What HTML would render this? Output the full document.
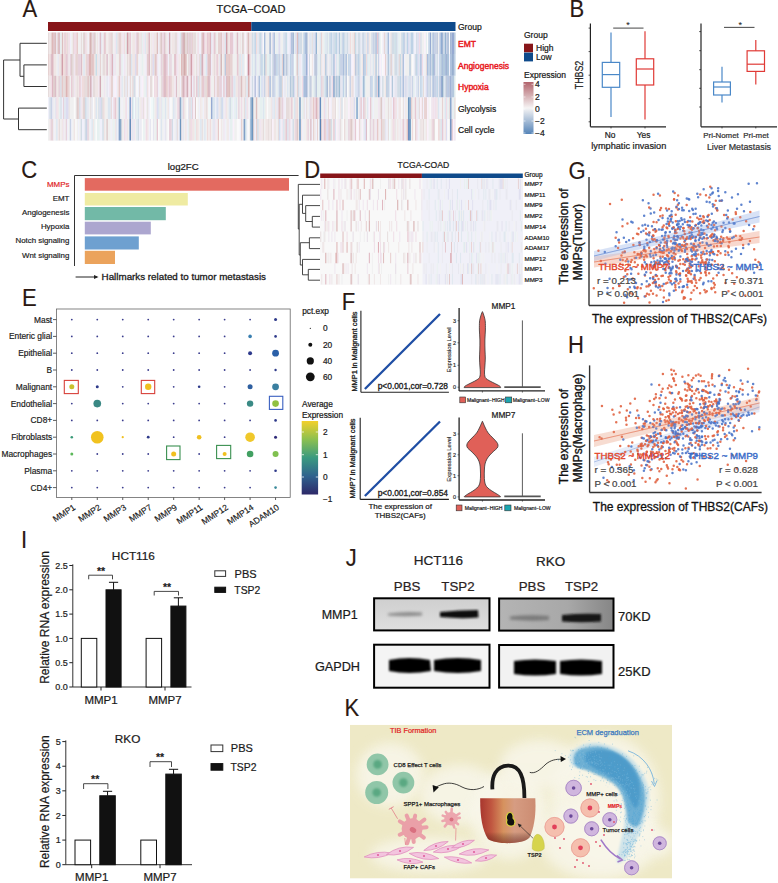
<!DOCTYPE html><html><head><meta charset="utf-8"><style>html,body{margin:0;padding:0;background:#fff;width:778px;height:883px;overflow:hidden}svg{display:block;font-family:"Liberation Sans",sans-serif}</style></head><body><svg width="778" height="883" viewBox="0 0 778 883" font-family='"Liberation Sans", sans-serif'><rect width="778" height="883" fill="#fff"/><text transform="translate(22.6 17.4) scale(0.93 1)" font-size="23.7" fill="#2a1812" stroke="#2a1812" stroke-width="0.15">A</text><text x="251" y="12.96" font-size="11" text-anchor="middle" fill="#1a1a1a" stroke="#1a1a1a" stroke-width="0.22">TCGA−COAD</text><rect x="48" y="22" width="203.3" height="9" fill="#871519"/><rect x="251.3" y="22" width="204.2" height="9" fill="#0e4a8b"/><rect x="48" y="32.5" width="407.5" height="108" fill="#f6f6f8"/><path d="M48 32.5h1.41v21.6h-1.41zM48 75.7h1.41v21.6h-1.41zM57.51 75.7h1.41v21.6h-1.41zM58.87 118.9h1.41v21.6h-1.41zM60.23 54.1h1.41v21.6h-1.41zM62.94 75.7h1.41v21.6h-1.41zM64.3 75.7h1.41v21.6h-1.41zM67.02 32.5h1.41v21.6h-1.41zM68.38 97.3h1.41v21.6h-1.41zM72.45 54.1h1.41v21.6h-1.41zM72.45 75.7h1.41v21.6h-1.41zM76.53 75.7h1.41v21.6h-1.41zM80.6 32.5h1.41v21.6h-1.41zM84.68 75.7h1.41v21.6h-1.41zM86.03 75.7h1.41v21.6h-1.41zM88.75 75.7h1.41v21.6h-1.41zM90.11 97.3h1.41v21.6h-1.41zM91.47 32.5h1.41v21.6h-1.41zM92.83 75.7h1.41v21.6h-1.41zM94.18 75.7h1.41v21.6h-1.41zM102.33 54.1h1.41v21.6h-1.41zM103.69 54.1h1.41v21.6h-1.41zM109.12 32.5h1.41v21.6h-1.41zM111.84 32.5h1.41v21.6h-1.41zM117.28 32.5h1.41v21.6h-1.41zM124.07 75.7h1.41v21.6h-1.41zM126.78 54.1h1.41v21.6h-1.41zM126.78 75.7h1.41v21.6h-1.41zM139.01 75.7h1.41v21.6h-1.41zM140.37 32.5h1.41v21.6h-1.41zM143.08 97.3h1.41v21.6h-1.41zM147.16 32.5h1.41v21.6h-1.41zM147.16 97.3h1.41v21.6h-1.41zM149.88 75.7h1.41v21.6h-1.41zM151.23 75.7h1.41v21.6h-1.41zM153.95 54.1h1.41v21.6h-1.41zM160.74 75.7h1.41v21.6h-1.41zM162.1 54.1h1.41v21.6h-1.41zM164.82 32.5h1.41v21.6h-1.41zM168.89 54.1h1.41v21.6h-1.41zM174.32 32.5h1.41v21.6h-1.41zM175.68 32.5h1.41v21.6h-1.41zM177.04 118.9h1.41v21.6h-1.41zM185.19 32.5h1.41v21.6h-1.41zM187.91 54.1h1.41v21.6h-1.41zM193.34 32.5h1.41v21.6h-1.41zM194.7 32.5h1.41v21.6h-1.41zM196.06 54.1h1.41v21.6h-1.41zM198.78 54.1h1.41v21.6h-1.41zM198.78 75.7h1.41v21.6h-1.41zM201.49 118.9h1.41v21.6h-1.41zM204.21 75.7h1.41v21.6h-1.41zM205.57 75.7h1.41v21.6h-1.41zM205.57 97.3h1.41v21.6h-1.41zM213.72 54.1h1.41v21.6h-1.41zM215.08 32.5h1.41v21.6h-1.41zM227.3 32.5h1.41v21.6h-1.41zM230.02 75.7h1.41v21.6h-1.41zM238.17 54.1h1.41v21.6h-1.41zM239.53 75.7h1.41v21.6h-1.41zM243.6 97.3h1.41v21.6h-1.41zM244.96 75.7h1.41v21.6h-1.41zM246.32 32.5h1.41v21.6h-1.41zM253.11 97.3h1.41v21.6h-1.41zM262.62 118.9h1.41v21.6h-1.41zM268.05 118.9h1.41v21.6h-1.41zM270.77 118.9h1.41v21.6h-1.41zM277.56 118.9h1.41v21.6h-1.41zM280.27 97.3h1.41v21.6h-1.41zM281.63 75.7h1.41v21.6h-1.41zM284.35 118.9h1.41v21.6h-1.41zM285.71 97.3h1.41v21.6h-1.41zM287.07 97.3h1.41v21.6h-1.41zM288.43 97.3h1.41v21.6h-1.41zM295.22 97.3h1.41v21.6h-1.41zM303.37 97.3h1.41v21.6h-1.41zM306.08 97.3h1.41v21.6h-1.41zM311.52 32.5h1.41v21.6h-1.41zM322.38 75.7h1.41v21.6h-1.41zM327.82 97.3h1.41v21.6h-1.41zM334.61 97.3h1.41v21.6h-1.41zM340.04 118.9h1.41v21.6h-1.41zM364.49 97.3h1.41v21.6h-1.41zM379.43 97.3h1.41v21.6h-1.41zM382.15 118.9h1.41v21.6h-1.41zM383.51 118.9h1.41v21.6h-1.41zM387.58 97.3h1.41v21.6h-1.41zM387.58 118.9h1.41v21.6h-1.41zM390.3 32.5h1.41v21.6h-1.41zM394.38 118.9h1.41v21.6h-1.41zM402.53 97.3h1.41v21.6h-1.41zM418.82 97.3h1.41v21.6h-1.41zM420.18 118.9h1.41v21.6h-1.41zM422.9 75.7h1.41v21.6h-1.41zM422.9 118.9h1.41v21.6h-1.41zM425.62 54.1h1.41v21.6h-1.41zM433.77 118.9h1.41v21.6h-1.41zM439.2 118.9h1.41v21.6h-1.41zM448.71 97.3h1.41v21.6h-1.41zM454.14 97.3h1.41v21.6h-1.41z" fill="#e6dcdc"/><path d="M48 54.1h1.41v21.6h-1.41zM50.72 32.5h1.41v21.6h-1.41zM52.08 118.9h1.41v21.6h-1.41zM64.3 54.1h1.41v21.6h-1.41zM68.38 75.7h1.41v21.6h-1.41zM72.45 32.5h1.41v21.6h-1.41zM75.17 54.1h1.41v21.6h-1.41zM76.53 54.1h1.41v21.6h-1.41zM77.88 97.3h1.41v21.6h-1.41zM83.32 75.7h1.41v21.6h-1.41zM86.03 54.1h1.41v21.6h-1.41zM88.75 32.5h1.41v21.6h-1.41zM99.62 54.1h1.41v21.6h-1.41zM102.33 97.3h1.41v21.6h-1.41zM105.05 32.5h1.41v21.6h-1.41zM110.48 32.5h1.41v21.6h-1.41zM110.48 75.7h1.41v21.6h-1.41zM110.48 97.3h1.41v21.6h-1.41zM111.84 75.7h1.41v21.6h-1.41zM118.63 32.5h1.41v21.6h-1.41zM118.63 54.1h1.41v21.6h-1.41zM119.99 32.5h1.41v21.6h-1.41zM128.14 32.5h1.41v21.6h-1.41zM129.5 75.7h1.41v21.6h-1.41zM132.22 75.7h1.41v21.6h-1.41zM137.65 32.5h1.41v21.6h-1.41zM151.23 54.1h1.41v21.6h-1.41zM159.38 32.5h1.41v21.6h-1.41zM181.12 75.7h1.41v21.6h-1.41zM189.27 97.3h1.41v21.6h-1.41zM189.27 118.9h1.41v21.6h-1.41zM191.98 32.5h1.41v21.6h-1.41zM213.72 75.7h1.41v21.6h-1.41zM216.43 75.7h1.41v21.6h-1.41zM217.79 32.5h1.41v21.6h-1.41zM217.79 75.7h1.41v21.6h-1.41zM219.15 32.5h1.41v21.6h-1.41zM230.02 54.1h1.41v21.6h-1.41zM231.38 54.1h1.41v21.6h-1.41zM240.88 118.9h1.41v21.6h-1.41zM249.03 75.7h1.41v21.6h-1.41zM253.11 118.9h1.41v21.6h-1.41zM255.83 118.9h1.41v21.6h-1.41zM265.33 54.1h1.41v21.6h-1.41zM268.05 75.7h1.41v21.6h-1.41zM281.63 54.1h1.41v21.6h-1.41zM296.58 75.7h1.41v21.6h-1.41zM312.88 118.9h1.41v21.6h-1.41zM316.95 97.3h1.41v21.6h-1.41zM316.95 118.9h1.41v21.6h-1.41zM321.03 32.5h1.41v21.6h-1.41zM321.03 118.9h1.41v21.6h-1.41zM325.1 118.9h1.41v21.6h-1.41zM344.12 118.9h1.41v21.6h-1.41zM349.55 118.9h1.41v21.6h-1.41zM352.27 75.7h1.41v21.6h-1.41zM353.62 32.5h1.41v21.6h-1.41zM359.06 118.9h1.41v21.6h-1.41zM383.51 32.5h1.41v21.6h-1.41zM384.87 54.1h1.41v21.6h-1.41zM398.45 54.1h1.41v21.6h-1.41zM410.68 97.3h1.41v21.6h-1.41zM414.75 118.9h1.41v21.6h-1.41zM421.54 97.3h1.41v21.6h-1.41zM425.62 97.3h1.41v21.6h-1.41zM441.92 97.3h1.41v21.6h-1.41z" fill="#e6d2d2"/><path d="M48 97.3h1.41v21.6h-1.41zM53.43 118.9h1.41v21.6h-1.41zM56.15 32.5h1.41v21.6h-1.41zM61.58 97.3h1.41v21.6h-1.41zM67.02 118.9h1.41v21.6h-1.41zM69.73 32.5h1.41v21.6h-1.41zM71.09 118.9h1.41v21.6h-1.41zM77.88 118.9h1.41v21.6h-1.41zM81.96 118.9h1.41v21.6h-1.41zM83.32 118.9h1.41v21.6h-1.41zM87.39 32.5h1.41v21.6h-1.41zM90.11 118.9h1.41v21.6h-1.41zM98.26 32.5h1.41v21.6h-1.41zM99.62 118.9h1.41v21.6h-1.41zM100.97 118.9h1.41v21.6h-1.41zM107.77 75.7h1.41v21.6h-1.41zM110.48 118.9h1.41v21.6h-1.41zM111.84 97.3h1.41v21.6h-1.41zM113.2 75.7h1.41v21.6h-1.41zM115.92 75.7h1.41v21.6h-1.41zM117.28 118.9h1.41v21.6h-1.41zM121.35 97.3h1.41v21.6h-1.41zM122.71 54.1h1.41v21.6h-1.41zM126.78 97.3h1.41v21.6h-1.41zM128.14 75.7h1.41v21.6h-1.41zM137.65 75.7h1.41v21.6h-1.41zM139.01 54.1h1.41v21.6h-1.41zM139.01 118.9h1.41v21.6h-1.41zM140.37 75.7h1.41v21.6h-1.41zM144.44 54.1h1.41v21.6h-1.41zM148.52 97.3h1.41v21.6h-1.41zM148.52 118.9h1.41v21.6h-1.41zM158.03 32.5h1.41v21.6h-1.41zM158.03 54.1h1.41v21.6h-1.41zM158.03 75.7h1.41v21.6h-1.41zM163.46 118.9h1.41v21.6h-1.41zM167.53 32.5h1.41v21.6h-1.41zM167.53 54.1h1.41v21.6h-1.41zM168.89 97.3h1.41v21.6h-1.41zM172.97 118.9h1.41v21.6h-1.41zM178.4 32.5h1.41v21.6h-1.41zM178.4 118.9h1.41v21.6h-1.41zM179.76 75.7h1.41v21.6h-1.41zM186.55 118.9h1.41v21.6h-1.41zM191.98 75.7h1.41v21.6h-1.41zM198.78 32.5h1.41v21.6h-1.41zM198.78 97.3h1.41v21.6h-1.41zM200.13 32.5h1.41v21.6h-1.41zM202.85 97.3h1.41v21.6h-1.41zM211 54.1h1.41v21.6h-1.41zM215.08 97.3h1.41v21.6h-1.41zM221.87 75.7h1.41v21.6h-1.41zM224.58 118.9h1.41v21.6h-1.41zM228.66 118.9h1.41v21.6h-1.41zM232.73 97.3h1.41v21.6h-1.41zM239.53 118.9h1.41v21.6h-1.41zM246.32 54.1h1.41v21.6h-1.41zM246.32 118.9h1.41v21.6h-1.41zM249.03 97.3h1.41v21.6h-1.41zM250.39 75.7h1.41v21.6h-1.41zM253.11 75.7h1.41v21.6h-1.41zM254.47 118.9h1.41v21.6h-1.41zM255.83 75.7h1.41v21.6h-1.41zM270.77 54.1h1.41v21.6h-1.41zM280.27 118.9h1.41v21.6h-1.41zM282.99 75.7h1.41v21.6h-1.41zM284.35 97.3h1.41v21.6h-1.41zM287.07 32.5h1.41v21.6h-1.41zM288.43 32.5h1.41v21.6h-1.41zM288.43 54.1h1.41v21.6h-1.41zM291.14 118.9h1.41v21.6h-1.41zM300.65 54.1h1.41v21.6h-1.41zM302.01 118.9h1.41v21.6h-1.41zM304.73 97.3h1.41v21.6h-1.41zM307.44 75.7h1.41v21.6h-1.41zM311.52 118.9h1.41v21.6h-1.41zM312.88 54.1h1.41v21.6h-1.41zM315.59 118.9h1.41v21.6h-1.41zM322.38 54.1h1.41v21.6h-1.41zM330.53 97.3h1.41v21.6h-1.41zM337.32 32.5h1.41v21.6h-1.41zM338.68 97.3h1.41v21.6h-1.41zM350.91 54.1h1.41v21.6h-1.41zM353.62 75.7h1.41v21.6h-1.41zM356.34 32.5h1.41v21.6h-1.41zM360.42 32.5h1.41v21.6h-1.41zM361.78 97.3h1.41v21.6h-1.41zM372.64 97.3h1.41v21.6h-1.41zM379.43 118.9h1.41v21.6h-1.41zM380.79 54.1h1.41v21.6h-1.41zM380.79 75.7h1.41v21.6h-1.41zM382.15 32.5h1.41v21.6h-1.41zM382.15 97.3h1.41v21.6h-1.41zM386.23 118.9h1.41v21.6h-1.41zM388.94 32.5h1.41v21.6h-1.41zM391.66 97.3h1.41v21.6h-1.41zM393.02 75.7h1.41v21.6h-1.41zM397.09 97.3h1.41v21.6h-1.41zM403.88 54.1h1.41v21.6h-1.41zM403.88 97.3h1.41v21.6h-1.41zM413.39 32.5h1.41v21.6h-1.41zM413.39 54.1h1.41v21.6h-1.41zM414.75 32.5h1.41v21.6h-1.41zM414.75 75.7h1.41v21.6h-1.41zM417.47 118.9h1.41v21.6h-1.41zM422.9 54.1h1.41v21.6h-1.41zM422.9 97.3h1.41v21.6h-1.41zM424.26 75.7h1.41v21.6h-1.41zM437.84 54.1h1.41v21.6h-1.41zM439.2 97.3h1.41v21.6h-1.41zM443.28 118.9h1.41v21.6h-1.41zM448.71 54.1h1.41v21.6h-1.41z" fill="#f0f0fa"/><path d="M48 118.9h1.41v21.6h-1.41zM53.43 97.3h1.41v21.6h-1.41zM54.79 118.9h1.41v21.6h-1.41zM56.15 54.1h1.41v21.6h-1.41zM60.23 118.9h1.41v21.6h-1.41zM64.3 118.9h1.41v21.6h-1.41zM68.38 54.1h1.41v21.6h-1.41zM68.38 118.9h1.41v21.6h-1.41zM69.73 75.7h1.41v21.6h-1.41zM69.73 97.3h1.41v21.6h-1.41zM71.09 32.5h1.41v21.6h-1.41zM71.09 97.3h1.41v21.6h-1.41zM72.45 97.3h1.41v21.6h-1.41zM72.45 118.9h1.41v21.6h-1.41zM75.17 97.3h1.41v21.6h-1.41zM76.53 118.9h1.41v21.6h-1.41zM77.88 32.5h1.41v21.6h-1.41zM79.24 32.5h1.41v21.6h-1.41zM79.24 118.9h1.41v21.6h-1.41zM81.96 32.5h1.41v21.6h-1.41zM88.75 97.3h1.41v21.6h-1.41zM88.75 118.9h1.41v21.6h-1.41zM95.54 32.5h1.41v21.6h-1.41zM96.9 97.3h1.41v21.6h-1.41zM100.97 54.1h1.41v21.6h-1.41zM100.97 75.7h1.41v21.6h-1.41zM102.33 32.5h1.41v21.6h-1.41zM102.33 75.7h1.41v21.6h-1.41zM105.05 75.7h1.41v21.6h-1.41zM105.05 97.3h1.41v21.6h-1.41zM105.05 118.9h1.41v21.6h-1.41zM106.41 32.5h1.41v21.6h-1.41zM106.41 97.3h1.41v21.6h-1.41zM107.77 54.1h1.41v21.6h-1.41zM107.77 118.9h1.41v21.6h-1.41zM109.12 118.9h1.41v21.6h-1.41zM111.84 118.9h1.41v21.6h-1.41zM113.2 32.5h1.41v21.6h-1.41zM115.92 54.1h1.41v21.6h-1.41zM117.28 54.1h1.41v21.6h-1.41zM119.99 97.3h1.41v21.6h-1.41zM122.71 75.7h1.41v21.6h-1.41zM122.71 97.3h1.41v21.6h-1.41zM122.71 118.9h1.41v21.6h-1.41zM124.07 97.3h1.41v21.6h-1.41zM125.42 54.1h1.41v21.6h-1.41zM128.14 97.3h1.41v21.6h-1.41zM128.14 118.9h1.41v21.6h-1.41zM130.86 32.5h1.41v21.6h-1.41zM130.86 75.7h1.41v21.6h-1.41zM134.93 118.9h1.41v21.6h-1.41zM137.65 54.1h1.41v21.6h-1.41zM139.01 97.3h1.41v21.6h-1.41zM140.37 54.1h1.41v21.6h-1.41zM143.08 54.1h1.41v21.6h-1.41zM143.08 75.7h1.41v21.6h-1.41zM144.44 118.9h1.41v21.6h-1.41zM145.8 97.3h1.41v21.6h-1.41zM149.88 32.5h1.41v21.6h-1.41zM149.88 54.1h1.41v21.6h-1.41zM153.95 97.3h1.41v21.6h-1.41zM153.95 118.9h1.41v21.6h-1.41zM159.38 54.1h1.41v21.6h-1.41zM159.38 75.7h1.41v21.6h-1.41zM159.38 118.9h1.41v21.6h-1.41zM162.1 118.9h1.41v21.6h-1.41zM163.46 97.3h1.41v21.6h-1.41zM166.18 97.3h1.41v21.6h-1.41zM166.18 118.9h1.41v21.6h-1.41zM170.25 32.5h1.41v21.6h-1.41zM171.61 54.1h1.41v21.6h-1.41zM171.61 97.3h1.41v21.6h-1.41zM172.97 54.1h1.41v21.6h-1.41zM174.32 118.9h1.41v21.6h-1.41zM175.68 97.3h1.41v21.6h-1.41zM177.04 75.7h1.41v21.6h-1.41zM179.76 54.1h1.41v21.6h-1.41zM183.83 118.9h1.41v21.6h-1.41zM185.19 97.3h1.41v21.6h-1.41zM186.55 54.1h1.41v21.6h-1.41zM189.27 75.7h1.41v21.6h-1.41zM194.7 54.1h1.41v21.6h-1.41zM194.7 75.7h1.41v21.6h-1.41zM196.06 32.5h1.41v21.6h-1.41zM197.42 97.3h1.41v21.6h-1.41zM198.78 118.9h1.41v21.6h-1.41zM201.49 97.3h1.41v21.6h-1.41zM202.85 118.9h1.41v21.6h-1.41zM204.21 54.1h1.41v21.6h-1.41zM205.57 118.9h1.41v21.6h-1.41zM208.28 118.9h1.41v21.6h-1.41zM209.64 97.3h1.41v21.6h-1.41zM211 75.7h1.41v21.6h-1.41zM211 118.9h1.41v21.6h-1.41zM212.36 75.7h1.41v21.6h-1.41zM216.43 32.5h1.41v21.6h-1.41zM216.43 118.9h1.41v21.6h-1.41zM221.87 54.1h1.41v21.6h-1.41zM221.87 118.9h1.41v21.6h-1.41zM223.22 97.3h1.41v21.6h-1.41zM225.94 118.9h1.41v21.6h-1.41zM227.3 97.3h1.41v21.6h-1.41zM232.73 54.1h1.41v21.6h-1.41zM234.09 32.5h1.41v21.6h-1.41zM234.09 54.1h1.41v21.6h-1.41zM234.09 118.9h1.41v21.6h-1.41zM235.45 54.1h1.41v21.6h-1.41zM235.45 118.9h1.41v21.6h-1.41zM236.81 97.3h1.41v21.6h-1.41zM238.17 32.5h1.41v21.6h-1.41zM239.53 97.3h1.41v21.6h-1.41zM240.88 32.5h1.41v21.6h-1.41zM242.24 97.3h1.41v21.6h-1.41zM243.6 32.5h1.41v21.6h-1.41zM243.6 54.1h1.41v21.6h-1.41zM247.68 97.3h1.41v21.6h-1.41zM249.03 118.9h1.41v21.6h-1.41zM250.39 54.1h1.41v21.6h-1.41zM254.47 97.3h1.41v21.6h-1.41zM257.18 97.3h1.41v21.6h-1.41zM258.54 97.3h1.41v21.6h-1.41zM263.98 118.9h1.41v21.6h-1.41zM265.33 32.5h1.41v21.6h-1.41zM266.69 32.5h1.41v21.6h-1.41zM268.05 32.5h1.41v21.6h-1.41zM268.05 97.3h1.41v21.6h-1.41zM269.41 97.3h1.41v21.6h-1.41zM270.77 32.5h1.41v21.6h-1.41zM270.77 75.7h1.41v21.6h-1.41zM274.84 32.5h1.41v21.6h-1.41zM276.2 75.7h1.41v21.6h-1.41zM276.2 118.9h1.41v21.6h-1.41zM280.27 32.5h1.41v21.6h-1.41zM281.63 32.5h1.41v21.6h-1.41zM285.71 75.7h1.41v21.6h-1.41zM288.43 75.7h1.41v21.6h-1.41zM292.5 97.3h1.41v21.6h-1.41zM295.22 54.1h1.41v21.6h-1.41zM295.22 75.7h1.41v21.6h-1.41zM297.93 97.3h1.41v21.6h-1.41zM300.65 75.7h1.41v21.6h-1.41zM300.65 97.3h1.41v21.6h-1.41zM302.01 32.5h1.41v21.6h-1.41zM303.37 118.9h1.41v21.6h-1.41zM304.73 118.9h1.41v21.6h-1.41zM307.44 32.5h1.41v21.6h-1.41zM307.44 97.3h1.41v21.6h-1.41zM308.8 118.9h1.41v21.6h-1.41zM311.52 75.7h1.41v21.6h-1.41zM316.95 32.5h1.41v21.6h-1.41zM318.31 32.5h1.41v21.6h-1.41zM321.03 97.3h1.41v21.6h-1.41zM322.38 32.5h1.41v21.6h-1.41zM322.38 97.3h1.41v21.6h-1.41zM326.46 97.3h1.41v21.6h-1.41zM327.82 54.1h1.41v21.6h-1.41zM327.82 75.7h1.41v21.6h-1.41zM331.89 118.9h1.41v21.6h-1.41zM337.32 54.1h1.41v21.6h-1.41zM337.32 97.3h1.41v21.6h-1.41zM337.32 118.9h1.41v21.6h-1.41zM341.4 118.9h1.41v21.6h-1.41zM345.48 97.3h1.41v21.6h-1.41zM345.48 118.9h1.41v21.6h-1.41zM346.83 54.1h1.41v21.6h-1.41zM346.83 97.3h1.41v21.6h-1.41zM346.83 118.9h1.41v21.6h-1.41zM348.19 75.7h1.41v21.6h-1.41zM350.91 32.5h1.41v21.6h-1.41zM354.98 97.3h1.41v21.6h-1.41zM357.7 97.3h1.41v21.6h-1.41zM360.42 54.1h1.41v21.6h-1.41zM360.42 118.9h1.41v21.6h-1.41zM365.85 75.7h1.41v21.6h-1.41zM365.85 97.3h1.41v21.6h-1.41zM367.21 75.7h1.41v21.6h-1.41zM368.57 75.7h1.41v21.6h-1.41zM368.57 118.9h1.41v21.6h-1.41zM369.93 32.5h1.41v21.6h-1.41zM371.28 54.1h1.41v21.6h-1.41zM371.28 118.9h1.41v21.6h-1.41zM372.64 75.7h1.41v21.6h-1.41zM374 97.3h1.41v21.6h-1.41zM375.36 97.3h1.41v21.6h-1.41zM376.72 54.1h1.41v21.6h-1.41zM376.72 97.3h1.41v21.6h-1.41zM383.51 75.7h1.41v21.6h-1.41zM384.87 97.3h1.41v21.6h-1.41zM386.23 97.3h1.41v21.6h-1.41zM388.94 97.3h1.41v21.6h-1.41zM390.3 118.9h1.41v21.6h-1.41zM393.02 54.1h1.41v21.6h-1.41zM395.73 118.9h1.41v21.6h-1.41zM398.45 118.9h1.41v21.6h-1.41zM399.81 32.5h1.41v21.6h-1.41zM401.17 118.9h1.41v21.6h-1.41zM405.24 32.5h1.41v21.6h-1.41zM405.24 54.1h1.41v21.6h-1.41zM406.6 54.1h1.41v21.6h-1.41zM406.6 97.3h1.41v21.6h-1.41zM407.96 54.1h1.41v21.6h-1.41zM410.68 54.1h1.41v21.6h-1.41zM410.68 118.9h1.41v21.6h-1.41zM413.39 97.3h1.41v21.6h-1.41zM416.11 97.3h1.41v21.6h-1.41zM418.82 75.7h1.41v21.6h-1.41zM418.82 118.9h1.41v21.6h-1.41zM421.54 32.5h1.41v21.6h-1.41zM422.9 32.5h1.41v21.6h-1.41zM424.26 54.1h1.41v21.6h-1.41zM424.26 118.9h1.41v21.6h-1.41zM428.33 97.3h1.41v21.6h-1.41zM428.33 118.9h1.41v21.6h-1.41zM429.69 118.9h1.41v21.6h-1.41zM431.05 75.7h1.41v21.6h-1.41zM437.84 32.5h1.41v21.6h-1.41zM440.56 97.3h1.41v21.6h-1.41zM443.28 97.3h1.41v21.6h-1.41zM448.71 118.9h1.41v21.6h-1.41z" fill="#f0f0f0"/><path d="M49.36 32.5h1.41v21.6h-1.41zM49.36 75.7h1.41v21.6h-1.41zM49.36 118.9h1.41v21.6h-1.41zM53.43 54.1h1.41v21.6h-1.41zM54.79 54.1h1.41v21.6h-1.41zM56.15 75.7h1.41v21.6h-1.41zM57.51 97.3h1.41v21.6h-1.41zM57.51 118.9h1.41v21.6h-1.41zM58.87 54.1h1.41v21.6h-1.41zM61.58 118.9h1.41v21.6h-1.41zM62.94 32.5h1.41v21.6h-1.41zM73.81 118.9h1.41v21.6h-1.41zM75.17 75.7h1.41v21.6h-1.41zM77.88 75.7h1.41v21.6h-1.41zM81.96 54.1h1.41v21.6h-1.41zM81.96 97.3h1.41v21.6h-1.41zM84.68 54.1h1.41v21.6h-1.41zM86.03 32.5h1.41v21.6h-1.41zM92.83 118.9h1.41v21.6h-1.41zM94.18 54.1h1.41v21.6h-1.41zM94.18 97.3h1.41v21.6h-1.41zM95.54 75.7h1.41v21.6h-1.41zM96.9 32.5h1.41v21.6h-1.41zM96.9 54.1h1.41v21.6h-1.41zM96.9 75.7h1.41v21.6h-1.41zM103.69 97.3h1.41v21.6h-1.41zM103.69 118.9h1.41v21.6h-1.41zM105.05 54.1h1.41v21.6h-1.41zM107.77 32.5h1.41v21.6h-1.41zM109.12 54.1h1.41v21.6h-1.41zM114.56 118.9h1.41v21.6h-1.41zM115.92 97.3h1.41v21.6h-1.41zM117.28 75.7h1.41v21.6h-1.41zM121.35 32.5h1.41v21.6h-1.41zM121.35 118.9h1.41v21.6h-1.41zM126.78 118.9h1.41v21.6h-1.41zM128.14 54.1h1.41v21.6h-1.41zM132.22 32.5h1.41v21.6h-1.41zM132.22 54.1h1.41v21.6h-1.41zM133.57 32.5h1.41v21.6h-1.41zM133.57 54.1h1.41v21.6h-1.41zM139.01 32.5h1.41v21.6h-1.41zM140.37 97.3h1.41v21.6h-1.41zM145.8 32.5h1.41v21.6h-1.41zM147.16 118.9h1.41v21.6h-1.41zM151.23 32.5h1.41v21.6h-1.41zM153.95 32.5h1.41v21.6h-1.41zM155.31 32.5h1.41v21.6h-1.41zM155.31 97.3h1.41v21.6h-1.41zM159.38 97.3h1.41v21.6h-1.41zM166.18 32.5h1.41v21.6h-1.41zM167.53 97.3h1.41v21.6h-1.41zM171.61 32.5h1.41v21.6h-1.41zM171.61 75.7h1.41v21.6h-1.41zM172.97 32.5h1.41v21.6h-1.41zM172.97 75.7h1.41v21.6h-1.41zM178.4 54.1h1.41v21.6h-1.41zM178.4 75.7h1.41v21.6h-1.41zM181.12 118.9h1.41v21.6h-1.41zM183.83 97.3h1.41v21.6h-1.41zM185.19 118.9h1.41v21.6h-1.41zM191.98 118.9h1.41v21.6h-1.41zM193.34 54.1h1.41v21.6h-1.41zM193.34 118.9h1.41v21.6h-1.41zM197.42 118.9h1.41v21.6h-1.41zM200.13 97.3h1.41v21.6h-1.41zM204.21 97.3h1.41v21.6h-1.41zM205.57 32.5h1.41v21.6h-1.41zM206.93 97.3h1.41v21.6h-1.41zM212.36 54.1h1.41v21.6h-1.41zM215.08 54.1h1.41v21.6h-1.41zM217.79 54.1h1.41v21.6h-1.41zM219.15 97.3h1.41v21.6h-1.41zM220.51 118.9h1.41v21.6h-1.41zM223.22 54.1h1.41v21.6h-1.41zM225.94 97.3h1.41v21.6h-1.41zM227.3 118.9h1.41v21.6h-1.41zM228.66 32.5h1.41v21.6h-1.41zM235.45 32.5h1.41v21.6h-1.41zM235.45 75.7h1.41v21.6h-1.41zM236.81 75.7h1.41v21.6h-1.41zM239.53 32.5h1.41v21.6h-1.41zM240.88 54.1h1.41v21.6h-1.41zM242.24 75.7h1.41v21.6h-1.41zM242.24 118.9h1.41v21.6h-1.41zM243.6 75.7h1.41v21.6h-1.41zM249.03 32.5h1.41v21.6h-1.41zM250.39 32.5h1.41v21.6h-1.41zM258.54 118.9h1.41v21.6h-1.41zM261.26 118.9h1.41v21.6h-1.41zM265.33 75.7h1.41v21.6h-1.41zM265.33 97.3h1.41v21.6h-1.41zM265.33 118.9h1.41v21.6h-1.41zM266.69 75.7h1.41v21.6h-1.41zM266.69 118.9h1.41v21.6h-1.41zM269.41 118.9h1.41v21.6h-1.41zM270.77 97.3h1.41v21.6h-1.41zM273.48 118.9h1.41v21.6h-1.41zM274.84 97.3h1.41v21.6h-1.41zM274.84 118.9h1.41v21.6h-1.41zM289.78 97.3h1.41v21.6h-1.41zM293.86 118.9h1.41v21.6h-1.41zM297.93 118.9h1.41v21.6h-1.41zM300.65 118.9h1.41v21.6h-1.41zM306.08 118.9h1.41v21.6h-1.41zM311.52 54.1h1.41v21.6h-1.41zM311.52 97.3h1.41v21.6h-1.41zM314.23 118.9h1.41v21.6h-1.41zM321.03 54.1h1.41v21.6h-1.41zM323.74 54.1h1.41v21.6h-1.41zM331.89 97.3h1.41v21.6h-1.41zM333.25 97.3h1.41v21.6h-1.41zM340.04 97.3h1.41v21.6h-1.41zM344.12 97.3h1.41v21.6h-1.41zM349.55 97.3h1.41v21.6h-1.41zM350.91 75.7h1.41v21.6h-1.41zM352.27 32.5h1.41v21.6h-1.41zM352.27 97.3h1.41v21.6h-1.41zM352.27 118.9h1.41v21.6h-1.41zM353.62 54.1h1.41v21.6h-1.41zM361.78 54.1h1.41v21.6h-1.41zM365.85 32.5h1.41v21.6h-1.41zM368.57 32.5h1.41v21.6h-1.41zM374 54.1h1.41v21.6h-1.41zM374 118.9h1.41v21.6h-1.41zM378.07 118.9h1.41v21.6h-1.41zM384.87 75.7h1.41v21.6h-1.41zM390.3 97.3h1.41v21.6h-1.41zM391.66 118.9h1.41v21.6h-1.41zM395.73 97.3h1.41v21.6h-1.41zM397.09 118.9h1.41v21.6h-1.41zM398.45 97.3h1.41v21.6h-1.41zM399.81 97.3h1.41v21.6h-1.41zM401.17 54.1h1.41v21.6h-1.41zM405.24 97.3h1.41v21.6h-1.41zM405.24 118.9h1.41v21.6h-1.41zM412.03 97.3h1.41v21.6h-1.41zM421.54 118.9h1.41v21.6h-1.41zM425.62 118.9h1.41v21.6h-1.41zM431.05 118.9h1.41v21.6h-1.41zM436.48 97.3h1.41v21.6h-1.41zM444.63 118.9h1.41v21.6h-1.41z" fill="#f0e6e6"/><path d="M49.36 54.1h1.41v21.6h-1.41zM62.94 54.1h1.41v21.6h-1.41zM65.66 32.5h1.41v21.6h-1.41zM81.96 75.7h1.41v21.6h-1.41zM124.07 32.5h1.41v21.6h-1.41zM147.16 75.7h1.41v21.6h-1.41zM155.31 75.7h1.41v21.6h-1.41zM196.06 118.9h1.41v21.6h-1.41zM206.93 118.9h1.41v21.6h-1.41zM209.64 118.9h1.41v21.6h-1.41zM223.22 32.5h1.41v21.6h-1.41zM255.83 32.5h1.41v21.6h-1.41zM296.58 97.3h1.41v21.6h-1.41zM349.55 32.5h1.41v21.6h-1.41zM365.85 54.1h1.41v21.6h-1.41zM412.03 118.9h1.41v21.6h-1.41zM437.84 118.9h1.41v21.6h-1.41z" fill="#f0dcdc"/><path d="M49.36 97.3h1.41v21.6h-1.41zM60.23 75.7h1.41v21.6h-1.41zM60.23 97.3h1.41v21.6h-1.41zM79.24 97.3h1.41v21.6h-1.41zM80.6 118.9h1.41v21.6h-1.41zM84.68 97.3h1.41v21.6h-1.41zM84.68 118.9h1.41v21.6h-1.41zM98.26 97.3h1.41v21.6h-1.41zM100.97 97.3h1.41v21.6h-1.41zM102.33 118.9h1.41v21.6h-1.41zM133.57 75.7h1.41v21.6h-1.41zM137.65 118.9h1.41v21.6h-1.41zM171.61 118.9h1.41v21.6h-1.41zM197.42 75.7h1.41v21.6h-1.41zM200.13 54.1h1.41v21.6h-1.41zM220.51 97.3h1.41v21.6h-1.41zM230.02 97.3h1.41v21.6h-1.41zM251.75 32.5h1.41v21.6h-1.41zM251.75 75.7h1.41v21.6h-1.41zM257.18 118.9h1.41v21.6h-1.41zM258.54 32.5h1.41v21.6h-1.41zM259.9 54.1h1.41v21.6h-1.41zM272.12 54.1h1.41v21.6h-1.41zM277.56 54.1h1.41v21.6h-1.41zM287.07 54.1h1.41v21.6h-1.41zM291.14 75.7h1.41v21.6h-1.41zM292.5 118.9h1.41v21.6h-1.41zM297.93 75.7h1.41v21.6h-1.41zM299.29 32.5h1.41v21.6h-1.41zM300.65 32.5h1.41v21.6h-1.41zM308.8 54.1h1.41v21.6h-1.41zM308.8 75.7h1.41v21.6h-1.41zM314.23 75.7h1.41v21.6h-1.41zM319.67 54.1h1.41v21.6h-1.41zM326.46 32.5h1.41v21.6h-1.41zM330.53 54.1h1.41v21.6h-1.41zM330.53 118.9h1.41v21.6h-1.41zM334.61 75.7h1.41v21.6h-1.41zM341.4 97.3h1.41v21.6h-1.41zM344.12 32.5h1.41v21.6h-1.41zM344.12 54.1h1.41v21.6h-1.41zM346.83 32.5h1.41v21.6h-1.41zM356.34 54.1h1.41v21.6h-1.41zM357.7 32.5h1.41v21.6h-1.41zM359.06 32.5h1.41v21.6h-1.41zM359.06 54.1h1.41v21.6h-1.41zM359.06 75.7h1.41v21.6h-1.41zM361.78 32.5h1.41v21.6h-1.41zM371.28 32.5h1.41v21.6h-1.41zM374 32.5h1.41v21.6h-1.41zM382.15 75.7h1.41v21.6h-1.41zM391.66 32.5h1.41v21.6h-1.41zM393.02 32.5h1.41v21.6h-1.41zM394.38 54.1h1.41v21.6h-1.41zM395.73 32.5h1.41v21.6h-1.41zM395.73 54.1h1.41v21.6h-1.41zM397.09 75.7h1.41v21.6h-1.41zM398.45 75.7h1.41v21.6h-1.41zM401.17 32.5h1.41v21.6h-1.41zM414.75 54.1h1.41v21.6h-1.41zM416.11 32.5h1.41v21.6h-1.41zM420.18 32.5h1.41v21.6h-1.41zM428.33 75.7h1.41v21.6h-1.41zM431.05 54.1h1.41v21.6h-1.41zM436.48 54.1h1.41v21.6h-1.41zM444.63 75.7h1.41v21.6h-1.41z" fill="#d2dce6"/><path d="M50.72 54.1h1.41v21.6h-1.41zM53.43 32.5h1.41v21.6h-1.41zM54.79 75.7h1.41v21.6h-1.41zM58.87 32.5h1.41v21.6h-1.41zM80.6 54.1h1.41v21.6h-1.41zM99.62 32.5h1.41v21.6h-1.41zM106.41 54.1h1.41v21.6h-1.41zM136.29 32.5h1.41v21.6h-1.41zM163.46 32.5h1.41v21.6h-1.41zM164.82 54.1h1.41v21.6h-1.41zM164.82 75.7h1.41v21.6h-1.41zM175.68 75.7h1.41v21.6h-1.41zM178.4 97.3h1.41v21.6h-1.41zM209.64 54.1h1.41v21.6h-1.41zM225.94 75.7h1.41v21.6h-1.41zM236.81 32.5h1.41v21.6h-1.41zM310.16 118.9h1.41v21.6h-1.41zM365.85 118.9h1.41v21.6h-1.41zM451.43 118.9h1.41v21.6h-1.41z" fill="#dcbec8"/><path d="M50.72 75.7h1.41v21.6h-1.41zM56.15 97.3h1.41v21.6h-1.41zM68.38 32.5h1.41v21.6h-1.41zM73.81 32.5h1.41v21.6h-1.41zM75.17 32.5h1.41v21.6h-1.41zM84.68 32.5h1.41v21.6h-1.41zM113.2 97.3h1.41v21.6h-1.41zM124.07 118.9h1.41v21.6h-1.41zM125.42 97.3h1.41v21.6h-1.41zM145.8 118.9h1.41v21.6h-1.41zM153.95 75.7h1.41v21.6h-1.41zM162.1 32.5h1.41v21.6h-1.41zM167.53 75.7h1.41v21.6h-1.41zM175.68 54.1h1.41v21.6h-1.41zM177.04 97.3h1.41v21.6h-1.41zM185.19 75.7h1.41v21.6h-1.41zM187.91 75.7h1.41v21.6h-1.41zM190.62 118.9h1.41v21.6h-1.41zM191.98 54.1h1.41v21.6h-1.41zM197.42 32.5h1.41v21.6h-1.41zM202.85 54.1h1.41v21.6h-1.41zM204.21 32.5h1.41v21.6h-1.41zM209.64 75.7h1.41v21.6h-1.41zM240.88 97.3h1.41v21.6h-1.41zM246.32 97.3h1.41v21.6h-1.41zM302.01 75.7h1.41v21.6h-1.41zM314.23 97.3h1.41v21.6h-1.41zM318.31 97.3h1.41v21.6h-1.41zM323.74 97.3h1.41v21.6h-1.41zM331.89 75.7h1.41v21.6h-1.41zM393.02 118.9h1.41v21.6h-1.41zM394.38 97.3h1.41v21.6h-1.41zM416.11 118.9h1.41v21.6h-1.41zM418.82 32.5h1.41v21.6h-1.41zM421.54 54.1h1.41v21.6h-1.41zM432.41 97.3h1.41v21.6h-1.41zM435.12 97.3h1.41v21.6h-1.41zM445.99 97.3h1.41v21.6h-1.41z" fill="#f0dce6"/><path d="M50.72 97.3h1.41v21.6h-1.41zM69.73 118.9h1.41v21.6h-1.41zM86.03 118.9h1.41v21.6h-1.41zM254.47 54.1h1.41v21.6h-1.41zM263.98 75.7h1.41v21.6h-1.41zM272.12 75.7h1.41v21.6h-1.41zM273.48 75.7h1.41v21.6h-1.41zM278.92 54.1h1.41v21.6h-1.41zM278.92 75.7h1.41v21.6h-1.41zM284.35 32.5h1.41v21.6h-1.41zM291.14 54.1h1.41v21.6h-1.41zM292.5 54.1h1.41v21.6h-1.41zM297.93 32.5h1.41v21.6h-1.41zM304.73 54.1h1.41v21.6h-1.41zM329.18 32.5h1.41v21.6h-1.41zM333.25 32.5h1.41v21.6h-1.41zM337.32 75.7h1.41v21.6h-1.41zM340.04 54.1h1.41v21.6h-1.41zM341.4 32.5h1.41v21.6h-1.41zM341.4 54.1h1.41v21.6h-1.41zM349.55 54.1h1.41v21.6h-1.41zM349.55 75.7h1.41v21.6h-1.41zM357.7 75.7h1.41v21.6h-1.41zM363.13 32.5h1.41v21.6h-1.41zM367.21 32.5h1.41v21.6h-1.41zM369.93 75.7h1.41v21.6h-1.41zM372.64 32.5h1.41v21.6h-1.41zM378.07 32.5h1.41v21.6h-1.41zM378.07 54.1h1.41v21.6h-1.41zM387.58 75.7h1.41v21.6h-1.41zM403.88 32.5h1.41v21.6h-1.41zM405.24 75.7h1.41v21.6h-1.41zM409.32 75.7h1.41v21.6h-1.41zM412.03 75.7h1.41v21.6h-1.41zM417.47 75.7h1.41v21.6h-1.41zM426.98 75.7h1.41v21.6h-1.41zM429.69 75.7h1.41v21.6h-1.41zM433.77 32.5h1.41v21.6h-1.41zM433.77 75.7h1.41v21.6h-1.41zM435.12 32.5h1.41v21.6h-1.41zM435.12 75.7h1.41v21.6h-1.41zM439.2 32.5h1.41v21.6h-1.41zM445.99 32.5h1.41v21.6h-1.41z" fill="#c8d2e6"/><path d="M50.72 118.9h1.41v21.6h-1.41zM58.87 75.7h1.41v21.6h-1.41zM62.94 97.3h1.41v21.6h-1.41zM65.66 118.9h1.41v21.6h-1.41zM67.02 54.1h1.41v21.6h-1.41zM69.73 54.1h1.41v21.6h-1.41zM77.88 54.1h1.41v21.6h-1.41zM79.24 54.1h1.41v21.6h-1.41zM87.39 118.9h1.41v21.6h-1.41zM92.83 32.5h1.41v21.6h-1.41zM110.48 54.1h1.41v21.6h-1.41zM119.99 54.1h1.41v21.6h-1.41zM156.67 75.7h1.41v21.6h-1.41zM160.74 54.1h1.41v21.6h-1.41zM162.1 75.7h1.41v21.6h-1.41zM168.89 118.9h1.41v21.6h-1.41zM170.25 54.1h1.41v21.6h-1.41zM170.25 118.9h1.41v21.6h-1.41zM182.47 97.3h1.41v21.6h-1.41zM187.91 32.5h1.41v21.6h-1.41zM189.27 54.1h1.41v21.6h-1.41zM190.62 32.5h1.41v21.6h-1.41zM191.98 97.3h1.41v21.6h-1.41zM193.34 75.7h1.41v21.6h-1.41zM206.93 54.1h1.41v21.6h-1.41zM219.15 75.7h1.41v21.6h-1.41zM220.51 75.7h1.41v21.6h-1.41zM238.17 75.7h1.41v21.6h-1.41zM238.17 97.3h1.41v21.6h-1.41zM277.56 97.3h1.41v21.6h-1.41zM281.63 97.3h1.41v21.6h-1.41zM288.43 118.9h1.41v21.6h-1.41zM295.22 118.9h1.41v21.6h-1.41zM307.44 118.9h1.41v21.6h-1.41zM310.16 97.3h1.41v21.6h-1.41zM321.03 75.7h1.41v21.6h-1.41zM327.82 118.9h1.41v21.6h-1.41zM348.19 118.9h1.41v21.6h-1.41zM369.93 118.9h1.41v21.6h-1.41zM372.64 118.9h1.41v21.6h-1.41zM376.72 75.7h1.41v21.6h-1.41z" fill="#e6d2dc"/><path d="M52.08 32.5h1.41v21.6h-1.41zM65.66 75.7h1.41v21.6h-1.41zM88.75 54.1h1.41v21.6h-1.41zM90.11 54.1h1.41v21.6h-1.41zM155.31 54.1h1.41v21.6h-1.41zM181.12 54.1h1.41v21.6h-1.41zM185.19 54.1h1.41v21.6h-1.41zM208.28 54.1h1.41v21.6h-1.41zM227.3 75.7h1.41v21.6h-1.41zM247.68 75.7h1.41v21.6h-1.41z" fill="#dcb4b4"/><path d="M52.08 54.1h1.41v21.6h-1.41zM52.08 75.7h1.41v21.6h-1.41zM111.84 54.1h1.41v21.6h-1.41zM148.52 32.5h1.41v21.6h-1.41zM148.52 54.1h1.41v21.6h-1.41zM163.46 54.1h1.41v21.6h-1.41zM163.46 75.7h1.41v21.6h-1.41zM174.32 54.1h1.41v21.6h-1.41zM190.62 75.7h1.41v21.6h-1.41zM202.85 32.5h1.41v21.6h-1.41zM209.64 32.5h1.41v21.6h-1.41zM231.38 32.5h1.41v21.6h-1.41zM315.59 97.3h1.41v21.6h-1.41z" fill="#dcb4be"/><path d="M52.08 97.3h1.41v21.6h-1.41zM54.79 97.3h1.41v21.6h-1.41zM57.51 54.1h1.41v21.6h-1.41zM87.39 97.3h1.41v21.6h-1.41zM91.47 97.3h1.41v21.6h-1.41zM98.26 54.1h1.41v21.6h-1.41zM100.97 32.5h1.41v21.6h-1.41zM106.41 75.7h1.41v21.6h-1.41zM113.2 54.1h1.41v21.6h-1.41zM115.92 118.9h1.41v21.6h-1.41zM117.28 97.3h1.41v21.6h-1.41zM125.42 75.7h1.41v21.6h-1.41zM134.93 75.7h1.41v21.6h-1.41zM134.93 97.3h1.41v21.6h-1.41zM140.37 118.9h1.41v21.6h-1.41zM145.8 75.7h1.41v21.6h-1.41zM149.88 118.9h1.41v21.6h-1.41zM152.59 118.9h1.41v21.6h-1.41zM160.74 97.3h1.41v21.6h-1.41zM164.82 118.9h1.41v21.6h-1.41zM174.32 97.3h1.41v21.6h-1.41zM175.68 118.9h1.41v21.6h-1.41zM182.47 118.9h1.41v21.6h-1.41zM187.91 97.3h1.41v21.6h-1.41zM200.13 75.7h1.41v21.6h-1.41zM211 32.5h1.41v21.6h-1.41zM212.36 118.9h1.41v21.6h-1.41zM213.72 118.9h1.41v21.6h-1.41zM217.79 97.3h1.41v21.6h-1.41zM219.15 54.1h1.41v21.6h-1.41zM224.58 75.7h1.41v21.6h-1.41zM232.73 75.7h1.41v21.6h-1.41zM255.83 54.1h1.41v21.6h-1.41zM257.18 32.5h1.41v21.6h-1.41zM257.18 75.7h1.41v21.6h-1.41zM258.54 54.1h1.41v21.6h-1.41zM262.62 75.7h1.41v21.6h-1.41zM272.12 97.3h1.41v21.6h-1.41zM276.2 97.3h1.41v21.6h-1.41zM277.56 32.5h1.41v21.6h-1.41zM284.35 75.7h1.41v21.6h-1.41zM299.29 75.7h1.41v21.6h-1.41zM308.8 32.5h1.41v21.6h-1.41zM308.8 97.3h1.41v21.6h-1.41zM325.1 97.3h1.41v21.6h-1.41zM326.46 54.1h1.41v21.6h-1.41zM329.18 54.1h1.41v21.6h-1.41zM330.53 75.7h1.41v21.6h-1.41zM340.04 75.7h1.41v21.6h-1.41zM341.4 75.7h1.41v21.6h-1.41zM348.19 32.5h1.41v21.6h-1.41zM359.06 97.3h1.41v21.6h-1.41zM369.93 54.1h1.41v21.6h-1.41zM379.43 75.7h1.41v21.6h-1.41zM384.87 32.5h1.41v21.6h-1.41zM384.87 118.9h1.41v21.6h-1.41zM386.23 54.1h1.41v21.6h-1.41zM391.66 54.1h1.41v21.6h-1.41zM394.38 75.7h1.41v21.6h-1.41zM395.73 75.7h1.41v21.6h-1.41zM401.17 75.7h1.41v21.6h-1.41zM403.88 75.7h1.41v21.6h-1.41zM406.6 75.7h1.41v21.6h-1.41zM410.68 75.7h1.41v21.6h-1.41zM417.47 97.3h1.41v21.6h-1.41zM437.84 75.7h1.41v21.6h-1.41zM451.43 97.3h1.41v21.6h-1.41z" fill="#e6e6f0"/><path d="M53.43 75.7h1.41v21.6h-1.41zM71.09 54.1h1.41v21.6h-1.41zM76.53 97.3h1.41v21.6h-1.41zM83.32 32.5h1.41v21.6h-1.41zM83.32 97.3h1.41v21.6h-1.41zM94.18 32.5h1.41v21.6h-1.41zM106.41 118.9h1.41v21.6h-1.41zM129.5 54.1h1.41v21.6h-1.41zM160.74 32.5h1.41v21.6h-1.41zM181.12 32.5h1.41v21.6h-1.41zM186.55 32.5h1.41v21.6h-1.41zM189.27 32.5h1.41v21.6h-1.41zM194.7 97.3h1.41v21.6h-1.41zM242.24 32.5h1.41v21.6h-1.41zM296.58 54.1h1.41v21.6h-1.41zM296.58 118.9h1.41v21.6h-1.41zM329.18 118.9h1.41v21.6h-1.41zM350.91 118.9h1.41v21.6h-1.41zM380.79 97.3h1.41v21.6h-1.41zM390.3 54.1h1.41v21.6h-1.41z" fill="#dcc8c8"/><path d="M54.79 32.5h1.41v21.6h-1.41zM57.51 32.5h1.41v21.6h-1.41zM61.58 32.5h1.41v21.6h-1.41zM87.39 75.7h1.41v21.6h-1.41zM91.47 54.1h1.41v21.6h-1.41zM147.16 54.1h1.41v21.6h-1.41zM156.67 32.5h1.41v21.6h-1.41zM182.47 54.1h1.41v21.6h-1.41zM201.49 32.5h1.41v21.6h-1.41zM220.51 32.5h1.41v21.6h-1.41zM227.3 54.1h1.41v21.6h-1.41zM228.66 75.7h1.41v21.6h-1.41zM240.88 75.7h1.41v21.6h-1.41zM247.68 32.5h1.41v21.6h-1.41zM255.83 97.3h1.41v21.6h-1.41zM278.92 97.3h1.41v21.6h-1.41zM296.58 32.5h1.41v21.6h-1.41z" fill="#dcbebe"/><path d="M56.15 118.9h1.41v21.6h-1.41zM64.3 97.3h1.41v21.6h-1.41zM83.32 54.1h1.41v21.6h-1.41zM86.03 97.3h1.41v21.6h-1.41zM91.47 118.9h1.41v21.6h-1.41zM95.54 97.3h1.41v21.6h-1.41zM107.77 97.3h1.41v21.6h-1.41zM109.12 97.3h1.41v21.6h-1.41zM115.92 32.5h1.41v21.6h-1.41zM121.35 75.7h1.41v21.6h-1.41zM130.86 54.1h1.41v21.6h-1.41zM132.22 118.9h1.41v21.6h-1.41zM136.29 118.9h1.41v21.6h-1.41zM137.65 97.3h1.41v21.6h-1.41zM144.44 32.5h1.41v21.6h-1.41zM158.03 97.3h1.41v21.6h-1.41zM160.74 118.9h1.41v21.6h-1.41zM164.82 97.3h1.41v21.6h-1.41zM172.97 97.3h1.41v21.6h-1.41zM179.76 32.5h1.41v21.6h-1.41zM181.12 97.3h1.41v21.6h-1.41zM190.62 97.3h1.41v21.6h-1.41zM200.13 118.9h1.41v21.6h-1.41zM204.21 118.9h1.41v21.6h-1.41zM205.57 54.1h1.41v21.6h-1.41zM212.36 97.3h1.41v21.6h-1.41zM213.72 97.3h1.41v21.6h-1.41zM224.58 32.5h1.41v21.6h-1.41zM228.66 97.3h1.41v21.6h-1.41zM234.09 75.7h1.41v21.6h-1.41zM235.45 97.3h1.41v21.6h-1.41zM239.53 54.1h1.41v21.6h-1.41zM242.24 54.1h1.41v21.6h-1.41zM244.96 97.3h1.41v21.6h-1.41zM246.32 75.7h1.41v21.6h-1.41zM251.75 54.1h1.41v21.6h-1.41zM253.11 32.5h1.41v21.6h-1.41zM262.62 97.3h1.41v21.6h-1.41zM273.48 97.3h1.41v21.6h-1.41zM274.84 75.7h1.41v21.6h-1.41zM277.56 75.7h1.41v21.6h-1.41zM280.27 54.1h1.41v21.6h-1.41zM282.99 32.5h1.41v21.6h-1.41zM282.99 118.9h1.41v21.6h-1.41zM284.35 54.1h1.41v21.6h-1.41zM287.07 75.7h1.41v21.6h-1.41zM287.07 118.9h1.41v21.6h-1.41zM293.86 97.3h1.41v21.6h-1.41zM297.93 54.1h1.41v21.6h-1.41zM302.01 54.1h1.41v21.6h-1.41zM310.16 32.5h1.41v21.6h-1.41zM312.88 32.5h1.41v21.6h-1.41zM316.95 54.1h1.41v21.6h-1.41zM319.67 32.5h1.41v21.6h-1.41zM319.67 75.7h1.41v21.6h-1.41zM323.74 75.7h1.41v21.6h-1.41zM325.1 32.5h1.41v21.6h-1.41zM331.89 32.5h1.41v21.6h-1.41zM331.89 54.1h1.41v21.6h-1.41zM334.61 118.9h1.41v21.6h-1.41zM335.97 54.1h1.41v21.6h-1.41zM345.48 32.5h1.41v21.6h-1.41zM354.98 75.7h1.41v21.6h-1.41zM361.78 75.7h1.41v21.6h-1.41zM364.49 32.5h1.41v21.6h-1.41zM367.21 54.1h1.41v21.6h-1.41zM367.21 97.3h1.41v21.6h-1.41zM372.64 54.1h1.41v21.6h-1.41zM374 75.7h1.41v21.6h-1.41zM386.23 32.5h1.41v21.6h-1.41zM388.94 54.1h1.41v21.6h-1.41zM388.94 75.7h1.41v21.6h-1.41zM397.09 32.5h1.41v21.6h-1.41zM397.09 54.1h1.41v21.6h-1.41zM407.96 75.7h1.41v21.6h-1.41zM409.32 32.5h1.41v21.6h-1.41zM416.11 75.7h1.41v21.6h-1.41zM418.82 54.1h1.41v21.6h-1.41zM421.54 75.7h1.41v21.6h-1.41zM435.12 54.1h1.41v21.6h-1.41zM437.84 97.3h1.41v21.6h-1.41zM440.56 118.9h1.41v21.6h-1.41zM443.28 32.5h1.41v21.6h-1.41zM443.28 75.7h1.41v21.6h-1.41zM444.63 97.3h1.41v21.6h-1.41z" fill="#dce6f0"/><path d="M58.87 97.3h1.41v21.6h-1.41zM60.23 32.5h1.41v21.6h-1.41zM94.18 118.9h1.41v21.6h-1.41zM96.9 118.9h1.41v21.6h-1.41zM98.26 118.9h1.41v21.6h-1.41zM113.2 118.9h1.41v21.6h-1.41zM121.35 54.1h1.41v21.6h-1.41zM125.42 32.5h1.41v21.6h-1.41zM136.29 97.3h1.41v21.6h-1.41zM141.73 32.5h1.41v21.6h-1.41zM141.73 54.1h1.41v21.6h-1.41zM143.08 118.9h1.41v21.6h-1.41zM144.44 75.7h1.41v21.6h-1.41zM152.59 97.3h1.41v21.6h-1.41zM155.31 118.9h1.41v21.6h-1.41zM162.1 97.3h1.41v21.6h-1.41zM187.91 118.9h1.41v21.6h-1.41zM194.7 118.9h1.41v21.6h-1.41zM230.02 118.9h1.41v21.6h-1.41zM231.38 97.3h1.41v21.6h-1.41zM231.38 118.9h1.41v21.6h-1.41zM234.09 97.3h1.41v21.6h-1.41zM253.11 54.1h1.41v21.6h-1.41zM257.18 54.1h1.41v21.6h-1.41zM259.9 75.7h1.41v21.6h-1.41zM259.9 97.3h1.41v21.6h-1.41zM261.26 97.3h1.41v21.6h-1.41zM262.62 54.1h1.41v21.6h-1.41zM263.98 97.3h1.41v21.6h-1.41zM266.69 54.1h1.41v21.6h-1.41zM268.05 54.1h1.41v21.6h-1.41zM276.2 32.5h1.41v21.6h-1.41zM293.86 32.5h1.41v21.6h-1.41zM302.01 97.3h1.41v21.6h-1.41zM312.88 75.7h1.41v21.6h-1.41zM316.95 75.7h1.41v21.6h-1.41zM318.31 54.1h1.41v21.6h-1.41zM318.31 75.7h1.41v21.6h-1.41zM323.74 32.5h1.41v21.6h-1.41zM327.82 32.5h1.41v21.6h-1.41zM340.04 32.5h1.41v21.6h-1.41zM344.12 75.7h1.41v21.6h-1.41zM363.13 118.9h1.41v21.6h-1.41zM364.49 75.7h1.41v21.6h-1.41zM368.57 54.1h1.41v21.6h-1.41zM371.28 97.3h1.41v21.6h-1.41zM379.43 32.5h1.41v21.6h-1.41zM398.45 32.5h1.41v21.6h-1.41zM413.39 75.7h1.41v21.6h-1.41zM425.62 32.5h1.41v21.6h-1.41zM431.05 32.5h1.41v21.6h-1.41zM447.35 97.3h1.41v21.6h-1.41zM452.78 97.3h1.41v21.6h-1.41zM454.14 75.7h1.41v21.6h-1.41z" fill="#e6f0f0"/><path d="M61.58 54.1h1.41v21.6h-1.41zM126.78 32.5h1.41v21.6h-1.41zM190.62 54.1h1.41v21.6h-1.41zM225.94 32.5h1.41v21.6h-1.41z" fill="#d2a0aa"/><path d="M61.58 75.7h1.41v21.6h-1.41zM67.02 75.7h1.41v21.6h-1.41zM76.53 32.5h1.41v21.6h-1.41zM92.83 54.1h1.41v21.6h-1.41zM118.63 75.7h1.41v21.6h-1.41zM136.29 54.1h1.41v21.6h-1.41zM166.18 75.7h1.41v21.6h-1.41zM170.25 75.7h1.41v21.6h-1.41zM201.49 75.7h1.41v21.6h-1.41zM206.93 75.7h1.41v21.6h-1.41zM208.28 32.5h1.41v21.6h-1.41zM217.79 118.9h1.41v21.6h-1.41zM225.94 54.1h1.41v21.6h-1.41zM228.66 54.1h1.41v21.6h-1.41zM312.88 97.3h1.41v21.6h-1.41zM376.72 118.9h1.41v21.6h-1.41zM380.79 118.9h1.41v21.6h-1.41zM406.6 118.9h1.41v21.6h-1.41zM424.26 97.3h1.41v21.6h-1.41z" fill="#e6c8c8"/><path d="M62.94 118.9h1.41v21.6h-1.41zM73.81 54.1h1.41v21.6h-1.41zM73.81 75.7h1.41v21.6h-1.41zM80.6 75.7h1.41v21.6h-1.41zM80.6 97.3h1.41v21.6h-1.41zM91.47 75.7h1.41v21.6h-1.41zM98.26 75.7h1.41v21.6h-1.41zM103.69 75.7h1.41v21.6h-1.41zM109.12 75.7h1.41v21.6h-1.41zM114.56 32.5h1.41v21.6h-1.41zM114.56 54.1h1.41v21.6h-1.41zM119.99 75.7h1.41v21.6h-1.41zM122.71 32.5h1.41v21.6h-1.41zM124.07 54.1h1.41v21.6h-1.41zM125.42 118.9h1.41v21.6h-1.41zM130.86 97.3h1.41v21.6h-1.41zM130.86 118.9h1.41v21.6h-1.41zM133.57 118.9h1.41v21.6h-1.41zM134.93 32.5h1.41v21.6h-1.41zM141.73 97.3h1.41v21.6h-1.41zM143.08 32.5h1.41v21.6h-1.41zM145.8 54.1h1.41v21.6h-1.41zM152.59 32.5h1.41v21.6h-1.41zM156.67 54.1h1.41v21.6h-1.41zM174.32 75.7h1.41v21.6h-1.41zM177.04 32.5h1.41v21.6h-1.41zM177.04 54.1h1.41v21.6h-1.41zM197.42 54.1h1.41v21.6h-1.41zM212.36 32.5h1.41v21.6h-1.41zM215.08 75.7h1.41v21.6h-1.41zM215.08 118.9h1.41v21.6h-1.41zM221.87 32.5h1.41v21.6h-1.41zM223.22 118.9h1.41v21.6h-1.41zM224.58 97.3h1.41v21.6h-1.41zM232.73 32.5h1.41v21.6h-1.41zM259.9 118.9h1.41v21.6h-1.41zM281.63 118.9h1.41v21.6h-1.41zM282.99 97.3h1.41v21.6h-1.41zM289.78 118.9h1.41v21.6h-1.41zM299.29 54.1h1.41v21.6h-1.41zM322.38 118.9h1.41v21.6h-1.41zM334.61 54.1h1.41v21.6h-1.41zM338.68 118.9h1.41v21.6h-1.41zM350.91 97.3h1.41v21.6h-1.41zM353.62 118.9h1.41v21.6h-1.41zM360.42 75.7h1.41v21.6h-1.41zM375.36 118.9h1.41v21.6h-1.41zM378.07 97.3h1.41v21.6h-1.41zM383.51 97.3h1.41v21.6h-1.41zM399.81 118.9h1.41v21.6h-1.41zM403.88 118.9h1.41v21.6h-1.41zM431.05 97.3h1.41v21.6h-1.41zM433.77 97.3h1.41v21.6h-1.41zM454.14 118.9h1.41v21.6h-1.41z" fill="#f0e6f0"/><path d="M64.3 32.5h1.41v21.6h-1.41zM65.66 54.1h1.41v21.6h-1.41zM71.09 75.7h1.41v21.6h-1.41zM79.24 75.7h1.41v21.6h-1.41zM87.39 54.1h1.41v21.6h-1.41zM103.69 32.5h1.41v21.6h-1.41zM114.56 97.3h1.41v21.6h-1.41zM129.5 32.5h1.41v21.6h-1.41zM156.67 118.9h1.41v21.6h-1.41zM166.18 54.1h1.41v21.6h-1.41zM168.89 75.7h1.41v21.6h-1.41zM183.83 75.7h1.41v21.6h-1.41zM196.06 75.7h1.41v21.6h-1.41zM202.85 75.7h1.41v21.6h-1.41zM206.93 32.5h1.41v21.6h-1.41zM213.72 32.5h1.41v21.6h-1.41zM216.43 54.1h1.41v21.6h-1.41zM223.22 75.7h1.41v21.6h-1.41zM230.02 32.5h1.41v21.6h-1.41zM231.38 75.7h1.41v21.6h-1.41zM236.81 54.1h1.41v21.6h-1.41zM249.03 54.1h1.41v21.6h-1.41zM285.71 118.9h1.41v21.6h-1.41zM291.14 97.3h1.41v21.6h-1.41zM323.74 118.9h1.41v21.6h-1.41zM333.25 118.9h1.41v21.6h-1.41zM354.98 118.9h1.41v21.6h-1.41zM360.42 97.3h1.41v21.6h-1.41zM363.13 97.3h1.41v21.6h-1.41zM369.93 97.3h1.41v21.6h-1.41zM376.72 32.5h1.41v21.6h-1.41zM393.02 97.3h1.41v21.6h-1.41zM402.53 118.9h1.41v21.6h-1.41zM414.75 97.3h1.41v21.6h-1.41zM432.41 118.9h1.41v21.6h-1.41zM441.92 118.9h1.41v21.6h-1.41z" fill="#e6c8d2"/><path d="M65.66 97.3h1.41v21.6h-1.41zM67.02 97.3h1.41v21.6h-1.41zM99.62 97.3h1.41v21.6h-1.41zM134.93 54.1h1.41v21.6h-1.41zM152.59 54.1h1.41v21.6h-1.41zM156.67 97.3h1.41v21.6h-1.41zM261.26 32.5h1.41v21.6h-1.41zM272.12 32.5h1.41v21.6h-1.41zM278.92 32.5h1.41v21.6h-1.41zM289.78 32.5h1.41v21.6h-1.41zM293.86 75.7h1.41v21.6h-1.41zM295.22 32.5h1.41v21.6h-1.41zM314.23 32.5h1.41v21.6h-1.41zM326.46 118.9h1.41v21.6h-1.41zM353.62 97.3h1.41v21.6h-1.41zM364.49 118.9h1.41v21.6h-1.41zM407.96 32.5h1.41v21.6h-1.41zM417.47 32.5h1.41v21.6h-1.41zM417.47 54.1h1.41v21.6h-1.41zM425.62 75.7h1.41v21.6h-1.41zM445.99 118.9h1.41v21.6h-1.41z" fill="#dcdcf0"/><path d="M73.81 97.3h1.41v21.6h-1.41zM75.17 118.9h1.41v21.6h-1.41zM92.83 97.3h1.41v21.6h-1.41zM95.54 118.9h1.41v21.6h-1.41zM136.29 75.7h1.41v21.6h-1.41zM141.73 118.9h1.41v21.6h-1.41zM149.88 97.3h1.41v21.6h-1.41zM151.23 118.9h1.41v21.6h-1.41zM152.59 75.7h1.41v21.6h-1.41zM158.03 118.9h1.41v21.6h-1.41zM167.53 118.9h1.41v21.6h-1.41zM170.25 97.3h1.41v21.6h-1.41zM186.55 97.3h1.41v21.6h-1.41zM196.06 97.3h1.41v21.6h-1.41zM219.15 118.9h1.41v21.6h-1.41zM236.81 118.9h1.41v21.6h-1.41zM238.17 118.9h1.41v21.6h-1.41zM244.96 54.1h1.41v21.6h-1.41zM247.68 118.9h1.41v21.6h-1.41zM262.62 32.5h1.41v21.6h-1.41zM266.69 97.3h1.41v21.6h-1.41zM310.16 54.1h1.41v21.6h-1.41zM318.31 118.9h1.41v21.6h-1.41zM335.97 97.3h1.41v21.6h-1.41zM342.76 97.3h1.41v21.6h-1.41zM342.76 118.9h1.41v21.6h-1.41zM346.83 75.7h1.41v21.6h-1.41zM356.34 118.9h1.41v21.6h-1.41zM367.21 118.9h1.41v21.6h-1.41zM380.79 32.5h1.41v21.6h-1.41zM382.15 54.1h1.41v21.6h-1.41zM401.17 97.3h1.41v21.6h-1.41zM412.03 54.1h1.41v21.6h-1.41zM413.39 118.9h1.41v21.6h-1.41zM426.98 32.5h1.41v21.6h-1.41zM429.69 97.3h1.41v21.6h-1.41zM435.12 118.9h1.41v21.6h-1.41zM436.48 118.9h1.41v21.6h-1.41zM447.35 118.9h1.41v21.6h-1.41zM448.71 32.5h1.41v21.6h-1.41z" fill="#fafafa"/><path d="M90.11 32.5h1.41v21.6h-1.41zM183.83 54.1h1.41v21.6h-1.41z" fill="#d2aaaa"/><path d="M90.11 75.7h1.41v21.6h-1.41zM99.62 75.7h1.41v21.6h-1.41zM168.89 32.5h1.41v21.6h-1.41zM182.47 32.5h1.41v21.6h-1.41zM182.47 75.7h1.41v21.6h-1.41zM186.55 75.7h1.41v21.6h-1.41zM201.49 54.1h1.41v21.6h-1.41zM208.28 75.7h1.41v21.6h-1.41z" fill="#d2aab4"/><path d="M95.54 54.1h1.41v21.6h-1.41zM132.22 97.3h1.41v21.6h-1.41zM244.96 118.9h1.41v21.6h-1.41zM259.9 32.5h1.41v21.6h-1.41zM269.41 54.1h1.41v21.6h-1.41zM285.71 32.5h1.41v21.6h-1.41zM325.1 75.7h1.41v21.6h-1.41zM334.61 32.5h1.41v21.6h-1.41zM338.68 54.1h1.41v21.6h-1.41zM354.98 32.5h1.41v21.6h-1.41zM394.38 32.5h1.41v21.6h-1.41zM399.81 54.1h1.41v21.6h-1.41z" fill="#c8dce6"/><path d="M114.56 75.7h1.41v21.6h-1.41zM141.73 75.7h1.41v21.6h-1.41zM144.44 97.3h1.41v21.6h-1.41zM148.52 75.7h1.41v21.6h-1.41zM193.34 97.3h1.41v21.6h-1.41zM232.73 118.9h1.41v21.6h-1.41zM244.96 32.5h1.41v21.6h-1.41zM272.12 118.9h1.41v21.6h-1.41zM307.44 54.1h1.41v21.6h-1.41zM329.18 97.3h1.41v21.6h-1.41zM335.97 118.9h1.41v21.6h-1.41zM348.19 97.3h1.41v21.6h-1.41zM352.27 54.1h1.41v21.6h-1.41zM357.7 118.9h1.41v21.6h-1.41zM361.78 118.9h1.41v21.6h-1.41zM368.57 97.3h1.41v21.6h-1.41zM379.43 54.1h1.41v21.6h-1.41zM383.51 54.1h1.41v21.6h-1.41zM390.3 75.7h1.41v21.6h-1.41zM420.18 97.3h1.41v21.6h-1.41zM424.26 32.5h1.41v21.6h-1.41zM426.98 97.3h1.41v21.6h-1.41zM426.98 118.9h1.41v21.6h-1.41zM452.78 118.9h1.41v21.6h-1.41z" fill="#faf0fa"/><path d="M118.63 97.3h1.41v21.6h-1.41zM338.68 75.7h1.41v21.6h-1.41zM443.28 54.1h1.41v21.6h-1.41z" fill="#a0bed2"/><path d="M118.63 118.9h1.41v21.6h-1.41zM243.6 118.9h1.41v21.6h-1.41zM333.25 75.7h1.41v21.6h-1.41zM450.07 97.3h1.41v21.6h-1.41zM451.43 54.1h1.41v21.6h-1.41z" fill="#82a0c8"/><path d="M119.99 118.9h1.41v21.6h-1.41zM179.76 97.3h1.41v21.6h-1.41zM250.39 97.3h1.41v21.6h-1.41zM441.92 75.7h1.41v21.6h-1.41z" fill="#8caac8"/><path d="M129.5 97.3h1.41v21.6h-1.41z" fill="#7896c8"/><path d="M129.5 118.9h1.41v21.6h-1.41zM319.67 118.9h1.41v21.6h-1.41z" fill="#5a82b4"/><path d="M133.57 97.3h1.41v21.6h-1.41zM151.23 97.3h1.41v21.6h-1.41zM208.28 97.3h1.41v21.6h-1.41zM293.86 54.1h1.41v21.6h-1.41zM388.94 118.9h1.41v21.6h-1.41z" fill="#f0fafa"/><path d="M179.76 118.9h1.41v21.6h-1.41zM251.75 97.3h1.41v21.6h-1.41zM251.75 118.9h1.41v21.6h-1.41zM299.29 97.3h1.41v21.6h-1.41zM407.96 97.3h1.41v21.6h-1.41z" fill="#6e96be"/><path d="M183.83 32.5h1.41v21.6h-1.41zM220.51 54.1h1.41v21.6h-1.41z" fill="#d2b4b4"/><path d="M211 97.3h1.41v21.6h-1.41zM306.08 54.1h1.41v21.6h-1.41zM429.69 32.5h1.41v21.6h-1.41zM440.56 75.7h1.41v21.6h-1.41zM450.07 75.7h1.41v21.6h-1.41zM451.43 32.5h1.41v21.6h-1.41zM452.78 32.5h1.41v21.6h-1.41z" fill="#96aad2"/><path d="M216.43 97.3h1.41v21.6h-1.41zM221.87 97.3h1.41v21.6h-1.41zM261.26 75.7h1.41v21.6h-1.41zM278.92 118.9h1.41v21.6h-1.41zM356.34 75.7h1.41v21.6h-1.41z" fill="#d2dcf0"/><path d="M224.58 54.1h1.41v21.6h-1.41zM274.84 54.1h1.41v21.6h-1.41zM285.71 54.1h1.41v21.6h-1.41zM310.16 75.7h1.41v21.6h-1.41zM314.23 54.1h1.41v21.6h-1.41zM315.59 54.1h1.41v21.6h-1.41zM315.59 75.7h1.41v21.6h-1.41zM329.18 75.7h1.41v21.6h-1.41zM345.48 75.7h1.41v21.6h-1.41zM354.98 54.1h1.41v21.6h-1.41zM436.48 32.5h1.41v21.6h-1.41zM445.99 75.7h1.41v21.6h-1.41zM448.71 75.7h1.41v21.6h-1.41z" fill="#bec8dc"/><path d="M247.68 54.1h1.41v21.6h-1.41z" fill="#c88c96"/><path d="M250.39 118.9h1.41v21.6h-1.41zM356.34 97.3h1.41v21.6h-1.41zM378.07 75.7h1.41v21.6h-1.41zM409.32 97.3h1.41v21.6h-1.41z" fill="#78a0c8"/><path d="M254.47 32.5h1.41v21.6h-1.41zM261.26 54.1h1.41v21.6h-1.41zM276.2 54.1h1.41v21.6h-1.41zM289.78 54.1h1.41v21.6h-1.41zM303.37 32.5h1.41v21.6h-1.41zM303.37 54.1h1.41v21.6h-1.41zM330.53 32.5h1.41v21.6h-1.41zM335.97 32.5h1.41v21.6h-1.41zM342.76 32.5h1.41v21.6h-1.41zM342.76 75.7h1.41v21.6h-1.41zM348.19 54.1h1.41v21.6h-1.41zM357.7 54.1h1.41v21.6h-1.41zM364.49 54.1h1.41v21.6h-1.41zM371.28 75.7h1.41v21.6h-1.41zM399.81 75.7h1.41v21.6h-1.41zM402.53 32.5h1.41v21.6h-1.41zM406.6 32.5h1.41v21.6h-1.41zM410.68 32.5h1.41v21.6h-1.41zM412.03 32.5h1.41v21.6h-1.41zM416.11 54.1h1.41v21.6h-1.41zM420.18 75.7h1.41v21.6h-1.41zM428.33 32.5h1.41v21.6h-1.41zM428.33 54.1h1.41v21.6h-1.41zM436.48 75.7h1.41v21.6h-1.41zM439.2 54.1h1.41v21.6h-1.41zM454.14 54.1h1.41v21.6h-1.41z" fill="#bed2e6"/><path d="M254.47 75.7h1.41v21.6h-1.41zM273.48 54.1h1.41v21.6h-1.41zM433.77 54.1h1.41v21.6h-1.41z" fill="#b4bedc"/><path d="M258.54 75.7h1.41v21.6h-1.41zM263.98 32.5h1.41v21.6h-1.41zM269.41 75.7h1.41v21.6h-1.41zM273.48 32.5h1.41v21.6h-1.41zM291.14 32.5h1.41v21.6h-1.41zM303.37 75.7h1.41v21.6h-1.41zM304.73 32.5h1.41v21.6h-1.41zM304.73 75.7h1.41v21.6h-1.41zM333.25 54.1h1.41v21.6h-1.41zM342.76 54.1h1.41v21.6h-1.41zM345.48 54.1h1.41v21.6h-1.41zM363.13 54.1h1.41v21.6h-1.41zM375.36 32.5h1.41v21.6h-1.41zM387.58 32.5h1.41v21.6h-1.41zM402.53 54.1h1.41v21.6h-1.41zM402.53 75.7h1.41v21.6h-1.41zM420.18 54.1h1.41v21.6h-1.41zM426.98 54.1h1.41v21.6h-1.41zM429.69 54.1h1.41v21.6h-1.41zM432.41 32.5h1.41v21.6h-1.41zM432.41 75.7h1.41v21.6h-1.41zM441.92 54.1h1.41v21.6h-1.41zM444.63 54.1h1.41v21.6h-1.41zM447.35 75.7h1.41v21.6h-1.41zM450.07 54.1h1.41v21.6h-1.41zM451.43 75.7h1.41v21.6h-1.41z" fill="#aabedc"/><path d="M263.98 54.1h1.41v21.6h-1.41zM280.27 75.7h1.41v21.6h-1.41zM289.78 75.7h1.41v21.6h-1.41zM292.5 75.7h1.41v21.6h-1.41zM325.1 54.1h1.41v21.6h-1.41zM335.97 75.7h1.41v21.6h-1.41zM338.68 32.5h1.41v21.6h-1.41zM375.36 54.1h1.41v21.6h-1.41zM375.36 75.7h1.41v21.6h-1.41zM386.23 75.7h1.41v21.6h-1.41zM387.58 54.1h1.41v21.6h-1.41zM391.66 75.7h1.41v21.6h-1.41zM409.32 54.1h1.41v21.6h-1.41zM439.2 75.7h1.41v21.6h-1.41zM440.56 54.1h1.41v21.6h-1.41zM452.78 75.7h1.41v21.6h-1.41zM454.14 32.5h1.41v21.6h-1.41z" fill="#b4c8dc"/><path d="M269.41 32.5h1.41v21.6h-1.41zM282.99 54.1h1.41v21.6h-1.41zM292.5 32.5h1.41v21.6h-1.41zM306.08 32.5h1.41v21.6h-1.41zM306.08 75.7h1.41v21.6h-1.41zM326.46 75.7h1.41v21.6h-1.41zM441.92 32.5h1.41v21.6h-1.41zM445.99 54.1h1.41v21.6h-1.41zM447.35 32.5h1.41v21.6h-1.41zM450.07 32.5h1.41v21.6h-1.41zM452.78 54.1h1.41v21.6h-1.41z" fill="#a0b4d2"/><path d="M299.29 118.9h1.41v21.6h-1.41z" fill="#5a8cbe"/><path d="M315.59 32.5h1.41v21.6h-1.41zM363.13 75.7h1.41v21.6h-1.41zM432.41 54.1h1.41v21.6h-1.41zM444.63 32.5h1.41v21.6h-1.41zM447.35 54.1h1.41v21.6h-1.41z" fill="#96b4d2"/><path d="M319.67 97.3h1.41v21.6h-1.41z" fill="#648cbe"/><path d="M407.96 118.9h1.41v21.6h-1.41zM450.07 118.9h1.41v21.6h-1.41z" fill="#6e8cbe"/><path d="M409.32 118.9h1.41v21.6h-1.41z" fill="#5082b4"/><path d="M440.56 32.5h1.41v21.6h-1.41z" fill="#8caad2"/><line x1="20" y1="43.3" x2="46.8" y2="43.3" stroke="#333" stroke-width="1"/><line x1="20" y1="43.3" x2="20" y2="76.3" stroke="#333" stroke-width="1"/><line x1="20" y1="76.3" x2="23.9" y2="76.3" stroke="#333" stroke-width="1"/><line x1="23.9" y1="64.9" x2="23.9" y2="86.5" stroke="#333" stroke-width="1"/><line x1="23.9" y1="64.9" x2="46.8" y2="64.9" stroke="#333" stroke-width="1"/><line x1="23.9" y1="86.5" x2="46.8" y2="86.5" stroke="#333" stroke-width="1"/><line x1="3.6" y1="60" x2="3.6" y2="119" stroke="#333" stroke-width="1"/><line x1="3.6" y1="60" x2="20" y2="60" stroke="#333" stroke-width="1"/><line x1="18.5" y1="108.1" x2="18.5" y2="129.7" stroke="#333" stroke-width="1"/><line x1="18.5" y1="108.1" x2="46.8" y2="108.1" stroke="#333" stroke-width="1"/><line x1="18.5" y1="129.7" x2="46.8" y2="129.7" stroke="#333" stroke-width="1"/><line x1="3.6" y1="119" x2="18.5" y2="119" stroke="#333" stroke-width="1"/><text x="458" y="29.56" font-size="8.5" text-anchor="start" fill="#1a1a1a" stroke="#1a1a1a" stroke-width="0.22">Group</text><text x="458" y="47.26" font-size="8.5" text-anchor="start" fill="#e8181c" stroke="#e8181c" stroke-width="0.42">EMT</text><text x="458" y="68.86" font-size="8.5" text-anchor="start" fill="#e8181c" stroke="#e8181c" stroke-width="0.42">Angiogenesis</text><text x="458" y="90.46" font-size="8.5" text-anchor="start" fill="#e8181c" stroke="#e8181c" stroke-width="0.42">Hypoxia</text><text x="458" y="111.56" font-size="8.5" text-anchor="start" fill="#1a1a1a" stroke="#1a1a1a" stroke-width="0.22">Glycolysis</text><text x="458" y="132.86" font-size="8.5" text-anchor="start" fill="#1a1a1a" stroke="#1a1a1a" stroke-width="0.22">Cell cycle</text><text x="524" y="37.76" font-size="8.5" text-anchor="start" fill="#1a1a1a" stroke="#1a1a1a" stroke-width="0.22">Group</text><rect x="524" y="43.7" width="9" height="8.6" fill="#871519"/><rect x="524" y="52.6" width="9" height="8.8" fill="#0e4a8b"/><text x="536" y="50.96" font-size="8.5" text-anchor="start" fill="#1a1a1a" stroke="#1a1a1a" stroke-width="0.22">High</text><text x="536" y="60.26" font-size="8.5" text-anchor="start" fill="#1a1a1a" stroke="#1a1a1a" stroke-width="0.22">Low</text><text x="524" y="78.06" font-size="8.5" text-anchor="start" fill="#1a1a1a" stroke="#1a1a1a" stroke-width="0.22">Expression</text><defs><linearGradient id="gA" x1="0" y1="0" x2="0" y2="1"><stop offset="0" stop-color="#b2646c"/><stop offset="0.5" stop-color="#f6f4f4"/><stop offset="1" stop-color="#5584b8"/></linearGradient><linearGradient id="gE" x1="0" y1="0" x2="0" y2="1"><stop offset="0" stop-color="#f3d02b"/><stop offset="0.25" stop-color="#8cc050"/><stop offset="0.5" stop-color="#3a9a80"/><stop offset="0.75" stop-color="#2f628e"/><stop offset="1" stop-color="#2d2868"/></linearGradient></defs><rect x="523.5" y="82" width="10" height="52" fill="url(#gA)"/><text x="535" y="87.36" font-size="8.5" text-anchor="start" fill="#1a1a1a" stroke="#1a1a1a" stroke-width="0.22">4</text><line x1="523.5" y1="84.3" x2="525.5" y2="84.3" stroke="#fff" stroke-width="0.6"/><line x1="531.5" y1="84.3" x2="533.5" y2="84.3" stroke="#fff" stroke-width="0.6"/><text x="535" y="100.06" font-size="8.5" text-anchor="start" fill="#1a1a1a" stroke="#1a1a1a" stroke-width="0.22">2</text><line x1="523.5" y1="97" x2="525.5" y2="97" stroke="#fff" stroke-width="0.6"/><line x1="531.5" y1="97" x2="533.5" y2="97" stroke="#fff" stroke-width="0.6"/><text x="535" y="112.06" font-size="8.5" text-anchor="start" fill="#1a1a1a" stroke="#1a1a1a" stroke-width="0.22">0</text><line x1="523.5" y1="109" x2="525.5" y2="109" stroke="#fff" stroke-width="0.6"/><line x1="531.5" y1="109" x2="533.5" y2="109" stroke="#fff" stroke-width="0.6"/><text x="535" y="124.06" font-size="8.5" text-anchor="start" fill="#1a1a1a" stroke="#1a1a1a" stroke-width="0.22">−2</text><line x1="523.5" y1="121" x2="525.5" y2="121" stroke="#fff" stroke-width="0.6"/><line x1="531.5" y1="121" x2="533.5" y2="121" stroke="#fff" stroke-width="0.6"/><text x="535" y="136.06" font-size="8.5" text-anchor="start" fill="#1a1a1a" stroke="#1a1a1a" stroke-width="0.22">−4</text><line x1="523.5" y1="133" x2="525.5" y2="133" stroke="#fff" stroke-width="0.6"/><line x1="531.5" y1="133" x2="533.5" y2="133" stroke="#fff" stroke-width="0.6"/><text transform="translate(569.5 17) scale(0.93 1)" font-size="23.7" fill="#2a1812" stroke="#2a1812" stroke-width="0.15">B</text><line x1="590.4" y1="23.5" x2="590.4" y2="126.8" stroke="#222" stroke-width="1.2"/><line x1="590.4" y1="126.8" x2="666" y2="126.8" stroke="#222" stroke-width="1.2"/><line x1="588.6" y1="28.1" x2="590.4" y2="28.1" stroke="#222" stroke-width="0.8"/><line x1="588.6" y1="51.6" x2="590.4" y2="51.6" stroke="#222" stroke-width="0.8"/><line x1="588.6" y1="75.2" x2="590.4" y2="75.2" stroke="#222" stroke-width="0.8"/><line x1="588.6" y1="98.7" x2="590.4" y2="98.7" stroke="#222" stroke-width="0.8"/><line x1="588.6" y1="121.8" x2="590.4" y2="121.8" stroke="#222" stroke-width="0.8"/><line x1="611" y1="32.5" x2="611" y2="62.4" stroke="#4a88c8" stroke-width="1.2"/><line x1="611" y1="87.3" x2="611" y2="117" stroke="#4a88c8" stroke-width="1.2"/><rect x="602.3" y="62.4" width="17.4" height="24.9" fill="none" stroke="#4a88c8" stroke-width="1.2"/><line x1="602.3" y1="74.6" x2="619.7" y2="74.6" stroke="#4a88c8" stroke-width="1.2"/><line x1="645" y1="31.3" x2="645" y2="58.8" stroke="#e03a36" stroke-width="1.2"/><line x1="645" y1="85" x2="645" y2="119.5" stroke="#e03a36" stroke-width="1.2"/><rect x="636.3" y="58.8" width="17.4" height="26.2" fill="none" stroke="#e03a36" stroke-width="1.2"/><line x1="636.3" y1="69" x2="653.7" y2="69" stroke="#e03a36" stroke-width="1.2"/><line x1="613.2" y1="28.1" x2="643.5" y2="28.1" stroke="#555" stroke-width="1.1"/><text x="628" y="28.24" font-size="9" text-anchor="middle" fill="#1a1a1a" stroke="#1a1a1a" stroke-width="0.05">*</text><line x1="611" y1="126.8" x2="611" y2="128.4" stroke="#222" stroke-width="0.8"/><line x1="645" y1="126.8" x2="645" y2="128.4" stroke="#222" stroke-width="0.8"/><text x="610" y="138.02" font-size="8.4" text-anchor="middle" fill="#222" stroke="#222" stroke-width="0.22">No</text><text x="643.5" y="138.02" font-size="8.4" text-anchor="middle" fill="#222" stroke="#222" stroke-width="0.22">Yes</text><text x="628.8" y="148.81" font-size="9.2" text-anchor="middle" fill="#222" stroke="#222" stroke-width="0.22">lymphatic invasion</text><text x="579" y="78.6" font-size="10" text-anchor="middle" fill="#222" transform="rotate(-90 579 75)" stroke="#222" stroke-width="0.22" textLength="28.5" lengthAdjust="spacingAndGlyphs">THBS2</text><line x1="701" y1="23.5" x2="701" y2="126.8" stroke="#222" stroke-width="1.2"/><line x1="701" y1="126.8" x2="777" y2="126.8" stroke="#222" stroke-width="1.2"/><line x1="699.2" y1="31.6" x2="701" y2="31.6" stroke="#222" stroke-width="0.8"/><line x1="699.2" y1="50.7" x2="701" y2="50.7" stroke="#222" stroke-width="0.8"/><line x1="699.2" y1="69.7" x2="701" y2="69.7" stroke="#222" stroke-width="0.8"/><line x1="699.2" y1="88.3" x2="701" y2="88.3" stroke="#222" stroke-width="0.8"/><line x1="699.2" y1="107" x2="701" y2="107" stroke="#222" stroke-width="0.8"/><line x1="722" y1="66.8" x2="722" y2="82" stroke="#4a88c8" stroke-width="1.2"/><line x1="722" y1="95" x2="722" y2="102.4" stroke="#4a88c8" stroke-width="1.2"/><rect x="713.6" y="82" width="16.8" height="13" fill="none" stroke="#4a88c8" stroke-width="1.2"/><line x1="713.6" y1="87" x2="730.4" y2="87" stroke="#4a88c8" stroke-width="1.2"/><line x1="755.8" y1="40.1" x2="755.8" y2="50.8" stroke="#e03a36" stroke-width="1.2"/><line x1="755.8" y1="71.4" x2="755.8" y2="84.5" stroke="#e03a36" stroke-width="1.2"/><rect x="747.1" y="50.8" width="17.4" height="20.6" fill="none" stroke="#e03a36" stroke-width="1.2"/><line x1="747.1" y1="64.2" x2="764.5" y2="64.2" stroke="#e03a36" stroke-width="1.2"/><line x1="724" y1="27.4" x2="754.5" y2="27.4" stroke="#555" stroke-width="1.1"/><text x="740.3" y="27.54" font-size="9" text-anchor="middle" fill="#1a1a1a" stroke="#1a1a1a" stroke-width="0.05">*</text><line x1="722" y1="126.8" x2="722" y2="128.4" stroke="#222" stroke-width="0.8"/><line x1="755.8" y1="126.8" x2="755.8" y2="128.4" stroke="#222" stroke-width="0.8"/><text x="721" y="137.84" font-size="7.9" text-anchor="middle" fill="#333" stroke="#333" stroke-width="0.22">Pri-Nomet</text><text x="756" y="137.84" font-size="7.9" text-anchor="middle" fill="#333" stroke="#333" stroke-width="0.22">Pri-met</text><text x="739" y="149.5" font-size="8.9" text-anchor="middle" fill="#333" stroke="#333" stroke-width="0.22">Liver Metastasis</text><text transform="translate(21.2 178.4) scale(0.93 1)" font-size="23.7" fill="#2a1812" stroke="#2a1812" stroke-width="0.15">C</text><text x="183.2" y="170.26" font-size="9.6" text-anchor="middle" fill="#1a1a1a" stroke="#1a1a1a" stroke-width="0.22">log2FC</text><line x1="74.5" y1="175.5" x2="298.6" y2="175.5" stroke="#333" stroke-width="1"/><line x1="74.5" y1="175.5" x2="74.5" y2="266" stroke="#333" stroke-width="1"/><rect x="84.8" y="178.1" width="204.2" height="12.6" fill="#e36a60"/><text x="69.4" y="187.44" font-size="7.9" text-anchor="end" fill="#e0201c" stroke="#e0201c" stroke-width="0.18">MMPs</text><rect x="84.8" y="193" width="103" height="12.5" fill="#efeba2"/><text x="69.4" y="200.89" font-size="7.9" text-anchor="end" fill="#1a1a1a" stroke="#1a1a1a" stroke-width="0.18">EMT</text><rect x="84.8" y="207" width="81" height="13.2" fill="#72b9a7"/><text x="69.4" y="214.64" font-size="7.9" text-anchor="end" fill="#1a1a1a" stroke="#1a1a1a" stroke-width="0.18">Angiogenesis</text><rect x="84.8" y="221.7" width="66" height="12.7" fill="#aca6cf"/><text x="69.4" y="229.09" font-size="7.9" text-anchor="end" fill="#1a1a1a" stroke="#1a1a1a" stroke-width="0.18">Hypoxia</text><rect x="84.8" y="236.4" width="54" height="13.1" fill="#6ea0d0"/><text x="69.4" y="242.99" font-size="7.9" text-anchor="end" fill="#1a1a1a" stroke="#1a1a1a" stroke-width="0.18">Notch signaling</text><rect x="84.8" y="250.8" width="30.2" height="13.2" fill="#eba35c"/><text x="69.4" y="258.44" font-size="7.9" text-anchor="end" fill="#1a1a1a" stroke="#1a1a1a" stroke-width="0.18">Wnt signaling</text><line x1="75.6" y1="277" x2="97" y2="277" stroke="#222" stroke-width="1"/><path d="M98.5 277 L94 275 L94 279 Z" fill="#222"/><text x="101.6" y="280.33" font-size="9.8" text-anchor="start" fill="#1a1a1a" stroke="#1a1a1a" stroke-width="0.3">Hallmarks related to tumor metastasis</text><text transform="translate(304.2 177.6) scale(0.93 1)" font-size="23.7" fill="#2a1812" stroke="#2a1812" stroke-width="0.15">D</text><text x="423.4" y="168.1" font-size="8.6" text-anchor="middle" fill="#1a1a1a" stroke="#1a1a1a" stroke-width="0.22">TCGA-COAD</text><rect x="320.2" y="173.5" width="101.7" height="4.5" fill="#871519"/><rect x="421.9" y="173.5" width="100.9" height="4.5" fill="#0e4a8b"/><rect x="320.2" y="178.4" width="202.6" height="106.2" fill="#f7f6f8"/><path d="M320.2 178.4h1.06v10.62h-1.06zM320.2 199.64h1.06v10.62h-1.06zM320.2 210.26h1.06v10.62h-1.06zM320.2 220.88h1.06v10.62h-1.06zM320.2 242.12h1.06v10.62h-1.06zM320.2 252.74h1.06v10.62h-1.06zM320.2 263.36h1.06v10.62h-1.06zM320.2 273.98h1.06v10.62h-1.06zM321.21 189.02h1.06v10.62h-1.06zM321.21 199.64h1.06v10.62h-1.06zM321.21 220.88h1.06v10.62h-1.06zM321.21 231.5h1.06v10.62h-1.06zM321.21 242.12h1.06v10.62h-1.06zM321.21 252.74h1.06v10.62h-1.06zM321.21 263.36h1.06v10.62h-1.06zM322.23 178.4h1.06v10.62h-1.06zM322.23 189.02h1.06v10.62h-1.06zM322.23 210.26h1.06v10.62h-1.06zM322.23 220.88h1.06v10.62h-1.06zM322.23 231.5h1.06v10.62h-1.06zM322.23 252.74h1.06v10.62h-1.06zM322.23 263.36h1.06v10.62h-1.06zM322.23 273.98h1.06v10.62h-1.06zM323.24 178.4h1.06v10.62h-1.06zM323.24 189.02h1.06v10.62h-1.06zM323.24 199.64h1.06v10.62h-1.06zM323.24 220.88h1.06v10.62h-1.06zM323.24 252.74h1.06v10.62h-1.06zM323.24 263.36h1.06v10.62h-1.06zM323.24 273.98h1.06v10.62h-1.06zM324.25 189.02h1.06v10.62h-1.06zM324.25 199.64h1.06v10.62h-1.06zM324.25 210.26h1.06v10.62h-1.06zM324.25 242.12h1.06v10.62h-1.06zM324.25 252.74h1.06v10.62h-1.06zM324.25 263.36h1.06v10.62h-1.06zM324.25 273.98h1.06v10.62h-1.06zM325.26 178.4h1.06v10.62h-1.06zM325.26 189.02h1.06v10.62h-1.06zM325.26 199.64h1.06v10.62h-1.06zM325.26 231.5h1.06v10.62h-1.06zM325.26 242.12h1.06v10.62h-1.06zM325.26 263.36h1.06v10.62h-1.06zM326.28 178.4h1.06v10.62h-1.06zM326.28 189.02h1.06v10.62h-1.06zM326.28 199.64h1.06v10.62h-1.06zM326.28 210.26h1.06v10.62h-1.06zM326.28 220.88h1.06v10.62h-1.06zM326.28 231.5h1.06v10.62h-1.06zM326.28 242.12h1.06v10.62h-1.06zM326.28 252.74h1.06v10.62h-1.06zM326.28 263.36h1.06v10.62h-1.06zM326.28 273.98h1.06v10.62h-1.06zM327.29 199.64h1.06v10.62h-1.06zM327.29 210.26h1.06v10.62h-1.06zM327.29 231.5h1.06v10.62h-1.06zM327.29 242.12h1.06v10.62h-1.06zM327.29 263.36h1.06v10.62h-1.06zM327.29 273.98h1.06v10.62h-1.06zM328.3 189.02h1.06v10.62h-1.06zM328.3 210.26h1.06v10.62h-1.06zM328.3 242.12h1.06v10.62h-1.06zM328.3 263.36h1.06v10.62h-1.06zM328.3 273.98h1.06v10.62h-1.06zM329.32 178.4h1.06v10.62h-1.06zM329.32 189.02h1.06v10.62h-1.06zM329.32 199.64h1.06v10.62h-1.06zM329.32 210.26h1.06v10.62h-1.06zM329.32 220.88h1.06v10.62h-1.06zM329.32 231.5h1.06v10.62h-1.06zM329.32 242.12h1.06v10.62h-1.06zM329.32 252.74h1.06v10.62h-1.06zM329.32 263.36h1.06v10.62h-1.06zM330.33 178.4h1.06v10.62h-1.06zM330.33 189.02h1.06v10.62h-1.06zM330.33 199.64h1.06v10.62h-1.06zM330.33 210.26h1.06v10.62h-1.06zM330.33 220.88h1.06v10.62h-1.06zM330.33 231.5h1.06v10.62h-1.06zM330.33 242.12h1.06v10.62h-1.06zM330.33 263.36h1.06v10.62h-1.06zM330.33 273.98h1.06v10.62h-1.06zM331.34 178.4h1.06v10.62h-1.06zM331.34 189.02h1.06v10.62h-1.06zM331.34 199.64h1.06v10.62h-1.06zM331.34 210.26h1.06v10.62h-1.06zM331.34 220.88h1.06v10.62h-1.06zM331.34 242.12h1.06v10.62h-1.06zM331.34 252.74h1.06v10.62h-1.06zM331.34 263.36h1.06v10.62h-1.06zM332.36 178.4h1.06v10.62h-1.06zM332.36 189.02h1.06v10.62h-1.06zM332.36 210.26h1.06v10.62h-1.06zM332.36 231.5h1.06v10.62h-1.06zM332.36 242.12h1.06v10.62h-1.06zM332.36 252.74h1.06v10.62h-1.06zM332.36 263.36h1.06v10.62h-1.06zM332.36 273.98h1.06v10.62h-1.06zM333.37 199.64h1.06v10.62h-1.06zM333.37 210.26h1.06v10.62h-1.06zM333.37 220.88h1.06v10.62h-1.06zM333.37 231.5h1.06v10.62h-1.06zM333.37 242.12h1.06v10.62h-1.06zM333.37 252.74h1.06v10.62h-1.06zM333.37 263.36h1.06v10.62h-1.06zM333.37 273.98h1.06v10.62h-1.06zM334.38 189.02h1.06v10.62h-1.06zM334.38 199.64h1.06v10.62h-1.06zM334.38 210.26h1.06v10.62h-1.06zM334.38 242.12h1.06v10.62h-1.06zM334.38 252.74h1.06v10.62h-1.06zM334.38 273.98h1.06v10.62h-1.06zM335.39 178.4h1.06v10.62h-1.06zM335.39 189.02h1.06v10.62h-1.06zM335.39 199.64h1.06v10.62h-1.06zM335.39 210.26h1.06v10.62h-1.06zM335.39 220.88h1.06v10.62h-1.06zM335.39 231.5h1.06v10.62h-1.06zM335.39 242.12h1.06v10.62h-1.06zM335.39 263.36h1.06v10.62h-1.06zM335.39 273.98h1.06v10.62h-1.06zM336.41 178.4h1.06v10.62h-1.06zM336.41 189.02h1.06v10.62h-1.06zM336.41 231.5h1.06v10.62h-1.06zM336.41 263.36h1.06v10.62h-1.06zM337.42 178.4h1.06v10.62h-1.06zM337.42 189.02h1.06v10.62h-1.06zM337.42 199.64h1.06v10.62h-1.06zM337.42 210.26h1.06v10.62h-1.06zM337.42 220.88h1.06v10.62h-1.06zM337.42 231.5h1.06v10.62h-1.06zM337.42 242.12h1.06v10.62h-1.06zM337.42 263.36h1.06v10.62h-1.06zM337.42 273.98h1.06v10.62h-1.06zM338.43 199.64h1.06v10.62h-1.06zM338.43 210.26h1.06v10.62h-1.06zM338.43 220.88h1.06v10.62h-1.06zM338.43 231.5h1.06v10.62h-1.06zM338.43 242.12h1.06v10.62h-1.06zM338.43 252.74h1.06v10.62h-1.06zM338.43 263.36h1.06v10.62h-1.06zM339.45 178.4h1.06v10.62h-1.06zM339.45 189.02h1.06v10.62h-1.06zM339.45 210.26h1.06v10.62h-1.06zM339.45 220.88h1.06v10.62h-1.06zM339.45 231.5h1.06v10.62h-1.06zM339.45 242.12h1.06v10.62h-1.06zM339.45 252.74h1.06v10.62h-1.06zM339.45 263.36h1.06v10.62h-1.06zM339.45 273.98h1.06v10.62h-1.06zM340.46 178.4h1.06v10.62h-1.06zM340.46 199.64h1.06v10.62h-1.06zM340.46 210.26h1.06v10.62h-1.06zM340.46 220.88h1.06v10.62h-1.06zM340.46 231.5h1.06v10.62h-1.06zM340.46 252.74h1.06v10.62h-1.06zM340.46 263.36h1.06v10.62h-1.06zM340.46 273.98h1.06v10.62h-1.06zM341.47 189.02h1.06v10.62h-1.06zM341.47 199.64h1.06v10.62h-1.06zM341.47 231.5h1.06v10.62h-1.06zM341.47 252.74h1.06v10.62h-1.06zM341.47 263.36h1.06v10.62h-1.06zM342.49 178.4h1.06v10.62h-1.06zM342.49 189.02h1.06v10.62h-1.06zM342.49 210.26h1.06v10.62h-1.06zM342.49 220.88h1.06v10.62h-1.06zM342.49 252.74h1.06v10.62h-1.06zM342.49 273.98h1.06v10.62h-1.06zM343.5 178.4h1.06v10.62h-1.06zM343.5 189.02h1.06v10.62h-1.06zM343.5 199.64h1.06v10.62h-1.06zM343.5 210.26h1.06v10.62h-1.06zM343.5 231.5h1.06v10.62h-1.06zM343.5 242.12h1.06v10.62h-1.06zM343.5 252.74h1.06v10.62h-1.06zM343.5 273.98h1.06v10.62h-1.06zM344.51 189.02h1.06v10.62h-1.06zM344.51 199.64h1.06v10.62h-1.06zM344.51 210.26h1.06v10.62h-1.06zM344.51 231.5h1.06v10.62h-1.06zM344.51 242.12h1.06v10.62h-1.06zM344.51 252.74h1.06v10.62h-1.06zM344.51 263.36h1.06v10.62h-1.06zM344.51 273.98h1.06v10.62h-1.06zM345.52 189.02h1.06v10.62h-1.06zM345.52 199.64h1.06v10.62h-1.06zM345.52 210.26h1.06v10.62h-1.06zM345.52 220.88h1.06v10.62h-1.06zM345.52 231.5h1.06v10.62h-1.06zM345.52 242.12h1.06v10.62h-1.06zM345.52 252.74h1.06v10.62h-1.06zM345.52 273.98h1.06v10.62h-1.06zM346.54 178.4h1.06v10.62h-1.06zM346.54 199.64h1.06v10.62h-1.06zM346.54 220.88h1.06v10.62h-1.06zM346.54 252.74h1.06v10.62h-1.06zM346.54 263.36h1.06v10.62h-1.06zM346.54 273.98h1.06v10.62h-1.06zM347.55 178.4h1.06v10.62h-1.06zM347.55 189.02h1.06v10.62h-1.06zM347.55 199.64h1.06v10.62h-1.06zM347.55 210.26h1.06v10.62h-1.06zM347.55 220.88h1.06v10.62h-1.06zM347.55 231.5h1.06v10.62h-1.06zM347.55 242.12h1.06v10.62h-1.06zM347.55 252.74h1.06v10.62h-1.06zM347.55 273.98h1.06v10.62h-1.06zM348.56 178.4h1.06v10.62h-1.06zM348.56 199.64h1.06v10.62h-1.06zM348.56 210.26h1.06v10.62h-1.06zM348.56 220.88h1.06v10.62h-1.06zM348.56 231.5h1.06v10.62h-1.06zM348.56 242.12h1.06v10.62h-1.06zM348.56 252.74h1.06v10.62h-1.06zM348.56 263.36h1.06v10.62h-1.06zM348.56 273.98h1.06v10.62h-1.06zM349.58 189.02h1.06v10.62h-1.06zM349.58 199.64h1.06v10.62h-1.06zM349.58 210.26h1.06v10.62h-1.06zM349.58 220.88h1.06v10.62h-1.06zM349.58 231.5h1.06v10.62h-1.06zM349.58 242.12h1.06v10.62h-1.06zM349.58 252.74h1.06v10.62h-1.06zM349.58 263.36h1.06v10.62h-1.06zM349.58 273.98h1.06v10.62h-1.06zM350.59 199.64h1.06v10.62h-1.06zM350.59 231.5h1.06v10.62h-1.06zM350.59 263.36h1.06v10.62h-1.06zM351.6 189.02h1.06v10.62h-1.06zM351.6 199.64h1.06v10.62h-1.06zM351.6 210.26h1.06v10.62h-1.06zM351.6 220.88h1.06v10.62h-1.06zM351.6 231.5h1.06v10.62h-1.06zM351.6 252.74h1.06v10.62h-1.06zM352.62 178.4h1.06v10.62h-1.06zM352.62 189.02h1.06v10.62h-1.06zM352.62 199.64h1.06v10.62h-1.06zM352.62 220.88h1.06v10.62h-1.06zM352.62 242.12h1.06v10.62h-1.06zM352.62 263.36h1.06v10.62h-1.06zM352.62 273.98h1.06v10.62h-1.06zM353.63 178.4h1.06v10.62h-1.06zM353.63 199.64h1.06v10.62h-1.06zM353.63 220.88h1.06v10.62h-1.06zM353.63 231.5h1.06v10.62h-1.06zM353.63 242.12h1.06v10.62h-1.06zM353.63 252.74h1.06v10.62h-1.06zM353.63 263.36h1.06v10.62h-1.06zM353.63 273.98h1.06v10.62h-1.06zM354.64 178.4h1.06v10.62h-1.06zM354.64 189.02h1.06v10.62h-1.06zM354.64 199.64h1.06v10.62h-1.06zM354.64 220.88h1.06v10.62h-1.06zM354.64 231.5h1.06v10.62h-1.06zM354.64 242.12h1.06v10.62h-1.06zM354.64 252.74h1.06v10.62h-1.06zM354.64 273.98h1.06v10.62h-1.06zM355.65 178.4h1.06v10.62h-1.06zM355.65 210.26h1.06v10.62h-1.06zM355.65 231.5h1.06v10.62h-1.06zM355.65 242.12h1.06v10.62h-1.06zM355.65 263.36h1.06v10.62h-1.06zM355.65 273.98h1.06v10.62h-1.06zM356.67 189.02h1.06v10.62h-1.06zM356.67 210.26h1.06v10.62h-1.06zM356.67 220.88h1.06v10.62h-1.06zM356.67 231.5h1.06v10.62h-1.06zM356.67 252.74h1.06v10.62h-1.06zM356.67 263.36h1.06v10.62h-1.06zM356.67 273.98h1.06v10.62h-1.06zM357.68 199.64h1.06v10.62h-1.06zM357.68 210.26h1.06v10.62h-1.06zM357.68 231.5h1.06v10.62h-1.06zM357.68 242.12h1.06v10.62h-1.06zM357.68 252.74h1.06v10.62h-1.06zM357.68 263.36h1.06v10.62h-1.06zM358.69 178.4h1.06v10.62h-1.06zM358.69 189.02h1.06v10.62h-1.06zM358.69 210.26h1.06v10.62h-1.06zM358.69 220.88h1.06v10.62h-1.06zM358.69 231.5h1.06v10.62h-1.06zM358.69 252.74h1.06v10.62h-1.06zM358.69 263.36h1.06v10.62h-1.06zM358.69 273.98h1.06v10.62h-1.06zM359.71 178.4h1.06v10.62h-1.06zM359.71 199.64h1.06v10.62h-1.06zM359.71 220.88h1.06v10.62h-1.06zM359.71 242.12h1.06v10.62h-1.06zM359.71 252.74h1.06v10.62h-1.06zM359.71 263.36h1.06v10.62h-1.06zM359.71 273.98h1.06v10.62h-1.06zM360.72 178.4h1.06v10.62h-1.06zM360.72 189.02h1.06v10.62h-1.06zM360.72 199.64h1.06v10.62h-1.06zM360.72 210.26h1.06v10.62h-1.06zM360.72 231.5h1.06v10.62h-1.06zM360.72 242.12h1.06v10.62h-1.06zM360.72 252.74h1.06v10.62h-1.06zM360.72 263.36h1.06v10.62h-1.06zM360.72 273.98h1.06v10.62h-1.06zM361.73 178.4h1.06v10.62h-1.06zM361.73 189.02h1.06v10.62h-1.06zM361.73 199.64h1.06v10.62h-1.06zM361.73 210.26h1.06v10.62h-1.06zM361.73 220.88h1.06v10.62h-1.06zM361.73 231.5h1.06v10.62h-1.06zM361.73 242.12h1.06v10.62h-1.06zM361.73 252.74h1.06v10.62h-1.06zM361.73 263.36h1.06v10.62h-1.06zM361.73 273.98h1.06v10.62h-1.06zM362.75 178.4h1.06v10.62h-1.06zM362.75 189.02h1.06v10.62h-1.06zM362.75 210.26h1.06v10.62h-1.06zM362.75 220.88h1.06v10.62h-1.06zM362.75 231.5h1.06v10.62h-1.06zM362.75 242.12h1.06v10.62h-1.06zM362.75 252.74h1.06v10.62h-1.06zM362.75 263.36h1.06v10.62h-1.06zM362.75 273.98h1.06v10.62h-1.06zM363.76 189.02h1.06v10.62h-1.06zM363.76 199.64h1.06v10.62h-1.06zM363.76 210.26h1.06v10.62h-1.06zM363.76 220.88h1.06v10.62h-1.06zM363.76 242.12h1.06v10.62h-1.06zM363.76 252.74h1.06v10.62h-1.06zM363.76 263.36h1.06v10.62h-1.06zM363.76 273.98h1.06v10.62h-1.06zM364.77 178.4h1.06v10.62h-1.06zM364.77 189.02h1.06v10.62h-1.06zM364.77 199.64h1.06v10.62h-1.06zM364.77 220.88h1.06v10.62h-1.06zM364.77 231.5h1.06v10.62h-1.06zM364.77 242.12h1.06v10.62h-1.06zM364.77 252.74h1.06v10.62h-1.06zM364.77 263.36h1.06v10.62h-1.06zM364.77 273.98h1.06v10.62h-1.06zM365.78 178.4h1.06v10.62h-1.06zM365.78 189.02h1.06v10.62h-1.06zM365.78 199.64h1.06v10.62h-1.06zM365.78 210.26h1.06v10.62h-1.06zM365.78 231.5h1.06v10.62h-1.06zM365.78 242.12h1.06v10.62h-1.06zM365.78 252.74h1.06v10.62h-1.06zM365.78 263.36h1.06v10.62h-1.06zM365.78 273.98h1.06v10.62h-1.06zM366.8 178.4h1.06v10.62h-1.06zM366.8 189.02h1.06v10.62h-1.06zM366.8 210.26h1.06v10.62h-1.06zM366.8 220.88h1.06v10.62h-1.06zM366.8 242.12h1.06v10.62h-1.06zM366.8 252.74h1.06v10.62h-1.06zM366.8 273.98h1.06v10.62h-1.06zM367.81 178.4h1.06v10.62h-1.06zM367.81 189.02h1.06v10.62h-1.06zM367.81 199.64h1.06v10.62h-1.06zM367.81 210.26h1.06v10.62h-1.06zM367.81 220.88h1.06v10.62h-1.06zM367.81 231.5h1.06v10.62h-1.06zM367.81 242.12h1.06v10.62h-1.06zM367.81 252.74h1.06v10.62h-1.06zM367.81 263.36h1.06v10.62h-1.06zM368.82 178.4h1.06v10.62h-1.06zM368.82 199.64h1.06v10.62h-1.06zM368.82 231.5h1.06v10.62h-1.06zM368.82 242.12h1.06v10.62h-1.06zM368.82 263.36h1.06v10.62h-1.06zM369.84 199.64h1.06v10.62h-1.06zM369.84 210.26h1.06v10.62h-1.06zM369.84 220.88h1.06v10.62h-1.06zM369.84 231.5h1.06v10.62h-1.06zM369.84 242.12h1.06v10.62h-1.06zM369.84 252.74h1.06v10.62h-1.06zM369.84 263.36h1.06v10.62h-1.06zM369.84 273.98h1.06v10.62h-1.06zM370.85 178.4h1.06v10.62h-1.06zM370.85 189.02h1.06v10.62h-1.06zM370.85 199.64h1.06v10.62h-1.06zM370.85 210.26h1.06v10.62h-1.06zM370.85 220.88h1.06v10.62h-1.06zM370.85 231.5h1.06v10.62h-1.06zM370.85 242.12h1.06v10.62h-1.06zM370.85 252.74h1.06v10.62h-1.06zM370.85 263.36h1.06v10.62h-1.06zM370.85 273.98h1.06v10.62h-1.06zM371.86 189.02h1.06v10.62h-1.06zM371.86 199.64h1.06v10.62h-1.06zM371.86 210.26h1.06v10.62h-1.06zM371.86 220.88h1.06v10.62h-1.06zM371.86 231.5h1.06v10.62h-1.06zM371.86 242.12h1.06v10.62h-1.06zM371.86 273.98h1.06v10.62h-1.06zM372.88 189.02h1.06v10.62h-1.06zM372.88 210.26h1.06v10.62h-1.06zM372.88 220.88h1.06v10.62h-1.06zM372.88 242.12h1.06v10.62h-1.06zM372.88 252.74h1.06v10.62h-1.06zM372.88 263.36h1.06v10.62h-1.06zM372.88 273.98h1.06v10.62h-1.06zM373.89 178.4h1.06v10.62h-1.06zM373.89 189.02h1.06v10.62h-1.06zM373.89 199.64h1.06v10.62h-1.06zM373.89 210.26h1.06v10.62h-1.06zM373.89 220.88h1.06v10.62h-1.06zM373.89 252.74h1.06v10.62h-1.06zM373.89 263.36h1.06v10.62h-1.06zM374.9 178.4h1.06v10.62h-1.06zM374.9 189.02h1.06v10.62h-1.06zM374.9 199.64h1.06v10.62h-1.06zM374.9 210.26h1.06v10.62h-1.06zM374.9 220.88h1.06v10.62h-1.06zM374.9 231.5h1.06v10.62h-1.06zM374.9 242.12h1.06v10.62h-1.06zM374.9 252.74h1.06v10.62h-1.06zM374.9 263.36h1.06v10.62h-1.06zM374.9 273.98h1.06v10.62h-1.06zM375.91 178.4h1.06v10.62h-1.06zM375.91 189.02h1.06v10.62h-1.06zM375.91 199.64h1.06v10.62h-1.06zM375.91 210.26h1.06v10.62h-1.06zM375.91 231.5h1.06v10.62h-1.06zM375.91 242.12h1.06v10.62h-1.06zM375.91 252.74h1.06v10.62h-1.06zM375.91 263.36h1.06v10.62h-1.06zM375.91 273.98h1.06v10.62h-1.06zM376.93 178.4h1.06v10.62h-1.06zM376.93 189.02h1.06v10.62h-1.06zM376.93 210.26h1.06v10.62h-1.06zM376.93 220.88h1.06v10.62h-1.06zM376.93 231.5h1.06v10.62h-1.06zM376.93 242.12h1.06v10.62h-1.06zM376.93 252.74h1.06v10.62h-1.06zM376.93 263.36h1.06v10.62h-1.06zM376.93 273.98h1.06v10.62h-1.06zM377.94 178.4h1.06v10.62h-1.06zM377.94 199.64h1.06v10.62h-1.06zM377.94 210.26h1.06v10.62h-1.06zM377.94 231.5h1.06v10.62h-1.06zM377.94 273.98h1.06v10.62h-1.06zM378.95 178.4h1.06v10.62h-1.06zM378.95 189.02h1.06v10.62h-1.06zM378.95 199.64h1.06v10.62h-1.06zM378.95 210.26h1.06v10.62h-1.06zM378.95 220.88h1.06v10.62h-1.06zM378.95 242.12h1.06v10.62h-1.06zM378.95 252.74h1.06v10.62h-1.06zM378.95 273.98h1.06v10.62h-1.06zM379.97 189.02h1.06v10.62h-1.06zM379.97 199.64h1.06v10.62h-1.06zM379.97 210.26h1.06v10.62h-1.06zM379.97 263.36h1.06v10.62h-1.06zM380.98 178.4h1.06v10.62h-1.06zM380.98 189.02h1.06v10.62h-1.06zM380.98 199.64h1.06v10.62h-1.06zM380.98 210.26h1.06v10.62h-1.06zM380.98 220.88h1.06v10.62h-1.06zM380.98 231.5h1.06v10.62h-1.06zM380.98 242.12h1.06v10.62h-1.06zM380.98 273.98h1.06v10.62h-1.06zM381.99 178.4h1.06v10.62h-1.06zM381.99 189.02h1.06v10.62h-1.06zM381.99 210.26h1.06v10.62h-1.06zM381.99 220.88h1.06v10.62h-1.06zM381.99 231.5h1.06v10.62h-1.06zM381.99 242.12h1.06v10.62h-1.06zM381.99 252.74h1.06v10.62h-1.06zM381.99 263.36h1.06v10.62h-1.06zM381.99 273.98h1.06v10.62h-1.06zM383.01 178.4h1.06v10.62h-1.06zM383.01 189.02h1.06v10.62h-1.06zM383.01 199.64h1.06v10.62h-1.06zM383.01 210.26h1.06v10.62h-1.06zM383.01 220.88h1.06v10.62h-1.06zM383.01 231.5h1.06v10.62h-1.06zM383.01 263.36h1.06v10.62h-1.06zM383.01 273.98h1.06v10.62h-1.06zM384.02 178.4h1.06v10.62h-1.06zM384.02 189.02h1.06v10.62h-1.06zM384.02 210.26h1.06v10.62h-1.06zM384.02 220.88h1.06v10.62h-1.06zM384.02 231.5h1.06v10.62h-1.06zM384.02 252.74h1.06v10.62h-1.06zM384.02 263.36h1.06v10.62h-1.06zM384.02 273.98h1.06v10.62h-1.06zM385.03 178.4h1.06v10.62h-1.06zM385.03 199.64h1.06v10.62h-1.06zM385.03 210.26h1.06v10.62h-1.06zM385.03 220.88h1.06v10.62h-1.06zM385.03 231.5h1.06v10.62h-1.06zM385.03 242.12h1.06v10.62h-1.06zM385.03 252.74h1.06v10.62h-1.06zM385.03 263.36h1.06v10.62h-1.06zM385.03 273.98h1.06v10.62h-1.06zM386.04 178.4h1.06v10.62h-1.06zM386.04 189.02h1.06v10.62h-1.06zM386.04 199.64h1.06v10.62h-1.06zM386.04 210.26h1.06v10.62h-1.06zM386.04 220.88h1.06v10.62h-1.06zM386.04 231.5h1.06v10.62h-1.06zM386.04 242.12h1.06v10.62h-1.06zM386.04 252.74h1.06v10.62h-1.06zM386.04 263.36h1.06v10.62h-1.06zM386.04 273.98h1.06v10.62h-1.06zM387.06 178.4h1.06v10.62h-1.06zM387.06 189.02h1.06v10.62h-1.06zM387.06 199.64h1.06v10.62h-1.06zM387.06 210.26h1.06v10.62h-1.06zM387.06 220.88h1.06v10.62h-1.06zM387.06 242.12h1.06v10.62h-1.06zM387.06 252.74h1.06v10.62h-1.06zM387.06 263.36h1.06v10.62h-1.06zM387.06 273.98h1.06v10.62h-1.06zM388.07 189.02h1.06v10.62h-1.06zM388.07 199.64h1.06v10.62h-1.06zM388.07 210.26h1.06v10.62h-1.06zM388.07 220.88h1.06v10.62h-1.06zM388.07 231.5h1.06v10.62h-1.06zM388.07 252.74h1.06v10.62h-1.06zM388.07 263.36h1.06v10.62h-1.06zM389.08 189.02h1.06v10.62h-1.06zM389.08 199.64h1.06v10.62h-1.06zM389.08 210.26h1.06v10.62h-1.06zM389.08 231.5h1.06v10.62h-1.06zM389.08 242.12h1.06v10.62h-1.06zM389.08 252.74h1.06v10.62h-1.06zM389.08 263.36h1.06v10.62h-1.06zM389.08 273.98h1.06v10.62h-1.06zM390.1 189.02h1.06v10.62h-1.06zM390.1 199.64h1.06v10.62h-1.06zM390.1 210.26h1.06v10.62h-1.06zM390.1 220.88h1.06v10.62h-1.06zM390.1 231.5h1.06v10.62h-1.06zM390.1 242.12h1.06v10.62h-1.06zM390.1 263.36h1.06v10.62h-1.06zM391.11 178.4h1.06v10.62h-1.06zM391.11 189.02h1.06v10.62h-1.06zM391.11 199.64h1.06v10.62h-1.06zM391.11 210.26h1.06v10.62h-1.06zM391.11 231.5h1.06v10.62h-1.06zM391.11 242.12h1.06v10.62h-1.06zM391.11 252.74h1.06v10.62h-1.06zM391.11 263.36h1.06v10.62h-1.06zM391.11 273.98h1.06v10.62h-1.06zM392.12 189.02h1.06v10.62h-1.06zM392.12 199.64h1.06v10.62h-1.06zM392.12 210.26h1.06v10.62h-1.06zM392.12 220.88h1.06v10.62h-1.06zM392.12 231.5h1.06v10.62h-1.06zM392.12 242.12h1.06v10.62h-1.06zM392.12 252.74h1.06v10.62h-1.06zM392.12 263.36h1.06v10.62h-1.06zM392.12 273.98h1.06v10.62h-1.06zM393.14 189.02h1.06v10.62h-1.06zM393.14 199.64h1.06v10.62h-1.06zM393.14 210.26h1.06v10.62h-1.06zM393.14 220.88h1.06v10.62h-1.06zM393.14 242.12h1.06v10.62h-1.06zM393.14 252.74h1.06v10.62h-1.06zM393.14 263.36h1.06v10.62h-1.06zM393.14 273.98h1.06v10.62h-1.06zM394.15 189.02h1.06v10.62h-1.06zM394.15 199.64h1.06v10.62h-1.06zM394.15 210.26h1.06v10.62h-1.06zM394.15 220.88h1.06v10.62h-1.06zM394.15 231.5h1.06v10.62h-1.06zM394.15 242.12h1.06v10.62h-1.06zM394.15 252.74h1.06v10.62h-1.06zM394.15 263.36h1.06v10.62h-1.06zM394.15 273.98h1.06v10.62h-1.06zM395.16 178.4h1.06v10.62h-1.06zM395.16 189.02h1.06v10.62h-1.06zM395.16 199.64h1.06v10.62h-1.06zM395.16 220.88h1.06v10.62h-1.06zM395.16 231.5h1.06v10.62h-1.06zM395.16 242.12h1.06v10.62h-1.06zM396.17 178.4h1.06v10.62h-1.06zM396.17 199.64h1.06v10.62h-1.06zM396.17 210.26h1.06v10.62h-1.06zM396.17 231.5h1.06v10.62h-1.06zM396.17 242.12h1.06v10.62h-1.06zM396.17 252.74h1.06v10.62h-1.06zM396.17 263.36h1.06v10.62h-1.06zM396.17 273.98h1.06v10.62h-1.06zM397.19 178.4h1.06v10.62h-1.06zM397.19 189.02h1.06v10.62h-1.06zM397.19 210.26h1.06v10.62h-1.06zM397.19 220.88h1.06v10.62h-1.06zM397.19 231.5h1.06v10.62h-1.06zM397.19 242.12h1.06v10.62h-1.06zM397.19 252.74h1.06v10.62h-1.06zM397.19 263.36h1.06v10.62h-1.06zM397.19 273.98h1.06v10.62h-1.06zM398.2 189.02h1.06v10.62h-1.06zM398.2 199.64h1.06v10.62h-1.06zM398.2 210.26h1.06v10.62h-1.06zM398.2 220.88h1.06v10.62h-1.06zM398.2 231.5h1.06v10.62h-1.06zM398.2 252.74h1.06v10.62h-1.06zM398.2 263.36h1.06v10.62h-1.06zM398.2 273.98h1.06v10.62h-1.06zM399.21 178.4h1.06v10.62h-1.06zM399.21 189.02h1.06v10.62h-1.06zM399.21 199.64h1.06v10.62h-1.06zM399.21 210.26h1.06v10.62h-1.06zM399.21 220.88h1.06v10.62h-1.06zM399.21 242.12h1.06v10.62h-1.06zM399.21 252.74h1.06v10.62h-1.06zM399.21 263.36h1.06v10.62h-1.06zM399.21 273.98h1.06v10.62h-1.06zM400.23 178.4h1.06v10.62h-1.06zM400.23 189.02h1.06v10.62h-1.06zM400.23 199.64h1.06v10.62h-1.06zM400.23 210.26h1.06v10.62h-1.06zM400.23 220.88h1.06v10.62h-1.06zM400.23 231.5h1.06v10.62h-1.06zM400.23 242.12h1.06v10.62h-1.06zM400.23 252.74h1.06v10.62h-1.06zM400.23 263.36h1.06v10.62h-1.06zM401.24 210.26h1.06v10.62h-1.06zM401.24 220.88h1.06v10.62h-1.06zM401.24 231.5h1.06v10.62h-1.06zM401.24 242.12h1.06v10.62h-1.06zM401.24 252.74h1.06v10.62h-1.06zM401.24 263.36h1.06v10.62h-1.06zM401.24 273.98h1.06v10.62h-1.06zM402.25 189.02h1.06v10.62h-1.06zM402.25 210.26h1.06v10.62h-1.06zM402.25 220.88h1.06v10.62h-1.06zM402.25 231.5h1.06v10.62h-1.06zM402.25 242.12h1.06v10.62h-1.06zM402.25 252.74h1.06v10.62h-1.06zM402.25 263.36h1.06v10.62h-1.06zM402.25 273.98h1.06v10.62h-1.06zM403.27 199.64h1.06v10.62h-1.06zM403.27 210.26h1.06v10.62h-1.06zM403.27 220.88h1.06v10.62h-1.06zM403.27 231.5h1.06v10.62h-1.06zM403.27 242.12h1.06v10.62h-1.06zM403.27 263.36h1.06v10.62h-1.06zM403.27 273.98h1.06v10.62h-1.06zM404.28 178.4h1.06v10.62h-1.06zM404.28 189.02h1.06v10.62h-1.06zM404.28 199.64h1.06v10.62h-1.06zM404.28 220.88h1.06v10.62h-1.06zM404.28 231.5h1.06v10.62h-1.06zM404.28 242.12h1.06v10.62h-1.06zM404.28 263.36h1.06v10.62h-1.06zM404.28 273.98h1.06v10.62h-1.06zM405.29 199.64h1.06v10.62h-1.06zM405.29 210.26h1.06v10.62h-1.06zM405.29 220.88h1.06v10.62h-1.06zM405.29 231.5h1.06v10.62h-1.06zM405.29 242.12h1.06v10.62h-1.06zM405.29 252.74h1.06v10.62h-1.06zM405.29 263.36h1.06v10.62h-1.06zM405.29 273.98h1.06v10.62h-1.06zM406.3 178.4h1.06v10.62h-1.06zM406.3 189.02h1.06v10.62h-1.06zM406.3 199.64h1.06v10.62h-1.06zM406.3 210.26h1.06v10.62h-1.06zM406.3 231.5h1.06v10.62h-1.06zM406.3 242.12h1.06v10.62h-1.06zM406.3 252.74h1.06v10.62h-1.06zM406.3 263.36h1.06v10.62h-1.06zM406.3 273.98h1.06v10.62h-1.06zM407.32 178.4h1.06v10.62h-1.06zM407.32 189.02h1.06v10.62h-1.06zM407.32 210.26h1.06v10.62h-1.06zM407.32 242.12h1.06v10.62h-1.06zM407.32 273.98h1.06v10.62h-1.06zM408.33 178.4h1.06v10.62h-1.06zM408.33 189.02h1.06v10.62h-1.06zM408.33 199.64h1.06v10.62h-1.06zM408.33 210.26h1.06v10.62h-1.06zM408.33 252.74h1.06v10.62h-1.06zM408.33 263.36h1.06v10.62h-1.06zM408.33 273.98h1.06v10.62h-1.06zM409.34 189.02h1.06v10.62h-1.06zM409.34 199.64h1.06v10.62h-1.06zM409.34 210.26h1.06v10.62h-1.06zM409.34 220.88h1.06v10.62h-1.06zM409.34 242.12h1.06v10.62h-1.06zM409.34 263.36h1.06v10.62h-1.06zM410.36 178.4h1.06v10.62h-1.06zM410.36 189.02h1.06v10.62h-1.06zM410.36 199.64h1.06v10.62h-1.06zM410.36 220.88h1.06v10.62h-1.06zM410.36 242.12h1.06v10.62h-1.06zM410.36 252.74h1.06v10.62h-1.06zM410.36 263.36h1.06v10.62h-1.06zM411.37 178.4h1.06v10.62h-1.06zM411.37 189.02h1.06v10.62h-1.06zM411.37 199.64h1.06v10.62h-1.06zM411.37 210.26h1.06v10.62h-1.06zM411.37 220.88h1.06v10.62h-1.06zM411.37 252.74h1.06v10.62h-1.06zM411.37 263.36h1.06v10.62h-1.06zM411.37 273.98h1.06v10.62h-1.06zM412.38 178.4h1.06v10.62h-1.06zM412.38 189.02h1.06v10.62h-1.06zM412.38 199.64h1.06v10.62h-1.06zM412.38 210.26h1.06v10.62h-1.06zM412.38 220.88h1.06v10.62h-1.06zM412.38 242.12h1.06v10.62h-1.06zM412.38 252.74h1.06v10.62h-1.06zM412.38 273.98h1.06v10.62h-1.06zM413.4 178.4h1.06v10.62h-1.06zM413.4 189.02h1.06v10.62h-1.06zM413.4 199.64h1.06v10.62h-1.06zM413.4 210.26h1.06v10.62h-1.06zM413.4 231.5h1.06v10.62h-1.06zM413.4 242.12h1.06v10.62h-1.06zM413.4 263.36h1.06v10.62h-1.06zM413.4 273.98h1.06v10.62h-1.06zM414.41 178.4h1.06v10.62h-1.06zM414.41 199.64h1.06v10.62h-1.06zM414.41 210.26h1.06v10.62h-1.06zM414.41 220.88h1.06v10.62h-1.06zM414.41 231.5h1.06v10.62h-1.06zM414.41 242.12h1.06v10.62h-1.06zM414.41 252.74h1.06v10.62h-1.06zM414.41 263.36h1.06v10.62h-1.06zM414.41 273.98h1.06v10.62h-1.06zM415.42 178.4h1.06v10.62h-1.06zM415.42 189.02h1.06v10.62h-1.06zM415.42 210.26h1.06v10.62h-1.06zM415.42 220.88h1.06v10.62h-1.06zM415.42 242.12h1.06v10.62h-1.06zM415.42 263.36h1.06v10.62h-1.06zM415.42 273.98h1.06v10.62h-1.06zM416.43 178.4h1.06v10.62h-1.06zM416.43 189.02h1.06v10.62h-1.06zM416.43 199.64h1.06v10.62h-1.06zM416.43 210.26h1.06v10.62h-1.06zM416.43 220.88h1.06v10.62h-1.06zM416.43 231.5h1.06v10.62h-1.06zM416.43 242.12h1.06v10.62h-1.06zM416.43 252.74h1.06v10.62h-1.06zM416.43 263.36h1.06v10.62h-1.06zM416.43 273.98h1.06v10.62h-1.06zM417.45 178.4h1.06v10.62h-1.06zM417.45 189.02h1.06v10.62h-1.06zM417.45 199.64h1.06v10.62h-1.06zM417.45 210.26h1.06v10.62h-1.06zM417.45 231.5h1.06v10.62h-1.06zM417.45 242.12h1.06v10.62h-1.06zM417.45 252.74h1.06v10.62h-1.06zM417.45 263.36h1.06v10.62h-1.06zM418.46 178.4h1.06v10.62h-1.06zM418.46 189.02h1.06v10.62h-1.06zM418.46 199.64h1.06v10.62h-1.06zM418.46 210.26h1.06v10.62h-1.06zM418.46 220.88h1.06v10.62h-1.06zM418.46 231.5h1.06v10.62h-1.06zM418.46 242.12h1.06v10.62h-1.06zM418.46 252.74h1.06v10.62h-1.06zM418.46 263.36h1.06v10.62h-1.06zM418.46 273.98h1.06v10.62h-1.06zM419.47 189.02h1.06v10.62h-1.06zM419.47 199.64h1.06v10.62h-1.06zM419.47 210.26h1.06v10.62h-1.06zM419.47 220.88h1.06v10.62h-1.06zM419.47 231.5h1.06v10.62h-1.06zM419.47 263.36h1.06v10.62h-1.06zM419.47 273.98h1.06v10.62h-1.06zM420.49 178.4h1.06v10.62h-1.06zM420.49 189.02h1.06v10.62h-1.06zM420.49 199.64h1.06v10.62h-1.06zM420.49 210.26h1.06v10.62h-1.06zM420.49 220.88h1.06v10.62h-1.06zM420.49 231.5h1.06v10.62h-1.06zM420.49 242.12h1.06v10.62h-1.06zM420.49 263.36h1.06v10.62h-1.06zM420.49 273.98h1.06v10.62h-1.06zM421.5 178.4h1.06v10.62h-1.06zM421.5 220.88h1.06v10.62h-1.06zM421.5 231.5h1.06v10.62h-1.06zM421.5 242.12h1.06v10.62h-1.06zM421.5 252.74h1.06v10.62h-1.06zM421.5 263.36h1.06v10.62h-1.06zM421.5 273.98h1.06v10.62h-1.06z" fill="#f8f8f8"/><path d="M320.2 189.02h1.06v10.62h-1.06zM321.21 178.4h1.06v10.62h-1.06zM321.21 210.26h1.06v10.62h-1.06zM324.25 220.88h1.06v10.62h-1.06zM328.3 178.4h1.06v10.62h-1.06zM328.3 231.5h1.06v10.62h-1.06zM331.34 231.5h1.06v10.62h-1.06zM332.36 199.64h1.06v10.62h-1.06zM333.37 178.4h1.06v10.62h-1.06zM334.38 231.5h1.06v10.62h-1.06zM334.38 263.36h1.06v10.62h-1.06zM341.47 178.4h1.06v10.62h-1.06zM341.47 210.26h1.06v10.62h-1.06zM341.47 242.12h1.06v10.62h-1.06zM345.52 263.36h1.06v10.62h-1.06zM347.55 263.36h1.06v10.62h-1.06zM353.63 189.02h1.06v10.62h-1.06zM357.68 220.88h1.06v10.62h-1.06zM358.69 199.64h1.06v10.62h-1.06zM358.69 242.12h1.06v10.62h-1.06zM362.75 199.64h1.06v10.62h-1.06zM364.77 210.26h1.06v10.62h-1.06zM366.8 263.36h1.06v10.62h-1.06zM372.88 199.64h1.06v10.62h-1.06zM377.94 263.36h1.06v10.62h-1.06zM378.95 231.5h1.06v10.62h-1.06zM380.98 252.74h1.06v10.62h-1.06zM390.1 273.98h1.06v10.62h-1.06zM395.16 252.74h1.06v10.62h-1.06zM398.2 178.4h1.06v10.62h-1.06zM399.21 231.5h1.06v10.62h-1.06zM410.36 231.5h1.06v10.62h-1.06zM411.37 231.5h1.06v10.62h-1.06zM412.38 231.5h1.06v10.62h-1.06zM413.4 252.74h1.06v10.62h-1.06zM414.41 189.02h1.06v10.62h-1.06zM420.49 252.74h1.06v10.62h-1.06zM421.5 210.26h1.06v10.62h-1.06z" fill="#f0e8f0"/><path d="M320.2 231.5h1.06v10.62h-1.06zM324.25 231.5h1.06v10.62h-1.06zM327.29 189.02h1.06v10.62h-1.06zM352.62 210.26h1.06v10.62h-1.06zM352.62 252.74h1.06v10.62h-1.06zM355.65 220.88h1.06v10.62h-1.06zM356.67 242.12h1.06v10.62h-1.06zM372.88 178.4h1.06v10.62h-1.06zM383.01 242.12h1.06v10.62h-1.06zM387.06 231.5h1.06v10.62h-1.06zM393.14 178.4h1.06v10.62h-1.06zM401.24 199.64h1.06v10.62h-1.06zM402.25 178.4h1.06v10.62h-1.06zM403.27 252.74h1.06v10.62h-1.06zM405.29 189.02h1.06v10.62h-1.06zM409.34 178.4h1.06v10.62h-1.06zM415.42 252.74h1.06v10.62h-1.06zM417.45 220.88h1.06v10.62h-1.06z" fill="#e8e0e0"/><path d="M321.21 273.98h1.06v10.62h-1.06zM322.23 242.12h1.06v10.62h-1.06zM323.24 242.12h1.06v10.62h-1.06zM327.29 178.4h1.06v10.62h-1.06zM327.29 220.88h1.06v10.62h-1.06zM328.3 252.74h1.06v10.62h-1.06zM330.33 252.74h1.06v10.62h-1.06zM331.34 273.98h1.06v10.62h-1.06zM338.43 273.98h1.06v10.62h-1.06zM340.46 189.02h1.06v10.62h-1.06zM343.5 263.36h1.06v10.62h-1.06zM345.52 178.4h1.06v10.62h-1.06zM346.54 189.02h1.06v10.62h-1.06zM351.6 178.4h1.06v10.62h-1.06zM351.6 242.12h1.06v10.62h-1.06zM351.6 263.36h1.06v10.62h-1.06zM351.6 273.98h1.06v10.62h-1.06zM354.64 263.36h1.06v10.62h-1.06zM355.65 189.02h1.06v10.62h-1.06zM355.65 199.64h1.06v10.62h-1.06zM355.65 252.74h1.06v10.62h-1.06zM356.67 199.64h1.06v10.62h-1.06zM357.68 189.02h1.06v10.62h-1.06zM360.72 220.88h1.06v10.62h-1.06zM367.81 273.98h1.06v10.62h-1.06zM373.89 273.98h1.06v10.62h-1.06zM378.95 263.36h1.06v10.62h-1.06zM379.97 220.88h1.06v10.62h-1.06zM379.97 231.5h1.06v10.62h-1.06zM379.97 273.98h1.06v10.62h-1.06zM388.07 242.12h1.06v10.62h-1.06zM389.08 178.4h1.06v10.62h-1.06zM389.08 220.88h1.06v10.62h-1.06zM391.11 220.88h1.06v10.62h-1.06zM392.12 178.4h1.06v10.62h-1.06zM398.2 242.12h1.06v10.62h-1.06zM400.23 273.98h1.06v10.62h-1.06zM401.24 189.02h1.06v10.62h-1.06zM404.28 210.26h1.06v10.62h-1.06zM404.28 252.74h1.06v10.62h-1.06zM408.33 220.88h1.06v10.62h-1.06zM408.33 242.12h1.06v10.62h-1.06zM409.34 252.74h1.06v10.62h-1.06zM409.34 273.98h1.06v10.62h-1.06zM410.36 210.26h1.06v10.62h-1.06zM411.37 242.12h1.06v10.62h-1.06zM412.38 263.36h1.06v10.62h-1.06zM415.42 199.64h1.06v10.62h-1.06zM417.45 273.98h1.06v10.62h-1.06z" fill="#f0e8e8"/><path d="M322.23 199.64h1.06v10.62h-1.06zM357.68 178.4h1.06v10.62h-1.06zM468.1 199.64h1.06v10.62h-1.06zM471.14 242.12h1.06v10.62h-1.06zM476.2 210.26h1.06v10.62h-1.06zM502.54 178.4h1.06v10.62h-1.06z" fill="#e8c8c8"/><path d="M323.24 210.26h1.06v10.62h-1.06zM323.24 231.5h1.06v10.62h-1.06zM327.29 252.74h1.06v10.62h-1.06zM334.38 178.4h1.06v10.62h-1.06zM334.38 220.88h1.06v10.62h-1.06zM341.47 273.98h1.06v10.62h-1.06zM343.5 220.88h1.06v10.62h-1.06zM346.54 210.26h1.06v10.62h-1.06zM348.56 189.02h1.06v10.62h-1.06zM359.71 231.5h1.06v10.62h-1.06zM363.76 231.5h1.06v10.62h-1.06zM371.86 252.74h1.06v10.62h-1.06zM371.86 263.36h1.06v10.62h-1.06zM372.88 231.5h1.06v10.62h-1.06zM379.97 178.4h1.06v10.62h-1.06zM380.98 263.36h1.06v10.62h-1.06zM384.02 199.64h1.06v10.62h-1.06zM388.07 273.98h1.06v10.62h-1.06zM395.16 273.98h1.06v10.62h-1.06zM402.25 199.64h1.06v10.62h-1.06zM406.3 220.88h1.06v10.62h-1.06zM409.34 231.5h1.06v10.62h-1.06zM427.58 231.5h1.06v10.62h-1.06zM427.58 273.98h1.06v10.62h-1.06zM435.68 242.12h1.06v10.62h-1.06zM439.73 263.36h1.06v10.62h-1.06zM442.77 220.88h1.06v10.62h-1.06zM443.79 189.02h1.06v10.62h-1.06zM445.81 273.98h1.06v10.62h-1.06zM448.85 199.64h1.06v10.62h-1.06zM448.85 263.36h1.06v10.62h-1.06zM450.88 210.26h1.06v10.62h-1.06zM459.99 178.4h1.06v10.62h-1.06zM459.99 210.26h1.06v10.62h-1.06zM459.99 263.36h1.06v10.62h-1.06zM462.02 210.26h1.06v10.62h-1.06zM462.02 263.36h1.06v10.62h-1.06zM465.06 199.64h1.06v10.62h-1.06zM465.06 242.12h1.06v10.62h-1.06zM466.07 263.36h1.06v10.62h-1.06zM469.11 263.36h1.06v10.62h-1.06zM472.15 210.26h1.06v10.62h-1.06zM475.19 189.02h1.06v10.62h-1.06zM477.21 273.98h1.06v10.62h-1.06zM480.25 231.5h1.06v10.62h-1.06zM481.27 252.74h1.06v10.62h-1.06zM481.27 263.36h1.06v10.62h-1.06zM482.28 231.5h1.06v10.62h-1.06zM483.29 220.88h1.06v10.62h-1.06zM483.29 252.74h1.06v10.62h-1.06zM485.32 178.4h1.06v10.62h-1.06zM485.32 273.98h1.06v10.62h-1.06zM486.33 210.26h1.06v10.62h-1.06zM488.36 263.36h1.06v10.62h-1.06zM489.37 231.5h1.06v10.62h-1.06zM489.37 242.12h1.06v10.62h-1.06zM489.37 273.98h1.06v10.62h-1.06zM490.38 189.02h1.06v10.62h-1.06zM491.4 210.26h1.06v10.62h-1.06zM492.41 189.02h1.06v10.62h-1.06zM496.46 231.5h1.06v10.62h-1.06zM496.46 263.36h1.06v10.62h-1.06zM504.57 273.98h1.06v10.62h-1.06zM505.58 231.5h1.06v10.62h-1.06zM505.58 263.36h1.06v10.62h-1.06zM505.58 273.98h1.06v10.62h-1.06zM506.59 263.36h1.06v10.62h-1.06zM509.63 231.5h1.06v10.62h-1.06zM513.68 220.88h1.06v10.62h-1.06zM513.68 263.36h1.06v10.62h-1.06zM514.7 273.98h1.06v10.62h-1.06zM516.72 231.5h1.06v10.62h-1.06zM520.77 178.4h1.06v10.62h-1.06z" fill="#f0f0f0"/><path d="M324.25 178.4h1.06v10.62h-1.06zM335.39 252.74h1.06v10.62h-1.06zM336.41 242.12h1.06v10.62h-1.06zM336.41 252.74h1.06v10.62h-1.06zM342.49 199.64h1.06v10.62h-1.06zM346.54 242.12h1.06v10.62h-1.06zM350.59 178.4h1.06v10.62h-1.06zM363.76 178.4h1.06v10.62h-1.06zM385.03 189.02h1.06v10.62h-1.06zM441.76 210.26h1.06v10.62h-1.06zM443.79 231.5h1.06v10.62h-1.06zM462.02 273.98h1.06v10.62h-1.06zM470.12 210.26h1.06v10.62h-1.06z" fill="#e0b8b8"/><path d="M325.26 210.26h1.06v10.62h-1.06zM325.26 273.98h1.06v10.62h-1.06zM333.37 189.02h1.06v10.62h-1.06zM368.82 252.74h1.06v10.62h-1.06zM381.99 199.64h1.06v10.62h-1.06zM444.8 242.12h1.06v10.62h-1.06zM449.86 252.74h1.06v10.62h-1.06zM450.88 252.74h1.06v10.62h-1.06zM507.6 263.36h1.06v10.62h-1.06z" fill="#e0b8c0"/><path d="M325.26 220.88h1.06v10.62h-1.06z" fill="#e8d8d8"/><path d="M325.26 252.74h1.06v10.62h-1.06zM336.41 220.88h1.06v10.62h-1.06zM342.49 263.36h1.06v10.62h-1.06zM350.59 252.74h1.06v10.62h-1.06zM350.59 273.98h1.06v10.62h-1.06zM368.82 220.88h1.06v10.62h-1.06zM397.19 199.64h1.06v10.62h-1.06zM407.32 199.64h1.06v10.62h-1.06zM410.36 273.98h1.06v10.62h-1.06zM413.4 220.88h1.06v10.62h-1.06z" fill="#d8b0b0"/><path d="M328.3 199.64h1.06v10.62h-1.06zM328.3 220.88h1.06v10.62h-1.06zM329.32 273.98h1.06v10.62h-1.06zM332.36 220.88h1.06v10.62h-1.06zM337.42 252.74h1.06v10.62h-1.06zM338.43 178.4h1.06v10.62h-1.06zM338.43 189.02h1.06v10.62h-1.06zM339.45 199.64h1.06v10.62h-1.06zM340.46 242.12h1.06v10.62h-1.06zM341.47 220.88h1.06v10.62h-1.06zM346.54 231.5h1.06v10.62h-1.06zM349.58 178.4h1.06v10.62h-1.06zM354.64 210.26h1.06v10.62h-1.06zM366.8 199.64h1.06v10.62h-1.06zM369.84 178.4h1.06v10.62h-1.06zM373.89 231.5h1.06v10.62h-1.06zM373.89 242.12h1.06v10.62h-1.06zM376.93 199.64h1.06v10.62h-1.06zM377.94 252.74h1.06v10.62h-1.06zM379.97 242.12h1.06v10.62h-1.06zM379.97 252.74h1.06v10.62h-1.06zM384.02 242.12h1.06v10.62h-1.06zM390.1 178.4h1.06v10.62h-1.06zM393.14 231.5h1.06v10.62h-1.06zM395.16 210.26h1.06v10.62h-1.06zM396.17 189.02h1.06v10.62h-1.06zM396.17 220.88h1.06v10.62h-1.06zM403.27 178.4h1.06v10.62h-1.06zM408.33 231.5h1.06v10.62h-1.06zM415.42 231.5h1.06v10.62h-1.06zM419.47 178.4h1.06v10.62h-1.06zM421.5 189.02h1.06v10.62h-1.06z" fill="#f0e0e8"/><path d="M336.41 199.64h1.06v10.62h-1.06zM407.32 231.5h1.06v10.62h-1.06z" fill="#e8c8d0"/><path d="M336.41 210.26h1.06v10.62h-1.06zM407.32 252.74h1.06v10.62h-1.06z" fill="#d8b0b8"/><path d="M336.41 273.98h1.06v10.62h-1.06zM342.49 242.12h1.06v10.62h-1.06zM350.59 242.12h1.06v10.62h-1.06zM356.67 178.4h1.06v10.62h-1.06zM365.78 220.88h1.06v10.62h-1.06zM368.82 273.98h1.06v10.62h-1.06zM377.94 220.88h1.06v10.62h-1.06zM390.1 252.74h1.06v10.62h-1.06zM419.47 252.74h1.06v10.62h-1.06zM422.51 242.12h1.06v10.62h-1.06zM455.94 220.88h1.06v10.62h-1.06zM457.97 231.5h1.06v10.62h-1.06zM480.25 242.12h1.06v10.62h-1.06zM480.25 263.36h1.06v10.62h-1.06zM481.27 178.4h1.06v10.62h-1.06zM511.66 242.12h1.06v10.62h-1.06z" fill="#e8d0d0"/><path d="M342.49 231.5h1.06v10.62h-1.06zM350.59 210.26h1.06v10.62h-1.06zM350.59 220.88h1.06v10.62h-1.06zM353.63 210.26h1.06v10.62h-1.06zM359.71 189.02h1.06v10.62h-1.06zM368.82 189.02h1.06v10.62h-1.06zM368.82 210.26h1.06v10.62h-1.06zM371.86 178.4h1.06v10.62h-1.06zM383.01 252.74h1.06v10.62h-1.06zM394.15 178.4h1.06v10.62h-1.06zM419.47 242.12h1.06v10.62h-1.06zM448.85 273.98h1.06v10.62h-1.06zM450.88 242.12h1.06v10.62h-1.06zM468.1 178.4h1.06v10.62h-1.06zM471.14 263.36h1.06v10.62h-1.06zM478.23 263.36h1.06v10.62h-1.06zM492.41 242.12h1.06v10.62h-1.06zM516.72 263.36h1.06v10.62h-1.06zM517.73 178.4h1.06v10.62h-1.06z" fill="#e0c0c0"/><path d="M344.51 178.4h1.06v10.62h-1.06zM344.51 220.88h1.06v10.62h-1.06zM352.62 231.5h1.06v10.62h-1.06zM357.68 273.98h1.06v10.62h-1.06zM366.8 231.5h1.06v10.62h-1.06zM369.84 189.02h1.06v10.62h-1.06zM375.91 220.88h1.06v10.62h-1.06zM377.94 189.02h1.06v10.62h-1.06zM388.07 178.4h1.06v10.62h-1.06zM395.16 263.36h1.06v10.62h-1.06zM401.24 178.4h1.06v10.62h-1.06zM403.27 189.02h1.06v10.62h-1.06zM405.29 178.4h1.06v10.62h-1.06zM421.5 199.64h1.06v10.62h-1.06z" fill="#e8e0e8"/><path d="M350.59 189.02h1.06v10.62h-1.06zM407.32 263.36h1.06v10.62h-1.06zM452.9 210.26h1.06v10.62h-1.06z" fill="#e8d0d8"/><path d="M359.71 210.26h1.06v10.62h-1.06z" fill="#e0c0c8"/><path d="M377.94 242.12h1.06v10.62h-1.06z" fill="#e0b0b8"/><path d="M407.32 220.88h1.06v10.62h-1.06z" fill="#e0c8c8"/><path d="M422.51 178.4h1.06v10.62h-1.06zM422.51 189.02h1.06v10.62h-1.06zM422.51 199.64h1.06v10.62h-1.06zM422.51 210.26h1.06v10.62h-1.06zM422.51 252.74h1.06v10.62h-1.06zM422.51 263.36h1.06v10.62h-1.06zM422.51 273.98h1.06v10.62h-1.06zM423.53 178.4h1.06v10.62h-1.06zM423.53 199.64h1.06v10.62h-1.06zM423.53 210.26h1.06v10.62h-1.06zM423.53 220.88h1.06v10.62h-1.06zM423.53 231.5h1.06v10.62h-1.06zM423.53 242.12h1.06v10.62h-1.06zM423.53 252.74h1.06v10.62h-1.06zM423.53 273.98h1.06v10.62h-1.06zM424.54 178.4h1.06v10.62h-1.06zM424.54 189.02h1.06v10.62h-1.06zM424.54 199.64h1.06v10.62h-1.06zM424.54 210.26h1.06v10.62h-1.06zM424.54 220.88h1.06v10.62h-1.06zM424.54 231.5h1.06v10.62h-1.06zM424.54 242.12h1.06v10.62h-1.06zM424.54 252.74h1.06v10.62h-1.06zM424.54 263.36h1.06v10.62h-1.06zM424.54 273.98h1.06v10.62h-1.06zM425.55 178.4h1.06v10.62h-1.06zM425.55 189.02h1.06v10.62h-1.06zM425.55 199.64h1.06v10.62h-1.06zM425.55 210.26h1.06v10.62h-1.06zM425.55 220.88h1.06v10.62h-1.06zM425.55 231.5h1.06v10.62h-1.06zM425.55 242.12h1.06v10.62h-1.06zM425.55 252.74h1.06v10.62h-1.06zM426.56 189.02h1.06v10.62h-1.06zM426.56 210.26h1.06v10.62h-1.06zM426.56 220.88h1.06v10.62h-1.06zM426.56 252.74h1.06v10.62h-1.06zM426.56 263.36h1.06v10.62h-1.06zM426.56 273.98h1.06v10.62h-1.06zM427.58 178.4h1.06v10.62h-1.06zM427.58 189.02h1.06v10.62h-1.06zM427.58 199.64h1.06v10.62h-1.06zM427.58 210.26h1.06v10.62h-1.06zM427.58 220.88h1.06v10.62h-1.06zM427.58 242.12h1.06v10.62h-1.06zM427.58 252.74h1.06v10.62h-1.06zM427.58 263.36h1.06v10.62h-1.06zM428.59 178.4h1.06v10.62h-1.06zM428.59 220.88h1.06v10.62h-1.06zM428.59 231.5h1.06v10.62h-1.06zM428.59 242.12h1.06v10.62h-1.06zM428.59 263.36h1.06v10.62h-1.06zM429.6 189.02h1.06v10.62h-1.06zM429.6 199.64h1.06v10.62h-1.06zM429.6 210.26h1.06v10.62h-1.06zM429.6 231.5h1.06v10.62h-1.06zM429.6 242.12h1.06v10.62h-1.06zM429.6 252.74h1.06v10.62h-1.06zM429.6 263.36h1.06v10.62h-1.06zM429.6 273.98h1.06v10.62h-1.06zM430.62 189.02h1.06v10.62h-1.06zM430.62 199.64h1.06v10.62h-1.06zM430.62 210.26h1.06v10.62h-1.06zM430.62 220.88h1.06v10.62h-1.06zM430.62 242.12h1.06v10.62h-1.06zM430.62 252.74h1.06v10.62h-1.06zM431.63 178.4h1.06v10.62h-1.06zM431.63 189.02h1.06v10.62h-1.06zM431.63 199.64h1.06v10.62h-1.06zM431.63 210.26h1.06v10.62h-1.06zM431.63 242.12h1.06v10.62h-1.06zM431.63 252.74h1.06v10.62h-1.06zM431.63 263.36h1.06v10.62h-1.06zM431.63 273.98h1.06v10.62h-1.06zM432.64 189.02h1.06v10.62h-1.06zM432.64 199.64h1.06v10.62h-1.06zM432.64 210.26h1.06v10.62h-1.06zM432.64 220.88h1.06v10.62h-1.06zM432.64 231.5h1.06v10.62h-1.06zM432.64 242.12h1.06v10.62h-1.06zM432.64 252.74h1.06v10.62h-1.06zM432.64 273.98h1.06v10.62h-1.06zM433.66 189.02h1.06v10.62h-1.06zM433.66 199.64h1.06v10.62h-1.06zM433.66 210.26h1.06v10.62h-1.06zM433.66 220.88h1.06v10.62h-1.06zM433.66 252.74h1.06v10.62h-1.06zM433.66 263.36h1.06v10.62h-1.06zM433.66 273.98h1.06v10.62h-1.06zM434.67 178.4h1.06v10.62h-1.06zM434.67 189.02h1.06v10.62h-1.06zM434.67 210.26h1.06v10.62h-1.06zM434.67 220.88h1.06v10.62h-1.06zM434.67 242.12h1.06v10.62h-1.06zM434.67 252.74h1.06v10.62h-1.06zM434.67 263.36h1.06v10.62h-1.06zM434.67 273.98h1.06v10.62h-1.06zM435.68 178.4h1.06v10.62h-1.06zM435.68 189.02h1.06v10.62h-1.06zM435.68 199.64h1.06v10.62h-1.06zM435.68 220.88h1.06v10.62h-1.06zM435.68 231.5h1.06v10.62h-1.06zM435.68 252.74h1.06v10.62h-1.06zM435.68 263.36h1.06v10.62h-1.06zM436.69 189.02h1.06v10.62h-1.06zM436.69 199.64h1.06v10.62h-1.06zM436.69 210.26h1.06v10.62h-1.06zM436.69 220.88h1.06v10.62h-1.06zM436.69 242.12h1.06v10.62h-1.06zM436.69 252.74h1.06v10.62h-1.06zM437.71 178.4h1.06v10.62h-1.06zM437.71 210.26h1.06v10.62h-1.06zM437.71 231.5h1.06v10.62h-1.06zM437.71 263.36h1.06v10.62h-1.06zM437.71 273.98h1.06v10.62h-1.06zM438.72 178.4h1.06v10.62h-1.06zM438.72 199.64h1.06v10.62h-1.06zM438.72 220.88h1.06v10.62h-1.06zM438.72 231.5h1.06v10.62h-1.06zM438.72 242.12h1.06v10.62h-1.06zM438.72 252.74h1.06v10.62h-1.06zM438.72 263.36h1.06v10.62h-1.06zM439.73 178.4h1.06v10.62h-1.06zM439.73 189.02h1.06v10.62h-1.06zM439.73 231.5h1.06v10.62h-1.06zM439.73 242.12h1.06v10.62h-1.06zM439.73 252.74h1.06v10.62h-1.06zM439.73 273.98h1.06v10.62h-1.06zM440.75 189.02h1.06v10.62h-1.06zM440.75 199.64h1.06v10.62h-1.06zM440.75 231.5h1.06v10.62h-1.06zM440.75 242.12h1.06v10.62h-1.06zM440.75 252.74h1.06v10.62h-1.06zM440.75 263.36h1.06v10.62h-1.06zM440.75 273.98h1.06v10.62h-1.06zM441.76 178.4h1.06v10.62h-1.06zM441.76 189.02h1.06v10.62h-1.06zM441.76 220.88h1.06v10.62h-1.06zM441.76 231.5h1.06v10.62h-1.06zM441.76 263.36h1.06v10.62h-1.06zM441.76 273.98h1.06v10.62h-1.06zM442.77 178.4h1.06v10.62h-1.06zM442.77 189.02h1.06v10.62h-1.06zM442.77 199.64h1.06v10.62h-1.06zM442.77 210.26h1.06v10.62h-1.06zM442.77 242.12h1.06v10.62h-1.06zM442.77 252.74h1.06v10.62h-1.06zM442.77 263.36h1.06v10.62h-1.06zM442.77 273.98h1.06v10.62h-1.06zM443.79 178.4h1.06v10.62h-1.06zM443.79 199.64h1.06v10.62h-1.06zM443.79 210.26h1.06v10.62h-1.06zM443.79 242.12h1.06v10.62h-1.06zM443.79 252.74h1.06v10.62h-1.06zM443.79 263.36h1.06v10.62h-1.06zM443.79 273.98h1.06v10.62h-1.06zM444.8 178.4h1.06v10.62h-1.06zM444.8 189.02h1.06v10.62h-1.06zM444.8 199.64h1.06v10.62h-1.06zM444.8 210.26h1.06v10.62h-1.06zM444.8 231.5h1.06v10.62h-1.06zM444.8 252.74h1.06v10.62h-1.06zM444.8 263.36h1.06v10.62h-1.06zM445.81 189.02h1.06v10.62h-1.06zM445.81 199.64h1.06v10.62h-1.06zM445.81 210.26h1.06v10.62h-1.06zM445.81 220.88h1.06v10.62h-1.06zM445.81 242.12h1.06v10.62h-1.06zM445.81 252.74h1.06v10.62h-1.06zM446.82 178.4h1.06v10.62h-1.06zM446.82 189.02h1.06v10.62h-1.06zM446.82 199.64h1.06v10.62h-1.06zM446.82 210.26h1.06v10.62h-1.06zM446.82 242.12h1.06v10.62h-1.06zM446.82 252.74h1.06v10.62h-1.06zM446.82 263.36h1.06v10.62h-1.06zM447.84 178.4h1.06v10.62h-1.06zM447.84 199.64h1.06v10.62h-1.06zM447.84 220.88h1.06v10.62h-1.06zM447.84 242.12h1.06v10.62h-1.06zM447.84 252.74h1.06v10.62h-1.06zM447.84 263.36h1.06v10.62h-1.06zM447.84 273.98h1.06v10.62h-1.06zM448.85 189.02h1.06v10.62h-1.06zM448.85 231.5h1.06v10.62h-1.06zM448.85 242.12h1.06v10.62h-1.06zM448.85 252.74h1.06v10.62h-1.06zM449.86 178.4h1.06v10.62h-1.06zM449.86 189.02h1.06v10.62h-1.06zM449.86 231.5h1.06v10.62h-1.06zM449.86 242.12h1.06v10.62h-1.06zM449.86 263.36h1.06v10.62h-1.06zM449.86 273.98h1.06v10.62h-1.06zM450.88 178.4h1.06v10.62h-1.06zM450.88 189.02h1.06v10.62h-1.06zM450.88 199.64h1.06v10.62h-1.06zM450.88 220.88h1.06v10.62h-1.06zM450.88 263.36h1.06v10.62h-1.06zM450.88 273.98h1.06v10.62h-1.06zM451.89 178.4h1.06v10.62h-1.06zM451.89 210.26h1.06v10.62h-1.06zM451.89 220.88h1.06v10.62h-1.06zM451.89 242.12h1.06v10.62h-1.06zM451.89 252.74h1.06v10.62h-1.06zM452.9 178.4h1.06v10.62h-1.06zM452.9 189.02h1.06v10.62h-1.06zM452.9 199.64h1.06v10.62h-1.06zM452.9 231.5h1.06v10.62h-1.06zM452.9 242.12h1.06v10.62h-1.06zM452.9 252.74h1.06v10.62h-1.06zM452.9 263.36h1.06v10.62h-1.06zM452.9 273.98h1.06v10.62h-1.06zM453.92 178.4h1.06v10.62h-1.06zM453.92 189.02h1.06v10.62h-1.06zM453.92 199.64h1.06v10.62h-1.06zM453.92 210.26h1.06v10.62h-1.06zM453.92 220.88h1.06v10.62h-1.06zM453.92 231.5h1.06v10.62h-1.06zM453.92 252.74h1.06v10.62h-1.06zM453.92 263.36h1.06v10.62h-1.06zM453.92 273.98h1.06v10.62h-1.06zM454.93 178.4h1.06v10.62h-1.06zM454.93 189.02h1.06v10.62h-1.06zM454.93 199.64h1.06v10.62h-1.06zM454.93 242.12h1.06v10.62h-1.06zM454.93 252.74h1.06v10.62h-1.06zM454.93 263.36h1.06v10.62h-1.06zM454.93 273.98h1.06v10.62h-1.06zM455.94 178.4h1.06v10.62h-1.06zM455.94 189.02h1.06v10.62h-1.06zM455.94 210.26h1.06v10.62h-1.06zM455.94 231.5h1.06v10.62h-1.06zM455.94 242.12h1.06v10.62h-1.06zM455.94 263.36h1.06v10.62h-1.06zM455.94 273.98h1.06v10.62h-1.06zM456.95 178.4h1.06v10.62h-1.06zM456.95 210.26h1.06v10.62h-1.06zM456.95 220.88h1.06v10.62h-1.06zM456.95 231.5h1.06v10.62h-1.06zM456.95 252.74h1.06v10.62h-1.06zM456.95 263.36h1.06v10.62h-1.06zM456.95 273.98h1.06v10.62h-1.06zM457.97 178.4h1.06v10.62h-1.06zM457.97 189.02h1.06v10.62h-1.06zM457.97 199.64h1.06v10.62h-1.06zM457.97 242.12h1.06v10.62h-1.06zM457.97 252.74h1.06v10.62h-1.06zM457.97 273.98h1.06v10.62h-1.06zM458.98 178.4h1.06v10.62h-1.06zM458.98 189.02h1.06v10.62h-1.06zM458.98 231.5h1.06v10.62h-1.06zM458.98 242.12h1.06v10.62h-1.06zM458.98 252.74h1.06v10.62h-1.06zM458.98 263.36h1.06v10.62h-1.06zM458.98 273.98h1.06v10.62h-1.06zM459.99 189.02h1.06v10.62h-1.06zM459.99 199.64h1.06v10.62h-1.06zM459.99 220.88h1.06v10.62h-1.06zM459.99 231.5h1.06v10.62h-1.06zM459.99 242.12h1.06v10.62h-1.06zM461.01 178.4h1.06v10.62h-1.06zM461.01 189.02h1.06v10.62h-1.06zM461.01 242.12h1.06v10.62h-1.06zM461.01 252.74h1.06v10.62h-1.06zM461.01 263.36h1.06v10.62h-1.06zM462.02 178.4h1.06v10.62h-1.06zM462.02 189.02h1.06v10.62h-1.06zM462.02 199.64h1.06v10.62h-1.06zM462.02 231.5h1.06v10.62h-1.06zM462.02 242.12h1.06v10.62h-1.06zM462.02 252.74h1.06v10.62h-1.06zM463.03 178.4h1.06v10.62h-1.06zM463.03 189.02h1.06v10.62h-1.06zM463.03 199.64h1.06v10.62h-1.06zM463.03 231.5h1.06v10.62h-1.06zM463.03 252.74h1.06v10.62h-1.06zM463.03 273.98h1.06v10.62h-1.06zM464.05 189.02h1.06v10.62h-1.06zM464.05 199.64h1.06v10.62h-1.06zM464.05 210.26h1.06v10.62h-1.06zM464.05 220.88h1.06v10.62h-1.06zM464.05 231.5h1.06v10.62h-1.06zM464.05 252.74h1.06v10.62h-1.06zM464.05 263.36h1.06v10.62h-1.06zM464.05 273.98h1.06v10.62h-1.06zM465.06 178.4h1.06v10.62h-1.06zM465.06 189.02h1.06v10.62h-1.06zM465.06 210.26h1.06v10.62h-1.06zM465.06 231.5h1.06v10.62h-1.06zM465.06 252.74h1.06v10.62h-1.06zM465.06 263.36h1.06v10.62h-1.06zM465.06 273.98h1.06v10.62h-1.06zM466.07 189.02h1.06v10.62h-1.06zM466.07 199.64h1.06v10.62h-1.06zM466.07 210.26h1.06v10.62h-1.06zM466.07 220.88h1.06v10.62h-1.06zM466.07 231.5h1.06v10.62h-1.06zM466.07 252.74h1.06v10.62h-1.06zM466.07 273.98h1.06v10.62h-1.06zM467.08 189.02h1.06v10.62h-1.06zM467.08 199.64h1.06v10.62h-1.06zM467.08 210.26h1.06v10.62h-1.06zM467.08 242.12h1.06v10.62h-1.06zM467.08 252.74h1.06v10.62h-1.06zM467.08 273.98h1.06v10.62h-1.06zM468.1 189.02h1.06v10.62h-1.06zM468.1 210.26h1.06v10.62h-1.06zM468.1 220.88h1.06v10.62h-1.06zM468.1 242.12h1.06v10.62h-1.06zM468.1 252.74h1.06v10.62h-1.06zM468.1 273.98h1.06v10.62h-1.06zM469.11 178.4h1.06v10.62h-1.06zM469.11 189.02h1.06v10.62h-1.06zM469.11 199.64h1.06v10.62h-1.06zM469.11 220.88h1.06v10.62h-1.06zM469.11 231.5h1.06v10.62h-1.06zM469.11 273.98h1.06v10.62h-1.06zM470.12 178.4h1.06v10.62h-1.06zM470.12 189.02h1.06v10.62h-1.06zM470.12 199.64h1.06v10.62h-1.06zM470.12 231.5h1.06v10.62h-1.06zM470.12 242.12h1.06v10.62h-1.06zM470.12 252.74h1.06v10.62h-1.06zM470.12 263.36h1.06v10.62h-1.06zM470.12 273.98h1.06v10.62h-1.06zM471.14 178.4h1.06v10.62h-1.06zM471.14 199.64h1.06v10.62h-1.06zM472.15 178.4h1.06v10.62h-1.06zM472.15 220.88h1.06v10.62h-1.06zM472.15 231.5h1.06v10.62h-1.06zM472.15 242.12h1.06v10.62h-1.06zM472.15 273.98h1.06v10.62h-1.06zM473.16 178.4h1.06v10.62h-1.06zM473.16 189.02h1.06v10.62h-1.06zM473.16 199.64h1.06v10.62h-1.06zM473.16 210.26h1.06v10.62h-1.06zM473.16 231.5h1.06v10.62h-1.06zM473.16 252.74h1.06v10.62h-1.06zM473.16 273.98h1.06v10.62h-1.06zM474.18 178.4h1.06v10.62h-1.06zM474.18 189.02h1.06v10.62h-1.06zM474.18 199.64h1.06v10.62h-1.06zM474.18 210.26h1.06v10.62h-1.06zM474.18 220.88h1.06v10.62h-1.06zM474.18 231.5h1.06v10.62h-1.06zM474.18 252.74h1.06v10.62h-1.06zM474.18 263.36h1.06v10.62h-1.06zM474.18 273.98h1.06v10.62h-1.06zM475.19 178.4h1.06v10.62h-1.06zM475.19 199.64h1.06v10.62h-1.06zM475.19 210.26h1.06v10.62h-1.06zM475.19 242.12h1.06v10.62h-1.06zM475.19 252.74h1.06v10.62h-1.06zM475.19 263.36h1.06v10.62h-1.06zM476.2 178.4h1.06v10.62h-1.06zM476.2 189.02h1.06v10.62h-1.06zM476.2 199.64h1.06v10.62h-1.06zM476.2 220.88h1.06v10.62h-1.06zM476.2 231.5h1.06v10.62h-1.06zM476.2 242.12h1.06v10.62h-1.06zM476.2 263.36h1.06v10.62h-1.06zM477.21 189.02h1.06v10.62h-1.06zM477.21 199.64h1.06v10.62h-1.06zM477.21 220.88h1.06v10.62h-1.06zM477.21 231.5h1.06v10.62h-1.06zM477.21 242.12h1.06v10.62h-1.06zM478.23 178.4h1.06v10.62h-1.06zM478.23 199.64h1.06v10.62h-1.06zM478.23 210.26h1.06v10.62h-1.06zM478.23 220.88h1.06v10.62h-1.06zM478.23 231.5h1.06v10.62h-1.06zM478.23 242.12h1.06v10.62h-1.06zM479.24 178.4h1.06v10.62h-1.06zM479.24 189.02h1.06v10.62h-1.06zM479.24 199.64h1.06v10.62h-1.06zM479.24 210.26h1.06v10.62h-1.06zM479.24 220.88h1.06v10.62h-1.06zM479.24 231.5h1.06v10.62h-1.06zM479.24 263.36h1.06v10.62h-1.06zM479.24 273.98h1.06v10.62h-1.06zM480.25 178.4h1.06v10.62h-1.06zM480.25 189.02h1.06v10.62h-1.06zM480.25 199.64h1.06v10.62h-1.06zM480.25 210.26h1.06v10.62h-1.06zM480.25 220.88h1.06v10.62h-1.06zM480.25 252.74h1.06v10.62h-1.06zM481.27 189.02h1.06v10.62h-1.06zM481.27 199.64h1.06v10.62h-1.06zM481.27 220.88h1.06v10.62h-1.06zM481.27 242.12h1.06v10.62h-1.06zM482.28 189.02h1.06v10.62h-1.06zM482.28 220.88h1.06v10.62h-1.06zM482.28 242.12h1.06v10.62h-1.06zM482.28 252.74h1.06v10.62h-1.06zM482.28 263.36h1.06v10.62h-1.06zM483.29 199.64h1.06v10.62h-1.06zM483.29 210.26h1.06v10.62h-1.06zM483.29 231.5h1.06v10.62h-1.06zM483.29 242.12h1.06v10.62h-1.06zM483.29 263.36h1.06v10.62h-1.06zM484.31 189.02h1.06v10.62h-1.06zM484.31 199.64h1.06v10.62h-1.06zM484.31 231.5h1.06v10.62h-1.06zM484.31 242.12h1.06v10.62h-1.06zM484.31 252.74h1.06v10.62h-1.06zM484.31 263.36h1.06v10.62h-1.06zM485.32 199.64h1.06v10.62h-1.06zM485.32 210.26h1.06v10.62h-1.06zM485.32 220.88h1.06v10.62h-1.06zM485.32 231.5h1.06v10.62h-1.06zM485.32 252.74h1.06v10.62h-1.06zM486.33 189.02h1.06v10.62h-1.06zM486.33 199.64h1.06v10.62h-1.06zM486.33 220.88h1.06v10.62h-1.06zM486.33 231.5h1.06v10.62h-1.06zM486.33 242.12h1.06v10.62h-1.06zM486.33 252.74h1.06v10.62h-1.06zM486.33 263.36h1.06v10.62h-1.06zM486.33 273.98h1.06v10.62h-1.06zM487.34 189.02h1.06v10.62h-1.06zM487.34 220.88h1.06v10.62h-1.06zM487.34 231.5h1.06v10.62h-1.06zM487.34 242.12h1.06v10.62h-1.06zM487.34 252.74h1.06v10.62h-1.06zM487.34 263.36h1.06v10.62h-1.06zM487.34 273.98h1.06v10.62h-1.06zM488.36 178.4h1.06v10.62h-1.06zM488.36 199.64h1.06v10.62h-1.06zM488.36 210.26h1.06v10.62h-1.06zM488.36 220.88h1.06v10.62h-1.06zM488.36 231.5h1.06v10.62h-1.06zM488.36 252.74h1.06v10.62h-1.06zM488.36 273.98h1.06v10.62h-1.06zM489.37 178.4h1.06v10.62h-1.06zM489.37 220.88h1.06v10.62h-1.06zM489.37 252.74h1.06v10.62h-1.06zM489.37 263.36h1.06v10.62h-1.06zM490.38 178.4h1.06v10.62h-1.06zM490.38 220.88h1.06v10.62h-1.06zM490.38 231.5h1.06v10.62h-1.06zM490.38 242.12h1.06v10.62h-1.06zM490.38 252.74h1.06v10.62h-1.06zM490.38 263.36h1.06v10.62h-1.06zM490.38 273.98h1.06v10.62h-1.06zM491.4 178.4h1.06v10.62h-1.06zM491.4 189.02h1.06v10.62h-1.06zM491.4 199.64h1.06v10.62h-1.06zM491.4 220.88h1.06v10.62h-1.06zM491.4 263.36h1.06v10.62h-1.06zM492.41 199.64h1.06v10.62h-1.06zM492.41 210.26h1.06v10.62h-1.06zM492.41 220.88h1.06v10.62h-1.06zM492.41 231.5h1.06v10.62h-1.06zM492.41 252.74h1.06v10.62h-1.06zM492.41 263.36h1.06v10.62h-1.06zM492.41 273.98h1.06v10.62h-1.06zM493.42 178.4h1.06v10.62h-1.06zM493.42 189.02h1.06v10.62h-1.06zM493.42 210.26h1.06v10.62h-1.06zM493.42 220.88h1.06v10.62h-1.06zM493.42 231.5h1.06v10.62h-1.06zM493.42 252.74h1.06v10.62h-1.06zM493.42 263.36h1.06v10.62h-1.06zM493.42 273.98h1.06v10.62h-1.06zM494.44 178.4h1.06v10.62h-1.06zM494.44 199.64h1.06v10.62h-1.06zM494.44 210.26h1.06v10.62h-1.06zM494.44 220.88h1.06v10.62h-1.06zM494.44 231.5h1.06v10.62h-1.06zM494.44 242.12h1.06v10.62h-1.06zM494.44 263.36h1.06v10.62h-1.06zM494.44 273.98h1.06v10.62h-1.06zM495.45 178.4h1.06v10.62h-1.06zM495.45 210.26h1.06v10.62h-1.06zM495.45 220.88h1.06v10.62h-1.06zM495.45 242.12h1.06v10.62h-1.06zM495.45 252.74h1.06v10.62h-1.06zM495.45 263.36h1.06v10.62h-1.06zM496.46 178.4h1.06v10.62h-1.06zM496.46 199.64h1.06v10.62h-1.06zM496.46 210.26h1.06v10.62h-1.06zM496.46 242.12h1.06v10.62h-1.06zM496.46 252.74h1.06v10.62h-1.06zM497.47 178.4h1.06v10.62h-1.06zM497.47 189.02h1.06v10.62h-1.06zM497.47 199.64h1.06v10.62h-1.06zM497.47 210.26h1.06v10.62h-1.06zM497.47 231.5h1.06v10.62h-1.06zM497.47 242.12h1.06v10.62h-1.06zM497.47 252.74h1.06v10.62h-1.06zM497.47 263.36h1.06v10.62h-1.06zM498.49 189.02h1.06v10.62h-1.06zM498.49 199.64h1.06v10.62h-1.06zM498.49 210.26h1.06v10.62h-1.06zM498.49 220.88h1.06v10.62h-1.06zM498.49 231.5h1.06v10.62h-1.06zM498.49 242.12h1.06v10.62h-1.06zM498.49 263.36h1.06v10.62h-1.06zM498.49 273.98h1.06v10.62h-1.06zM499.5 199.64h1.06v10.62h-1.06zM499.5 210.26h1.06v10.62h-1.06zM499.5 220.88h1.06v10.62h-1.06zM499.5 242.12h1.06v10.62h-1.06zM499.5 252.74h1.06v10.62h-1.06zM499.5 263.36h1.06v10.62h-1.06zM500.51 189.02h1.06v10.62h-1.06zM500.51 199.64h1.06v10.62h-1.06zM500.51 210.26h1.06v10.62h-1.06zM500.51 220.88h1.06v10.62h-1.06zM500.51 231.5h1.06v10.62h-1.06zM500.51 273.98h1.06v10.62h-1.06zM501.53 189.02h1.06v10.62h-1.06zM501.53 199.64h1.06v10.62h-1.06zM501.53 210.26h1.06v10.62h-1.06zM501.53 231.5h1.06v10.62h-1.06zM501.53 242.12h1.06v10.62h-1.06zM501.53 252.74h1.06v10.62h-1.06zM501.53 263.36h1.06v10.62h-1.06zM501.53 273.98h1.06v10.62h-1.06zM502.54 189.02h1.06v10.62h-1.06zM502.54 199.64h1.06v10.62h-1.06zM502.54 210.26h1.06v10.62h-1.06zM502.54 220.88h1.06v10.62h-1.06zM502.54 231.5h1.06v10.62h-1.06zM502.54 242.12h1.06v10.62h-1.06zM502.54 263.36h1.06v10.62h-1.06zM502.54 273.98h1.06v10.62h-1.06zM503.55 189.02h1.06v10.62h-1.06zM503.55 199.64h1.06v10.62h-1.06zM503.55 210.26h1.06v10.62h-1.06zM503.55 220.88h1.06v10.62h-1.06zM503.55 242.12h1.06v10.62h-1.06zM503.55 263.36h1.06v10.62h-1.06zM504.57 189.02h1.06v10.62h-1.06zM504.57 199.64h1.06v10.62h-1.06zM504.57 210.26h1.06v10.62h-1.06zM504.57 220.88h1.06v10.62h-1.06zM504.57 242.12h1.06v10.62h-1.06zM504.57 263.36h1.06v10.62h-1.06zM505.58 178.4h1.06v10.62h-1.06zM505.58 199.64h1.06v10.62h-1.06zM505.58 210.26h1.06v10.62h-1.06zM505.58 252.74h1.06v10.62h-1.06zM506.59 199.64h1.06v10.62h-1.06zM506.59 210.26h1.06v10.62h-1.06zM506.59 220.88h1.06v10.62h-1.06zM506.59 231.5h1.06v10.62h-1.06zM506.59 242.12h1.06v10.62h-1.06zM507.6 178.4h1.06v10.62h-1.06zM507.6 189.02h1.06v10.62h-1.06zM507.6 199.64h1.06v10.62h-1.06zM507.6 210.26h1.06v10.62h-1.06zM507.6 220.88h1.06v10.62h-1.06zM507.6 231.5h1.06v10.62h-1.06zM507.6 252.74h1.06v10.62h-1.06zM507.6 273.98h1.06v10.62h-1.06zM508.62 178.4h1.06v10.62h-1.06zM508.62 189.02h1.06v10.62h-1.06zM508.62 199.64h1.06v10.62h-1.06zM508.62 210.26h1.06v10.62h-1.06zM508.62 231.5h1.06v10.62h-1.06zM508.62 242.12h1.06v10.62h-1.06zM508.62 252.74h1.06v10.62h-1.06zM508.62 273.98h1.06v10.62h-1.06zM509.63 178.4h1.06v10.62h-1.06zM509.63 189.02h1.06v10.62h-1.06zM509.63 210.26h1.06v10.62h-1.06zM509.63 220.88h1.06v10.62h-1.06zM509.63 242.12h1.06v10.62h-1.06zM509.63 252.74h1.06v10.62h-1.06zM509.63 273.98h1.06v10.62h-1.06zM510.64 178.4h1.06v10.62h-1.06zM510.64 189.02h1.06v10.62h-1.06zM510.64 210.26h1.06v10.62h-1.06zM510.64 220.88h1.06v10.62h-1.06zM510.64 231.5h1.06v10.62h-1.06zM510.64 252.74h1.06v10.62h-1.06zM510.64 263.36h1.06v10.62h-1.06zM511.66 178.4h1.06v10.62h-1.06zM511.66 189.02h1.06v10.62h-1.06zM511.66 199.64h1.06v10.62h-1.06zM511.66 220.88h1.06v10.62h-1.06zM512.67 178.4h1.06v10.62h-1.06zM512.67 189.02h1.06v10.62h-1.06zM512.67 199.64h1.06v10.62h-1.06zM512.67 210.26h1.06v10.62h-1.06zM512.67 220.88h1.06v10.62h-1.06zM512.67 242.12h1.06v10.62h-1.06zM512.67 263.36h1.06v10.62h-1.06zM512.67 273.98h1.06v10.62h-1.06zM513.68 178.4h1.06v10.62h-1.06zM513.68 189.02h1.06v10.62h-1.06zM513.68 199.64h1.06v10.62h-1.06zM513.68 210.26h1.06v10.62h-1.06zM513.68 231.5h1.06v10.62h-1.06zM513.68 242.12h1.06v10.62h-1.06zM513.68 252.74h1.06v10.62h-1.06zM514.7 178.4h1.06v10.62h-1.06zM514.7 189.02h1.06v10.62h-1.06zM514.7 199.64h1.06v10.62h-1.06zM514.7 210.26h1.06v10.62h-1.06zM514.7 220.88h1.06v10.62h-1.06zM514.7 242.12h1.06v10.62h-1.06zM514.7 252.74h1.06v10.62h-1.06zM514.7 263.36h1.06v10.62h-1.06zM515.71 178.4h1.06v10.62h-1.06zM515.71 189.02h1.06v10.62h-1.06zM515.71 210.26h1.06v10.62h-1.06zM515.71 231.5h1.06v10.62h-1.06zM515.71 242.12h1.06v10.62h-1.06zM515.71 252.74h1.06v10.62h-1.06zM515.71 263.36h1.06v10.62h-1.06zM515.71 273.98h1.06v10.62h-1.06zM516.72 178.4h1.06v10.62h-1.06zM516.72 189.02h1.06v10.62h-1.06zM516.72 199.64h1.06v10.62h-1.06zM516.72 210.26h1.06v10.62h-1.06zM516.72 220.88h1.06v10.62h-1.06zM516.72 242.12h1.06v10.62h-1.06zM516.72 252.74h1.06v10.62h-1.06zM516.72 273.98h1.06v10.62h-1.06zM517.73 189.02h1.06v10.62h-1.06zM517.73 199.64h1.06v10.62h-1.06zM517.73 210.26h1.06v10.62h-1.06zM517.73 220.88h1.06v10.62h-1.06zM517.73 231.5h1.06v10.62h-1.06zM517.73 242.12h1.06v10.62h-1.06zM517.73 252.74h1.06v10.62h-1.06zM517.73 263.36h1.06v10.62h-1.06zM517.73 273.98h1.06v10.62h-1.06zM518.75 178.4h1.06v10.62h-1.06zM518.75 199.64h1.06v10.62h-1.06zM518.75 210.26h1.06v10.62h-1.06zM518.75 220.88h1.06v10.62h-1.06zM518.75 231.5h1.06v10.62h-1.06zM518.75 242.12h1.06v10.62h-1.06zM519.76 199.64h1.06v10.62h-1.06zM519.76 220.88h1.06v10.62h-1.06zM519.76 231.5h1.06v10.62h-1.06zM519.76 242.12h1.06v10.62h-1.06zM519.76 252.74h1.06v10.62h-1.06zM519.76 263.36h1.06v10.62h-1.06zM520.77 189.02h1.06v10.62h-1.06zM520.77 199.64h1.06v10.62h-1.06zM520.77 210.26h1.06v10.62h-1.06zM520.77 231.5h1.06v10.62h-1.06zM520.77 252.74h1.06v10.62h-1.06zM521.79 178.4h1.06v10.62h-1.06zM521.79 189.02h1.06v10.62h-1.06zM521.79 199.64h1.06v10.62h-1.06zM521.79 210.26h1.06v10.62h-1.06zM521.79 220.88h1.06v10.62h-1.06zM521.79 231.5h1.06v10.62h-1.06zM521.79 242.12h1.06v10.62h-1.06zM521.79 252.74h1.06v10.62h-1.06zM521.79 263.36h1.06v10.62h-1.06zM521.79 273.98h1.06v10.62h-1.06z" fill="#f0f0f8"/><path d="M422.51 220.88h1.06v10.62h-1.06zM426.56 231.5h1.06v10.62h-1.06zM428.59 189.02h1.06v10.62h-1.06zM430.62 178.4h1.06v10.62h-1.06zM430.62 273.98h1.06v10.62h-1.06zM434.67 199.64h1.06v10.62h-1.06zM434.67 231.5h1.06v10.62h-1.06zM435.68 210.26h1.06v10.62h-1.06zM436.69 178.4h1.06v10.62h-1.06zM436.69 231.5h1.06v10.62h-1.06zM437.71 189.02h1.06v10.62h-1.06zM437.71 242.12h1.06v10.62h-1.06zM437.71 252.74h1.06v10.62h-1.06zM440.75 178.4h1.06v10.62h-1.06zM440.75 210.26h1.06v10.62h-1.06zM442.77 231.5h1.06v10.62h-1.06zM446.82 220.88h1.06v10.62h-1.06zM448.85 220.88h1.06v10.62h-1.06zM449.86 199.64h1.06v10.62h-1.06zM449.86 220.88h1.06v10.62h-1.06zM451.89 231.5h1.06v10.62h-1.06zM451.89 273.98h1.06v10.62h-1.06zM452.9 220.88h1.06v10.62h-1.06zM453.92 242.12h1.06v10.62h-1.06zM455.94 252.74h1.06v10.62h-1.06zM456.95 189.02h1.06v10.62h-1.06zM458.98 210.26h1.06v10.62h-1.06zM459.99 252.74h1.06v10.62h-1.06zM461.01 210.26h1.06v10.62h-1.06zM461.01 220.88h1.06v10.62h-1.06zM461.01 231.5h1.06v10.62h-1.06zM463.03 210.26h1.06v10.62h-1.06zM464.05 242.12h1.06v10.62h-1.06zM468.1 263.36h1.06v10.62h-1.06zM471.14 231.5h1.06v10.62h-1.06zM471.14 252.74h1.06v10.62h-1.06zM475.19 220.88h1.06v10.62h-1.06zM475.19 273.98h1.06v10.62h-1.06zM477.21 210.26h1.06v10.62h-1.06zM479.24 242.12h1.06v10.62h-1.06zM480.25 273.98h1.06v10.62h-1.06zM482.28 178.4h1.06v10.62h-1.06zM482.28 273.98h1.06v10.62h-1.06zM483.29 189.02h1.06v10.62h-1.06zM484.31 210.26h1.06v10.62h-1.06zM485.32 189.02h1.06v10.62h-1.06zM487.34 199.64h1.06v10.62h-1.06zM491.4 231.5h1.06v10.62h-1.06zM491.4 273.98h1.06v10.62h-1.06zM492.41 178.4h1.06v10.62h-1.06zM495.45 189.02h1.06v10.62h-1.06zM495.45 199.64h1.06v10.62h-1.06zM496.46 189.02h1.06v10.62h-1.06zM496.46 273.98h1.06v10.62h-1.06zM499.5 273.98h1.06v10.62h-1.06zM500.51 252.74h1.06v10.62h-1.06zM503.55 231.5h1.06v10.62h-1.06zM504.57 231.5h1.06v10.62h-1.06zM505.58 220.88h1.06v10.62h-1.06zM506.59 273.98h1.06v10.62h-1.06zM511.66 231.5h1.06v10.62h-1.06zM511.66 252.74h1.06v10.62h-1.06zM512.67 252.74h1.06v10.62h-1.06zM518.75 252.74h1.06v10.62h-1.06zM519.76 210.26h1.06v10.62h-1.06zM519.76 273.98h1.06v10.62h-1.06zM520.77 220.88h1.06v10.62h-1.06z" fill="#e0e8f0"/><path d="M422.51 231.5h1.06v10.62h-1.06zM423.53 189.02h1.06v10.62h-1.06zM423.53 263.36h1.06v10.62h-1.06zM425.55 263.36h1.06v10.62h-1.06zM426.56 178.4h1.06v10.62h-1.06zM426.56 199.64h1.06v10.62h-1.06zM426.56 242.12h1.06v10.62h-1.06zM428.59 199.64h1.06v10.62h-1.06zM428.59 210.26h1.06v10.62h-1.06zM428.59 252.74h1.06v10.62h-1.06zM428.59 273.98h1.06v10.62h-1.06zM430.62 231.5h1.06v10.62h-1.06zM430.62 263.36h1.06v10.62h-1.06zM431.63 231.5h1.06v10.62h-1.06zM432.64 178.4h1.06v10.62h-1.06zM432.64 263.36h1.06v10.62h-1.06zM433.66 231.5h1.06v10.62h-1.06zM433.66 242.12h1.06v10.62h-1.06zM436.69 273.98h1.06v10.62h-1.06zM437.71 220.88h1.06v10.62h-1.06zM438.72 189.02h1.06v10.62h-1.06zM438.72 210.26h1.06v10.62h-1.06zM439.73 210.26h1.06v10.62h-1.06zM439.73 220.88h1.06v10.62h-1.06zM441.76 242.12h1.06v10.62h-1.06zM441.76 252.74h1.06v10.62h-1.06zM444.8 220.88h1.06v10.62h-1.06zM445.81 178.4h1.06v10.62h-1.06zM445.81 263.36h1.06v10.62h-1.06zM446.82 231.5h1.06v10.62h-1.06zM446.82 273.98h1.06v10.62h-1.06zM447.84 231.5h1.06v10.62h-1.06zM449.86 210.26h1.06v10.62h-1.06zM450.88 231.5h1.06v10.62h-1.06zM451.89 189.02h1.06v10.62h-1.06zM451.89 263.36h1.06v10.62h-1.06zM454.93 210.26h1.06v10.62h-1.06zM454.93 220.88h1.06v10.62h-1.06zM454.93 231.5h1.06v10.62h-1.06zM456.95 199.64h1.06v10.62h-1.06zM456.95 242.12h1.06v10.62h-1.06zM457.97 263.36h1.06v10.62h-1.06zM459.99 273.98h1.06v10.62h-1.06zM463.03 220.88h1.06v10.62h-1.06zM463.03 263.36h1.06v10.62h-1.06zM467.08 220.88h1.06v10.62h-1.06zM468.1 231.5h1.06v10.62h-1.06zM469.11 252.74h1.06v10.62h-1.06zM470.12 220.88h1.06v10.62h-1.06zM471.14 220.88h1.06v10.62h-1.06zM471.14 273.98h1.06v10.62h-1.06zM472.15 263.36h1.06v10.62h-1.06zM473.16 263.36h1.06v10.62h-1.06zM476.2 273.98h1.06v10.62h-1.06zM477.21 178.4h1.06v10.62h-1.06zM478.23 189.02h1.06v10.62h-1.06zM478.23 252.74h1.06v10.62h-1.06zM478.23 273.98h1.06v10.62h-1.06zM481.27 210.26h1.06v10.62h-1.06zM481.27 231.5h1.06v10.62h-1.06zM481.27 273.98h1.06v10.62h-1.06zM482.28 199.64h1.06v10.62h-1.06zM483.29 178.4h1.06v10.62h-1.06zM483.29 273.98h1.06v10.62h-1.06zM484.31 178.4h1.06v10.62h-1.06zM484.31 220.88h1.06v10.62h-1.06zM484.31 273.98h1.06v10.62h-1.06zM485.32 242.12h1.06v10.62h-1.06zM485.32 263.36h1.06v10.62h-1.06zM487.34 178.4h1.06v10.62h-1.06zM487.34 210.26h1.06v10.62h-1.06zM488.36 189.02h1.06v10.62h-1.06zM488.36 242.12h1.06v10.62h-1.06zM489.37 189.02h1.06v10.62h-1.06zM489.37 210.26h1.06v10.62h-1.06zM491.4 252.74h1.06v10.62h-1.06zM493.42 199.64h1.06v10.62h-1.06zM494.44 252.74h1.06v10.62h-1.06zM496.46 220.88h1.06v10.62h-1.06zM497.47 220.88h1.06v10.62h-1.06zM498.49 178.4h1.06v10.62h-1.06zM498.49 252.74h1.06v10.62h-1.06zM499.5 189.02h1.06v10.62h-1.06zM499.5 231.5h1.06v10.62h-1.06zM500.51 242.12h1.06v10.62h-1.06zM500.51 263.36h1.06v10.62h-1.06zM502.54 252.74h1.06v10.62h-1.06zM503.55 273.98h1.06v10.62h-1.06zM504.57 178.4h1.06v10.62h-1.06zM505.58 189.02h1.06v10.62h-1.06zM505.58 242.12h1.06v10.62h-1.06zM506.59 178.4h1.06v10.62h-1.06zM506.59 189.02h1.06v10.62h-1.06zM506.59 252.74h1.06v10.62h-1.06zM508.62 220.88h1.06v10.62h-1.06zM508.62 263.36h1.06v10.62h-1.06zM509.63 263.36h1.06v10.62h-1.06zM510.64 199.64h1.06v10.62h-1.06zM510.64 242.12h1.06v10.62h-1.06zM510.64 273.98h1.06v10.62h-1.06zM511.66 210.26h1.06v10.62h-1.06zM513.68 273.98h1.06v10.62h-1.06zM515.71 199.64h1.06v10.62h-1.06zM515.71 220.88h1.06v10.62h-1.06zM518.75 263.36h1.06v10.62h-1.06zM520.77 242.12h1.06v10.62h-1.06zM520.77 263.36h1.06v10.62h-1.06zM520.77 273.98h1.06v10.62h-1.06z" fill="#e8e8f0"/><path d="M425.55 273.98h1.06v10.62h-1.06zM433.66 178.4h1.06v10.62h-1.06zM438.72 273.98h1.06v10.62h-1.06zM439.73 199.64h1.06v10.62h-1.06zM444.8 273.98h1.06v10.62h-1.06zM447.84 189.02h1.06v10.62h-1.06zM448.85 178.4h1.06v10.62h-1.06zM448.85 210.26h1.06v10.62h-1.06zM451.89 199.64h1.06v10.62h-1.06zM457.97 220.88h1.06v10.62h-1.06zM461.01 199.64h1.06v10.62h-1.06zM461.01 273.98h1.06v10.62h-1.06zM462.02 220.88h1.06v10.62h-1.06zM466.07 242.12h1.06v10.62h-1.06zM467.08 263.36h1.06v10.62h-1.06zM471.14 189.02h1.06v10.62h-1.06zM471.14 210.26h1.06v10.62h-1.06zM472.15 199.64h1.06v10.62h-1.06zM473.16 220.88h1.06v10.62h-1.06zM473.16 242.12h1.06v10.62h-1.06zM476.2 252.74h1.06v10.62h-1.06zM482.28 210.26h1.06v10.62h-1.06zM486.33 178.4h1.06v10.62h-1.06zM489.37 199.64h1.06v10.62h-1.06zM490.38 199.64h1.06v10.62h-1.06zM494.44 189.02h1.06v10.62h-1.06zM495.45 231.5h1.06v10.62h-1.06zM495.45 273.98h1.06v10.62h-1.06zM497.47 273.98h1.06v10.62h-1.06zM499.5 178.4h1.06v10.62h-1.06zM500.51 178.4h1.06v10.62h-1.06zM501.53 178.4h1.06v10.62h-1.06zM501.53 220.88h1.06v10.62h-1.06zM504.57 252.74h1.06v10.62h-1.06zM507.6 242.12h1.06v10.62h-1.06zM509.63 199.64h1.06v10.62h-1.06zM512.67 231.5h1.06v10.62h-1.06zM518.75 189.02h1.06v10.62h-1.06zM518.75 273.98h1.06v10.62h-1.06zM519.76 178.4h1.06v10.62h-1.06zM519.76 189.02h1.06v10.62h-1.06z" fill="#e0e0f0"/><path d="M429.6 178.4h1.06v10.62h-1.06zM429.6 220.88h1.06v10.62h-1.06zM431.63 220.88h1.06v10.62h-1.06zM435.68 273.98h1.06v10.62h-1.06zM436.69 263.36h1.06v10.62h-1.06zM437.71 199.64h1.06v10.62h-1.06zM440.75 220.88h1.06v10.62h-1.06zM441.76 199.64h1.06v10.62h-1.06zM443.79 220.88h1.06v10.62h-1.06zM445.81 231.5h1.06v10.62h-1.06zM447.84 210.26h1.06v10.62h-1.06zM455.94 199.64h1.06v10.62h-1.06zM457.97 210.26h1.06v10.62h-1.06zM458.98 199.64h1.06v10.62h-1.06zM458.98 220.88h1.06v10.62h-1.06zM463.03 242.12h1.06v10.62h-1.06zM464.05 178.4h1.06v10.62h-1.06zM465.06 220.88h1.06v10.62h-1.06zM466.07 178.4h1.06v10.62h-1.06zM467.08 178.4h1.06v10.62h-1.06zM467.08 231.5h1.06v10.62h-1.06zM469.11 210.26h1.06v10.62h-1.06zM469.11 242.12h1.06v10.62h-1.06zM472.15 189.02h1.06v10.62h-1.06zM472.15 252.74h1.06v10.62h-1.06zM474.18 242.12h1.06v10.62h-1.06zM475.19 231.5h1.06v10.62h-1.06zM477.21 252.74h1.06v10.62h-1.06zM477.21 263.36h1.06v10.62h-1.06zM479.24 252.74h1.06v10.62h-1.06zM490.38 210.26h1.06v10.62h-1.06zM491.4 242.12h1.06v10.62h-1.06zM493.42 242.12h1.06v10.62h-1.06zM503.55 178.4h1.06v10.62h-1.06zM503.55 252.74h1.06v10.62h-1.06zM511.66 263.36h1.06v10.62h-1.06zM511.66 273.98h1.06v10.62h-1.06zM514.7 231.5h1.06v10.62h-1.06z" fill="#e8f0f0"/><line x1="298.3" y1="184.4" x2="320" y2="184.4" stroke="#333" stroke-width="0.9"/><line x1="298.3" y1="184.4" x2="298.3" y2="229" stroke="#333" stroke-width="0.9"/><line x1="298.3" y1="229" x2="299.2" y2="229" stroke="#333" stroke-width="0.9"/><line x1="299.2" y1="204.3" x2="299.2" y2="255" stroke="#333" stroke-width="0.9"/><line x1="299.2" y1="204.3" x2="302.5" y2="204.3" stroke="#333" stroke-width="0.9"/><line x1="302.5" y1="195.2" x2="302.5" y2="213.4" stroke="#333" stroke-width="0.9"/><line x1="302.5" y1="195.2" x2="320" y2="195.2" stroke="#333" stroke-width="0.9"/><line x1="302.5" y1="213.4" x2="305.7" y2="213.4" stroke="#333" stroke-width="0.9"/><line x1="305.7" y1="205.6" x2="305.7" y2="221.5" stroke="#333" stroke-width="0.9"/><line x1="305.7" y1="205.6" x2="320" y2="205.6" stroke="#333" stroke-width="0.9"/><line x1="305.7" y1="221.5" x2="312.3" y2="221.5" stroke="#333" stroke-width="0.9"/><line x1="312.3" y1="216.4" x2="312.3" y2="227.1" stroke="#333" stroke-width="0.9"/><line x1="312.3" y1="216.4" x2="320" y2="216.4" stroke="#333" stroke-width="0.9"/><line x1="312.3" y1="227.1" x2="320" y2="227.1" stroke="#333" stroke-width="0.9"/><line x1="299.2" y1="255" x2="300.3" y2="255" stroke="#333" stroke-width="0.9"/><line x1="300.3" y1="242.7" x2="300.3" y2="265" stroke="#333" stroke-width="0.9"/><line x1="300.3" y1="242.7" x2="309.4" y2="242.7" stroke="#333" stroke-width="0.9"/><line x1="309.4" y1="237.8" x2="309.4" y2="248.6" stroke="#333" stroke-width="0.9"/><line x1="309.4" y1="237.8" x2="320" y2="237.8" stroke="#333" stroke-width="0.9"/><line x1="309.4" y1="248.6" x2="320" y2="248.6" stroke="#333" stroke-width="0.9"/><line x1="300.3" y1="265" x2="302.5" y2="265" stroke="#333" stroke-width="0.9"/><line x1="302.5" y1="259.4" x2="302.5" y2="274.8" stroke="#333" stroke-width="0.9"/><line x1="302.5" y1="259.4" x2="320" y2="259.4" stroke="#333" stroke-width="0.9"/><line x1="302.5" y1="274.8" x2="308.3" y2="274.8" stroke="#333" stroke-width="0.9"/><line x1="308.3" y1="269.4" x2="308.3" y2="280.2" stroke="#333" stroke-width="0.9"/><line x1="308.3" y1="269.4" x2="320" y2="269.4" stroke="#333" stroke-width="0.9"/><line x1="308.3" y1="280.2" x2="320" y2="280.2" stroke="#333" stroke-width="0.9"/><text x="524.5" y="177.34" font-size="6.5" text-anchor="start" fill="#1a1a1a" stroke="#1a1a1a" stroke-width="0.22">Group</text><text x="524.5" y="186.03" font-size="6.2" text-anchor="start" fill="#222" stroke="#222" stroke-width="0.22">MMP7</text><text x="524.5" y="196.73" font-size="6.2" text-anchor="start" fill="#222" stroke="#222" stroke-width="0.22">MMP11</text><text x="524.5" y="207.23" font-size="6.2" text-anchor="start" fill="#222" stroke="#222" stroke-width="0.22">MMP9</text><text x="524.5" y="217.93" font-size="6.2" text-anchor="start" fill="#222" stroke="#222" stroke-width="0.22">MMP2</text><text x="524.5" y="228.63" font-size="6.2" text-anchor="start" fill="#222" stroke="#222" stroke-width="0.22">MMP14</text><text x="524.5" y="239.53" font-size="6.2" text-anchor="start" fill="#222" stroke="#222" stroke-width="0.22">ADAM10</text><text x="524.5" y="250.23" font-size="6.2" text-anchor="start" fill="#222" stroke="#222" stroke-width="0.22">ADAM17</text><text x="524.5" y="260.63" font-size="6.2" text-anchor="start" fill="#222" stroke="#222" stroke-width="0.22">MMP12</text><text x="524.5" y="271.33" font-size="6.2" text-anchor="start" fill="#222" stroke="#222" stroke-width="0.22">MMP1</text><text x="524.5" y="282.03" font-size="6.2" text-anchor="start" fill="#222" stroke="#222" stroke-width="0.22">MMP3</text><text transform="translate(568.4 178.8) scale(0.93 1)" font-size="23.7" fill="#2a1812" stroke="#2a1812" stroke-width="0.15">G</text><path d="M594 256.5 Q676.75 246.2 759.5 231 L759.5 243 Q676.75 252.8 594 267.5 Z" fill="#f0b098" opacity="0.4"/><line x1="594" y1="262" x2="759.5" y2="237" stroke="#e0603e" stroke-width="0.7" opacity="0.5"/><path d="M594 251 Q676.75 233.25 759.5 210.5 L759.5 222.5 Q676.75 239.25 594 261 Z" fill="#b0c4ec" opacity="0.4"/><line x1="594" y1="256" x2="759.5" y2="216.5" stroke="#4a74c8" stroke-width="0.7" opacity="0.5"/><path d="M644.23 256.95h0M734.22 283.66h0M655.68 275.48h0M735.89 214.05h0M679.08 268.34h0M675.23 240.32h0M692.47 259.08h0M622.68 252.53h0M755.31 259.87h0M717.94 268.32h0M677.94 209.56h0M619.12 242.49h0M665.84 283.4h0M689.59 263.58h0" stroke="#e0603e" stroke-width="2.5" stroke-linecap="round" fill="none" opacity="0.88"/><path d="M655.89 274.89h0M618.9 284.2h0M634.89 288.03h0M666.94 245.34h0M675.23 279.1h0M672.47 261.69h0M711.55 225.07h0M625.43 276.29h0M749.97 201.73h0M688.73 260.6h0M627.12 297.33h0M652.96 277.71h0M709.49 252.02h0M609.61 278.69h0M670.44 282.47h0M698.05 227.7h0" stroke="#4a74c8" stroke-width="2.5" stroke-linecap="round" fill="none" opacity="0.88"/><path d="M664.25 245.99h0M757.39 267.28h0M711.81 251.96h0M675.53 254.19h0M655.94 285.76h0M664.13 239.44h0M676.53 272.83h0M656.71 247.37h0M680.07 273.51h0M668.71 299.96h0M643.98 250.27h0M749.92 241.08h0M666.62 243.53h0" stroke="#e0603e" stroke-width="2.5" stroke-linecap="round" fill="none" opacity="0.88"/><path d="M665.71 232.15h0M649.09 235.22h0M652.58 240.31h0M711.8 213.86h0M629.05 240.28h0M691.15 243.7h0M707.08 244.28h0M646.35 264.27h0M689.23 210.98h0M731.41 257.15h0M727.85 210.5h0M669.28 293.51h0M683.02 246.1h0M735.96 248.83h0M685.1 250.02h0M681.81 236.57h0M730.23 231.36h0" stroke="#4a74c8" stroke-width="2.5" stroke-linecap="round" fill="none" opacity="0.88"/><path d="M695.89 256.08h0M642.06 266.62h0M625.77 261.27h0M675.31 285.01h0M694.58 276.55h0M653.32 277.11h0M677.77 246.22h0M673.77 237.86h0M674.64 192.98h0M706.12 275.18h0M721.43 226.4h0M720.54 253.23h0M707.79 221.13h0M723.55 274.95h0M684.14 246h0M676.19 266.78h0M690.59 238.97h0" stroke="#e0603e" stroke-width="2.5" stroke-linecap="round" fill="none" opacity="0.88"/><path d="M717.14 210.09h0M703.46 230.14h0M644.27 246.81h0M673.9 252.81h0M695.62 213.77h0M649.81 242.04h0M647.07 234.22h0M697.45 250.21h0M630.59 268.04h0M624.73 252.2h0M681.84 220.09h0M723.03 239.71h0M693.74 245.71h0" stroke="#4a74c8" stroke-width="2.5" stroke-linecap="round" fill="none" opacity="0.88"/><path d="M668.99 263.78h0M689.62 259.9h0M686.9 270.02h0M686.68 261.28h0M638.66 228.53h0M681.34 250.06h0M701.27 219.11h0M684.8 234.07h0M695.38 237.84h0M728.75 247.2h0M715.65 239.24h0M702.63 253.94h0M668.65 268.08h0" stroke="#e0603e" stroke-width="2.5" stroke-linecap="round" fill="none" opacity="0.88"/><path d="M671.5 273.2h0M660.18 286.41h0M692.41 255.15h0M702.65 234.1h0M707.74 237.93h0M676.07 265.74h0M725.28 251.19h0M699.47 246.7h0M748.65 183.74h0M692.19 208.87h0M672.61 247.55h0M664.82 258.57h0M712.27 260.03h0M648.05 225.68h0M650.02 254.43h0M711.39 281.34h0M685.06 261.73h0" stroke="#4a74c8" stroke-width="2.5" stroke-linecap="round" fill="none" opacity="0.88"/><path d="M619.15 285.9h0M696.25 282.73h0M632.74 278.59h0M637.65 287.17h0M627.43 223.43h0M618.06 247.9h0M664.87 242.4h0M675 232.99h0M644.11 259.71h0M641.24 252.62h0M657 276.05h0M663.74 225.56h0M677.53 236.62h0M684.95 245.1h0" stroke="#e0603e" stroke-width="2.5" stroke-linecap="round" fill="none" opacity="0.88"/><path d="M666.14 258.7h0M631.44 279.26h0M706.95 225.94h0M657.5 260.41h0M710.43 194.81h0M678.98 209.09h0M718.15 188.3h0M693.65 278.69h0M670.85 221.12h0M629.82 287.34h0M670.62 219.75h0M754.12 272.82h0M677.16 200.26h0M678.73 244.54h0M703.11 284.34h0M690.41 264.09h0" stroke="#4a74c8" stroke-width="2.5" stroke-linecap="round" fill="none" opacity="0.88"/><path d="M684.86 264.7h0M660.28 256.63h0M662.3 286.01h0M655.52 231.75h0M711.51 236.7h0M670.31 216.08h0M667.41 282.76h0M729.79 239.05h0M683.66 298.72h0M699.35 280.11h0M720.82 245.95h0M715.81 200.65h0M682.02 292.22h0M653.07 235.5h0" stroke="#e0603e" stroke-width="2.5" stroke-linecap="round" fill="none" opacity="0.88"/><path d="M650.54 208.41h0M664.35 264.38h0M714.31 254.14h0M655.94 254.75h0M641.77 284.13h0M702.46 242.6h0M662.29 261.06h0M673.75 227.73h0M682.71 287.05h0M648.55 203.13h0M706.67 250.97h0M644.15 215.8h0M604.8 252.08h0M631.59 269.22h0M697.3 193.66h0M663.22 247.66h0" stroke="#4a74c8" stroke-width="2.5" stroke-linecap="round" fill="none" opacity="0.88"/><path d="M669.39 222.03h0M665.39 270.16h0M691.99 229.75h0M723.44 238.28h0M675.45 247.53h0M742.08 238.23h0M697.56 228.27h0M740.28 217.13h0M649.17 247.64h0M644.99 275.49h0M615.66 237.77h0M740.31 236.3h0M703.67 220.81h0M670.21 275.65h0M646.94 256.41h0M655.58 262.73h0M652.07 238.64h0M653.58 221.88h0" stroke="#e0603e" stroke-width="2.5" stroke-linecap="round" fill="none" opacity="0.88"/><path d="M714.34 234.81h0M699.16 235.13h0M683.29 230.8h0M677.08 239.63h0M652.15 236.74h0M692 261.69h0M710.66 245h0M667.94 218.38h0M669.07 252.8h0M681.1 246.34h0M687.05 284.82h0M644.72 296.38h0" stroke="#4a74c8" stroke-width="2.5" stroke-linecap="round" fill="none" opacity="0.88"/><path d="M641.5 252.98h0M707.85 216.12h0M659.24 245.33h0M647.35 243.14h0M723.72 269.09h0M667.06 255.14h0M668.98 208.89h0M727.92 252.49h0M732.15 273.14h0M695.91 224.99h0M639.66 257.65h0M631.73 260.06h0M673.63 253.21h0M647.04 293.69h0M691.67 256.25h0" stroke="#e0603e" stroke-width="2.5" stroke-linecap="round" fill="none" opacity="0.88"/><path d="M713.89 221.42h0M661.51 229.72h0M644.78 262.37h0M639.91 244.69h0M714.16 240.41h0M649.29 232.83h0M686.19 244.11h0M675.25 229.66h0M683.04 271.05h0M689.21 199.44h0M663.35 269.05h0M711.1 251.53h0M620.27 259.68h0M664.86 258.53h0M703.62 282.71h0" stroke="#4a74c8" stroke-width="2.5" stroke-linecap="round" fill="none" opacity="0.88"/><path d="M685.78 260.53h0M691.91 282.68h0M637.66 254.05h0M637.82 264.93h0M689.49 232.54h0M637.02 233.86h0M706.11 263.94h0M653.6 258.13h0M713.83 236.05h0M686.46 239.01h0M703.79 217.22h0M692.25 265.63h0M620.17 263.97h0M655.61 283.44h0" stroke="#e0603e" stroke-width="2.5" stroke-linecap="round" fill="none" opacity="0.88"/><path d="M686.03 247.39h0M679.92 229.21h0M696.07 236.77h0M688.27 221.09h0M654.4 261.42h0M651.98 226.27h0M741.01 253.9h0M689.32 267.7h0M706.5 259.42h0M641.28 253.68h0M722.4 231.98h0M695.66 208.67h0M684.33 219.58h0M650.17 278.27h0M709.65 202.26h0M729.03 222.55h0" stroke="#4a74c8" stroke-width="2.5" stroke-linecap="round" fill="none" opacity="0.88"/><path d="M634.76 258.05h0M682.55 290.74h0M705.6 273.02h0M694.85 286.05h0M656.2 240.32h0M695.65 280.16h0M715.9 208.25h0M652.88 282.92h0M720.21 242.55h0M632.74 294.18h0M723.11 241.07h0M676.46 232.66h0M690.73 237.69h0M707.2 259.53h0M739.65 239.87h0M676.79 244.64h0M668.83 224.11h0M668.27 256.43h0" stroke="#e0603e" stroke-width="2.5" stroke-linecap="round" fill="none" opacity="0.88"/><path d="M698.52 223.51h0M618.84 239.82h0M689.77 225.76h0M730.01 231.69h0M646.73 281.35h0M674.49 250.56h0M708.06 220.94h0M734.59 223.57h0M671.08 270.53h0M654.17 212.56h0M659.25 263.04h0M732.16 237.94h0" stroke="#4a74c8" stroke-width="2.5" stroke-linecap="round" fill="none" opacity="0.88"/><path d="M646.5 286.5h0M703.33 251.86h0M722.53 266.97h0M692.86 247.8h0M662.59 227.16h0M669.01 266.63h0M675.7 214.8h0M613.03 288.37h0M676.85 266.56h0M678.56 283.59h0M713.45 240.47h0M700.6 278.04h0M717.33 238.77h0M714.15 225.08h0M705.32 272.05h0M639.56 244.91h0" stroke="#e0603e" stroke-width="2.5" stroke-linecap="round" fill="none" opacity="0.88"/><path d="M644.77 274.78h0M716.95 208.29h0M646.5 239.87h0M716.54 227.63h0M644.27 248.76h0M684.88 221.95h0M658.54 220.03h0M671.2 218.81h0M672.53 268.2h0M607.55 288.02h0M674.55 248.33h0M694.66 255.34h0M676.08 278.76h0M688.07 272.45h0" stroke="#4a74c8" stroke-width="2.5" stroke-linecap="round" fill="none" opacity="0.88"/><path d="M688.32 280.72h0M653.31 230.07h0M686.02 275.23h0M706.78 291.35h0M694.71 278.13h0M677.89 204.84h0M686.67 204.99h0M699.41 232.83h0M678.13 195.55h0M679.81 260.1h0M643.53 250.49h0M721.16 200.67h0M713.96 246.54h0M627.1 259.18h0M706.43 270.1h0M674.05 199.3h0M621.47 255.54h0M699.94 243.36h0" stroke="#e0603e" stroke-width="2.5" stroke-linecap="round" fill="none" opacity="0.88"/><path d="M662.12 236.01h0M680.34 279.2h0M708.78 262.44h0M679.24 250.09h0M645.11 224.71h0M654.39 264.9h0M701.28 252.62h0M717.06 229.26h0M650.83 251.2h0M721.59 243.16h0M713.2 253.45h0M722 200.61h0" stroke="#4a74c8" stroke-width="2.5" stroke-linecap="round" fill="none" opacity="0.88"/><path d="M679.08 274.19h0M655.25 252.62h0M698.98 219.2h0M656.59 295.61h0M699.17 230.63h0M668.51 276.9h0M625.28 270.72h0M687.07 237.23h0M688.4 272.69h0M656.39 241.51h0M727.9 217.17h0M711.58 288.94h0M722.95 265.12h0" stroke="#e0603e" stroke-width="2.5" stroke-linecap="round" fill="none" opacity="0.88"/><path d="M675.21 231.52h0M666.83 242.8h0M641.56 256.47h0M699.73 222.61h0M684.93 251.73h0M669.27 225.66h0M733.72 223.51h0M649.08 284.59h0M680.39 256.59h0M698.47 224.02h0M656 286.43h0M653.31 255.38h0M725.31 192.22h0M707.56 216.64h0M708.42 281.24h0M677.1 224.51h0M673.55 239.08h0" stroke="#4a74c8" stroke-width="2.5" stroke-linecap="round" fill="none" opacity="0.88"/><path d="M728.45 246.1h0M668.68 237.14h0M634.39 252.28h0M659.92 195.48h0M696.51 250.39h0M686.23 275.71h0M655.05 280.12h0M703.23 216.3h0M653.55 194.76h0M667.26 255.58h0M683.31 227.98h0M675.62 281.42h0M711.56 288h0M640.01 254.32h0M690.12 281.42h0M709.71 219.99h0" stroke="#e0603e" stroke-width="2.5" stroke-linecap="round" fill="none" opacity="0.88"/><path d="M749.08 225.09h0M693.48 214.07h0M693.54 244.63h0M711.44 229.01h0M672.29 249.31h0M704.6 254h0M700.68 235.15h0M691.29 250.53h0M690.29 221.18h0M714.14 234.76h0M618.43 240.13h0M663.01 239.39h0M678.37 227.75h0M694.16 254.37h0" stroke="#4a74c8" stroke-width="2.5" stroke-linecap="round" fill="none" opacity="0.88"/><path d="M717.81 241.31h0M708.64 215.12h0M675.65 290h0M675.36 287.18h0M689.29 273.02h0M729.62 229.31h0M656.64 269.75h0M682.16 245.01h0M648.46 286.16h0M750.31 211.99h0M691.47 227.19h0M663.86 297.49h0M645.38 250.52h0" stroke="#e0603e" stroke-width="2.5" stroke-linecap="round" fill="none" opacity="0.88"/><path d="M692.86 209.91h0M665.36 232.79h0M712.78 204.17h0M650.63 256.52h0M687.67 225.06h0M677.25 236.14h0M713.16 227.29h0M696.48 270.93h0M701.22 229.51h0M667.33 247.27h0M665.75 272.69h0M623.84 237.87h0M658.21 287.45h0M716.81 237.9h0M695.48 240.98h0M711.57 188.16h0M607.41 292.77h0" stroke="#4a74c8" stroke-width="2.5" stroke-linecap="round" fill="none" opacity="0.88"/><path d="M633.06 238.24h0M664.47 237.61h0M692.08 247.42h0M687.87 281.79h0M654.29 248.88h0M725.3 254.66h0M714.8 284.85h0M656.29 230.7h0M679.92 273.94h0M726.92 237.43h0M666.26 241.85h0M662.75 256.66h0M650.67 272.66h0M712.38 233.91h0M627.26 274.24h0M628.28 264.59h0M650.94 290.85h0" stroke="#e0603e" stroke-width="2.5" stroke-linecap="round" fill="none" opacity="0.88"/><path d="M670.36 258.26h0M697.86 270.34h0M737.96 194.15h0M667.76 262.26h0M655.01 264.03h0M718.09 190.88h0M659.93 245.67h0M675.15 243.88h0M718.66 267.9h0M643.45 230.74h0M657.02 240.32h0M653.34 265.76h0M662.69 229.57h0" stroke="#4a74c8" stroke-width="2.5" stroke-linecap="round" fill="none" opacity="0.88"/><path d="M650.62 264.75h0M709.13 273.26h0M655.1 229.23h0M717.08 245.99h0M700.09 293.19h0M638.38 273.69h0M684.31 231.35h0M656.58 222.13h0M688.64 227.25h0M668.96 279.57h0M621.79 199.68h0M715.14 230.19h0M653.53 266.54h0M660.14 209.95h0M717.29 254.95h0" stroke="#e0603e" stroke-width="2.5" stroke-linecap="round" fill="none" opacity="0.88"/><path d="M678.91 203.34h0M698.13 197.14h0M687.37 268.78h0M669.4 273.6h0M737.03 208.82h0M676.44 274.4h0M634.33 286.87h0M702.37 233.91h0M700.34 222.32h0M689.48 225.52h0M706.17 220.47h0M682.81 224.18h0M703.66 189.34h0M722.93 230.29h0M680.31 247.26h0" stroke="#4a74c8" stroke-width="2.5" stroke-linecap="round" fill="none" opacity="0.88"/><path d="M638 254.23h0M691.46 292.66h0M640.8 255.91h0M695.97 246.69h0M705.53 292.19h0M653.41 235.63h0M735.72 212.33h0M705.05 248.1h0M671.81 216.43h0M645.96 228.77h0M709 224.14h0M649.15 207.4h0M624.74 251.6h0M710.28 253.36h0M687.38 259.29h0" stroke="#e0603e" stroke-width="2.5" stroke-linecap="round" fill="none" opacity="0.88"/><path d="M706.61 242.95h0M656.98 263.5h0M691.12 249.33h0M709.8 255.15h0M671.4 214.77h0M670.78 269.51h0M655.9 282.08h0M667.18 240.78h0M718.56 272.71h0M656.55 248.19h0M695.47 251.79h0M748.63 244.32h0M673.84 290.65h0M670.22 272.86h0M676.74 280.51h0" stroke="#4a74c8" stroke-width="2.5" stroke-linecap="round" fill="none" opacity="0.88"/><path d="M728.96 269.78h0M704.26 238.13h0M627.85 289.13h0M649.52 302.41h0M698.86 266.32h0M754.18 249.3h0M706.78 253.4h0M684.49 246.04h0M663.79 290.43h0M746.15 221.23h0M622.75 264.68h0M658.93 262.43h0M634.81 262.36h0M686.9 249.12h0M638.3 234.17h0M689.52 271.61h0" stroke="#e0603e" stroke-width="2.5" stroke-linecap="round" fill="none" opacity="0.88"/><path d="M671.4 248.46h0M700.89 264.46h0M641.11 232.09h0M682.11 207.73h0M664.13 262.71h0M653.26 279.12h0M672.77 266.64h0M716.49 236.87h0M728.58 255.11h0M683.74 210.19h0M725.34 227.95h0M636.03 283.01h0M668.82 258.99h0M671.75 255.98h0" stroke="#4a74c8" stroke-width="2.5" stroke-linecap="round" fill="none" opacity="0.88"/><path d="M662.86 275.72h0M741.1 239.7h0M683.47 238.62h0M714.09 287.45h0M718.37 251.18h0M666.06 208.42h0M683.86 297.36h0M666.63 250.32h0M645.9 255.42h0M712.98 252.1h0M668.71 249.25h0M695.34 259.38h0M735.82 235.77h0M639.62 242.44h0M649.14 294.48h0" stroke="#e0603e" stroke-width="2.5" stroke-linecap="round" fill="none" opacity="0.88"/><path d="M687.67 260.79h0M677.73 221.28h0M711.46 250.04h0M686.03 259.22h0M711.66 237.86h0M698.54 262.24h0M674.36 236.06h0M654.84 229.27h0M683.73 286.44h0M689.59 236.41h0M679.94 275.48h0M682.23 210.17h0M709.47 259.68h0M674.13 242.69h0M753.24 229.24h0" stroke="#4a74c8" stroke-width="2.5" stroke-linecap="round" fill="none" opacity="0.88"/><path d="M683.19 263.88h0M724.07 214.92h0M682.77 236.94h0M736.87 277.3h0M679.89 247.36h0M683.51 228.2h0M678.37 260.64h0M668.64 224.12h0M654.52 266.39h0M660.44 289.83h0M687.67 257.71h0M638.02 298.37h0M721.55 267.95h0M696.96 287.89h0M684.38 241.64h0M718.35 251.16h0M662.62 252.77h0M693.7 228.23h0" stroke="#e0603e" stroke-width="2.5" stroke-linecap="round" fill="none" opacity="0.88"/><path d="M660.75 242.49h0M718.73 195.99h0M679.2 287.14h0M667.84 221.5h0M688.75 238.54h0M695.29 246.39h0M625.46 295.05h0M690.07 236.13h0M713.59 236.81h0M642.85 200.23h0M692.06 251.4h0M675.59 243.08h0" stroke="#4a74c8" stroke-width="2.5" stroke-linecap="round" fill="none" opacity="0.88"/><path d="M705.97 195.15h0M645.71 296.03h0M700.93 273.11h0M704.17 222.87h0M630.44 293.3h0M690.97 274.15h0M713.22 278.46h0M666.28 300.71h0M711.23 235.37h0M714.38 205h0M693.87 244.1h0M687.25 253.97h0M706.8 267.85h0M674.9 259.42h0M693.61 290.13h0M729.36 242.29h0" stroke="#e0603e" stroke-width="2.5" stroke-linecap="round" fill="none" opacity="0.88"/><path d="M681.31 218.32h0M671.5 268.79h0M659.63 263.81h0M707.83 264.72h0M674.63 257.94h0M693.52 236.61h0M723.57 222.68h0M695.26 225.67h0M665.14 268.98h0M715.86 223.02h0M661.89 250.99h0M686.78 198.43h0M706.68 201.85h0M688.48 199.02h0" stroke="#4a74c8" stroke-width="2.5" stroke-linecap="round" fill="none" opacity="0.88"/><path d="M728.47 291.27h0M670.96 251.6h0M746.12 270.23h0M663.76 252.64h0M600.85 260.95h0M654.14 282.06h0M631.05 261.98h0M659.96 248.82h0M653.36 239.84h0M701.31 257.72h0M622.46 226.32h0M690.69 299.26h0M670.8 281.04h0M693.69 249.94h0M656.11 262.38h0" stroke="#e0603e" stroke-width="2.5" stroke-linecap="round" fill="none" opacity="0.88"/><path d="M708.4 265.23h0M615.7 246.3h0M642.5 225.58h0M678.66 224.1h0M622.52 219.48h0M700.19 215.92h0M678.63 250.74h0M678.34 223.51h0M673.17 191.43h0M669.78 267.7h0M692.21 265.75h0M727.23 218.61h0M629.58 279.51h0M660.57 258.39h0M672.99 243.51h0" stroke="#4a74c8" stroke-width="2.5" stroke-linecap="round" fill="none" opacity="0.88"/><path d="M684.95 297.84h0M714.82 261.15h0M629.89 265.08h0M693.64 248.19h0M709.31 197.59h0M593.78 288.3h0M689.18 271.06h0M745.21 295.41h0M686.19 238.73h0M689.65 265.86h0M680.46 238.4h0M720.63 242.2h0M666.6 227.46h0" stroke="#e0603e" stroke-width="2.5" stroke-linecap="round" fill="none" opacity="0.88"/><path d="M726.21 215.07h0M663.7 284.06h0M662.53 217.9h0M695.42 240.23h0M712.73 222.65h0M715.46 240.57h0M605.4 263.72h0M731.97 197.51h0M683.66 286.19h0M677.05 224.98h0M698.86 239.9h0M679.66 220.98h0M671.68 211.3h0M659.79 264.23h0M756.98 183.19h0M650.77 213.59h0M651.33 262.23h0" stroke="#4a74c8" stroke-width="2.5" stroke-linecap="round" fill="none" opacity="0.88"/><path d="M674.09 199.43h0M637.19 288.18h0M692.01 236.4h0M680.34 281.52h0M670.93 241.13h0M672.7 259.01h0M706.7 238.52h0M654.55 239.28h0M718.04 264.61h0M728.25 239.11h0M682.05 251.01h0M725.52 282.9h0M660.97 252.37h0M698.06 234.81h0M671.86 257.98h0M700.99 255.62h0" stroke="#e0603e" stroke-width="2.5" stroke-linecap="round" fill="none" opacity="0.88"/><path d="M741.36 204.71h0M759.91 263.29h0M679.86 244.22h0M667.09 210.55h0M677.08 267.58h0M659.94 249.72h0M666.98 260.92h0M680.79 226.67h0M712.24 193.58h0M691.48 232.56h0M631.28 221.73h0M672.39 228.87h0M671.99 284.34h0M669.9 231.94h0" stroke="#4a74c8" stroke-width="2.5" stroke-linecap="round" fill="none" opacity="0.88"/><path d="M668.45 236.11h0M700.27 194.6h0M717.28 210.38h0M652.99 293.63h0M704 264.48h0M674.03 256.7h0M743.64 230.9h0M663.22 266.29h0M675.4 230.3h0M649.86 285.06h0M688.06 268.8h0M702.23 260.14h0M687.64 278.65h0M659.58 251.67h0" stroke="#e0603e" stroke-width="2.5" stroke-linecap="round" fill="none" opacity="0.88"/><path d="M691.31 265.5h0M616.55 232.14h0M685.07 240.4h0M698.42 244.95h0M695.97 254.06h0M672.71 222.47h0M733.74 236.99h0M653.35 267.14h0M706.62 234.89h0M691.76 234.77h0M646.2 272.18h0M628.27 261.61h0M715 240.88h0M664.03 250.03h0M702.61 232.99h0M719.65 200.87h0" stroke="#4a74c8" stroke-width="2.5" stroke-linecap="round" fill="none" opacity="0.88"/><path d="M687.43 287.15h0M700.26 237.42h0M680.31 263.92h0M649.39 232.61h0M640.73 288.15h0M619.57 285.7h0M697.27 217.72h0M667.28 228.28h0M686.95 244.23h0M713.8 283.1h0M690.19 217.23h0M624.09 302.81h0M661.03 207.96h0M686.09 270.64h0M665.98 264.51h0M716.89 275.13h0M710.26 186.83h0M676.41 207.48h0" stroke="#e0603e" stroke-width="2.5" stroke-linecap="round" fill="none" opacity="0.88"/><path d="M703.89 223h0M699.7 238.13h0M693.16 228.6h0M701.38 232.96h0M690.58 261.45h0M669.44 295.2h0M636.21 257.75h0M668.67 264.31h0M632.61 222.56h0M666.57 224.1h0M692.6 237.74h0M658.09 193.73h0" stroke="#4a74c8" stroke-width="2.5" stroke-linecap="round" fill="none" opacity="0.88"/><path d="M702.59 222.19h0M704.51 290.05h0M677.68 228.95h0M676.12 271.37h0M610.05 203.99h0M690.93 267.21h0M661.48 275.9h0M598.45 250.82h0M676.54 249.22h0M654.02 267.29h0M700.57 262.68h0M703.43 262.38h0M683.25 259.34h0M662.64 215.52h0M690.64 228.84h0M692.36 221.56h0" stroke="#e0603e" stroke-width="2.5" stroke-linecap="round" fill="none" opacity="0.88"/><path d="M743.16 247.88h0M658.98 229.49h0M694.63 274.96h0M669.72 216.08h0M676.5 206.81h0M654.71 282.43h0M647.44 245.11h0M702.26 238.79h0M708.73 245.67h0M663.01 302h0M665.19 235.52h0M696.6 258.45h0M639.42 242.87h0M675.31 239.86h0" stroke="#4a74c8" stroke-width="2.5" stroke-linecap="round" fill="none" opacity="0.88"/><path d="M645.51 251.5h0M743.11 245.07h0M704.45 233.42h0M659.16 285.22h0M721.15 236.83h0M692.12 259.43h0M715.24 292.29h0M754.26 226.25h0M668.68 261.23h0M658.55 279.05h0M732.64 219.41h0M646.03 233.4h0M710.09 236.45h0M633.4 245.1h0M758.55 262h0M705.79 261.96h0M702.06 262.13h0M675.79 221.3h0M707.9 227.16h0" stroke="#e0603e" stroke-width="2.5" stroke-linecap="round" fill="none" opacity="0.88"/><path d="M703.79 237.21h0M712.9 192.51h0M672.37 228.19h0M711.14 264.63h0M631.1 273.67h0M691.81 270.9h0M717.59 241.56h0M678.23 237.45h0M626.24 241.91h0M731.65 251.48h0M700.01 270.99h0" stroke="#4a74c8" stroke-width="2.5" stroke-linecap="round" fill="none" opacity="0.88"/><path d="M660.26 216.19h0M673.49 227.27h0M687.31 221.98h0M705.2 262.75h0M659 244.88h0M691.48 281.11h0M711.82 264.74h0M623.8 276.96h0M622.69 260.11h0M706 267.6h0M698.24 254.46h0" stroke="#e0603e" stroke-width="2.5" stroke-linecap="round" fill="none" opacity="0.88"/><path d="M674.12 282.93h0M660.13 261.2h0M720.35 239.21h0M678.64 226.68h0M713.05 206.56h0M687.18 258.93h0M743.98 211.32h0M701.35 225.49h0M665.53 261.9h0" stroke="#4a74c8" stroke-width="2.5" stroke-linecap="round" fill="none" opacity="0.88"/><path d="M594 256.5 Q676.75 246.2 759.5 231 L759.5 243 Q676.75 252.8 594 267.5 Z" fill="#f0b8a0" opacity="0.15"/><line x1="594" y1="262" x2="759.5" y2="237" stroke="#e0603e" stroke-width="0.7" opacity="0.5"/><path d="M594 251 Q676.75 233.25 759.5 210.5 L759.5 222.5 Q676.75 239.25 594 261 Z" fill="#b8ccf0" opacity="0.15"/><line x1="594" y1="256" x2="759.5" y2="216.5" stroke="#4a74c8" stroke-width="0.7" opacity="0.5"/><line x1="589" y1="177" x2="589" y2="305.5" stroke="#333" stroke-width="1.4"/><line x1="589" y1="305.5" x2="761" y2="305.5" stroke="#333" stroke-width="1.4"/><text x="598.4" y="269.79" font-size="9.7" text-anchor="start" fill="#e4482e" stroke="#e4482e" stroke-width="0.4">THBS2 ~ MMP7</text><text x="763.4" y="269.79" font-size="9.7" text-anchor="end" fill="#3a6cc8" stroke="#3a6cc8" stroke-width="0.4">THBS2 ~ MMP1</text><text x="597" y="283.93" font-size="9.8" text-anchor="start" fill="#444" stroke="#444" stroke-width="0.22">r = 0.213</text><text x="597" y="297.33" font-size="9.8" text-anchor="start" fill="#444" stroke="#444" stroke-width="0.22">P &lt; 0.001</text><text x="763.4" y="283.93" font-size="9.8" text-anchor="end" fill="#444" stroke="#444" stroke-width="0.22">r = 0.371</text><text x="763.4" y="297.33" font-size="9.8" text-anchor="end" fill="#444" stroke="#444" stroke-width="0.22">P &lt; 0.001</text><text x="679.5" y="322.92" font-size="12" text-anchor="middle" fill="#111" stroke="#111" stroke-width="0.3">The expression of THBS2(CAFs)</text><text x="563.2" y="240.76" font-size="12.1" text-anchor="middle" fill="#111" transform="rotate(-90 563.2 236.4)" stroke="#111" stroke-width="0.35">The expression of</text><text x="577.8" y="246.42" font-size="12" text-anchor="middle" fill="#111" transform="rotate(-90 577.8 242.1)" stroke="#111" stroke-width="0.35">MMPs(Tumor)</text><text transform="translate(568.1 352.7) scale(0.93 1)" font-size="23.7" fill="#2a1812" stroke="#2a1812" stroke-width="0.15">H</text><path d="M594 435 Q676.75 418.4 759.5 396.5 L759.5 409.5 Q676.75 425.6 594 447 Z" fill="#f0b098" opacity="0.38"/><line x1="594" y1="441" x2="759.5" y2="403" stroke="#e0603e" stroke-width="0.7" opacity="0.5"/><path d="M594 457 Q676.75 431.5 759.5 402 L759.5 412 Q676.75 437.5 594 467 Z" fill="#b0c4ec" opacity="0.3"/><line x1="594" y1="462" x2="759.5" y2="407" stroke="#4a74c8" stroke-width="0.7" opacity="0.5"/><path d="M671.85 374.61h0M654.05 436.65h0M705.07 398.08h0M678.1 445.04h0M733.69 440.37h0M693.86 453.21h0M718.47 409.33h0M726.47 435.5h0M701.93 399.07h0M704.02 400.02h0M718.83 412.91h0M706.52 398.35h0M683.93 410.54h0M685.85 488.4h0M665.46 422.19h0M692.4 409.35h0M637.43 449.72h0M720.12 399.8h0M704.54 403.78h0" stroke="#e0603e" stroke-width="2.5" stroke-linecap="round" fill="none" opacity="0.88"/><path d="M653.2 427.12h0M682.4 453.19h0M715.96 425.51h0M717.05 405.89h0M699.25 436.19h0M728.86 388.07h0M736.29 391.34h0M687.61 416.23h0M701.36 455.41h0M717.12 404.39h0M738.4 403.74h0" stroke="#4a74c8" stroke-width="2.5" stroke-linecap="round" fill="none" opacity="0.88"/><path d="M736.15 417.07h0M670.37 444.12h0M663.47 442.96h0M693.27 403.02h0M674.95 399.58h0M719.31 375.53h0M701.85 381.28h0M671.17 393.33h0M728.6 410.35h0M685.28 383.18h0M669 416.17h0M689.87 403.87h0M673.74 465.67h0M687.33 390.51h0" stroke="#e0603e" stroke-width="2.5" stroke-linecap="round" fill="none" opacity="0.88"/><path d="M701.64 423.18h0M642.97 419.36h0M683.3 433.77h0M712.68 428.55h0M692.17 429.63h0M671.59 437.78h0M730.17 422.91h0M717.53 408.71h0M733.66 427.58h0M714.58 439.85h0M683.32 469.4h0M696.62 426.76h0M705.37 428.04h0M659.96 424.12h0M748.01 394.62h0M736.54 399.88h0" stroke="#4a74c8" stroke-width="2.5" stroke-linecap="round" fill="none" opacity="0.88"/><path d="M658.02 442.63h0M669.3 410.89h0M719.55 426.48h0M720.36 390.42h0M645.04 444.18h0M659.49 459.49h0M692.05 445.51h0M714.93 421.7h0M638.68 446.27h0M677.93 414.01h0M668.08 416.35h0M677.38 433.76h0M616.8 464.84h0M692.11 390.91h0M601.94 405.88h0M665.46 450.91h0M678.99 419.37h0M674.19 380.88h0" stroke="#e0603e" stroke-width="2.5" stroke-linecap="round" fill="none" opacity="0.88"/><path d="M699.53 438.21h0M675.61 431.51h0M654.25 420.38h0M693.89 457.22h0M718.95 393.96h0M657.93 446.04h0M657.11 445.36h0M725.11 419.28h0M633.98 470.13h0M728.52 426.16h0M687.64 451.38h0M650.46 436.15h0" stroke="#4a74c8" stroke-width="2.5" stroke-linecap="round" fill="none" opacity="0.88"/><path d="M665.62 417.18h0M668.75 422.27h0M665.67 397.74h0M662.9 374.12h0M651.56 436.65h0M708.4 406.49h0M655.88 394.21h0M698.35 416.12h0M709.57 414.22h0M682.05 400.49h0M682.39 376.7h0M687.74 383.73h0M738.94 420.63h0M632.24 442.61h0M672.49 469.22h0" stroke="#e0603e" stroke-width="2.5" stroke-linecap="round" fill="none" opacity="0.88"/><path d="M638.48 415.53h0M699.57 441.2h0M690.17 438.19h0M655.15 432.35h0M690.06 439.71h0M731.4 397.94h0M735.2 416.11h0M660.5 402.78h0M697.18 430.39h0M686.88 422.35h0M671.76 430.46h0M649.91 456.32h0M732.74 413.84h0M709.1 422.01h0M665.78 437.13h0" stroke="#4a74c8" stroke-width="2.5" stroke-linecap="round" fill="none" opacity="0.88"/><path d="M636.1 418.06h0M686.89 411.58h0M651.43 441.58h0M759.19 429.13h0M675.86 384.94h0M682.42 416.02h0M632.96 454.2h0M683.1 421.41h0M649.76 401.07h0M620.18 445.89h0M716.66 403.3h0M719.74 394.65h0M674.23 409.81h0M688.54 447.71h0M681.98 412.51h0M656.61 422.94h0M757.42 395.71h0M658.24 446.81h0M717.48 401.68h0M688.25 436.41h0M686.42 395.61h0" stroke="#e0603e" stroke-width="2.5" stroke-linecap="round" fill="none" opacity="0.88"/><path d="M709.55 392.75h0M740.75 380.51h0M662.71 446.97h0M651.55 469.15h0M718.38 426.22h0M695.27 447.67h0M657.71 456.64h0M732.26 435.16h0M698.96 412.51h0" stroke="#4a74c8" stroke-width="2.5" stroke-linecap="round" fill="none" opacity="0.88"/><path d="M695.61 442.85h0M681.81 413h0M659.89 420.71h0M699.34 422.35h0M720.31 410.67h0M648.6 436.15h0M708.88 385.5h0M696.22 413.07h0M710.14 405.21h0M712 406.57h0M706.12 425.95h0M730.66 398.53h0M675.72 374h0M661.76 446.18h0M637.74 451.25h0M704.32 412.7h0M743.39 428.04h0M673.94 370.75h0M758.8 392.46h0" stroke="#e0603e" stroke-width="2.5" stroke-linecap="round" fill="none" opacity="0.88"/><path d="M719.55 398.97h0M702.26 426.28h0M747.71 381.82h0M688.34 429.73h0M685.14 421.99h0M656.09 440.17h0M704.06 412.26h0M655.14 457.17h0M727.97 403.82h0M697.49 409.13h0M717.61 442.85h0" stroke="#4a74c8" stroke-width="2.5" stroke-linecap="round" fill="none" opacity="0.88"/><path d="M630.94 464.58h0M647.53 446.36h0M718.56 394.73h0M699.76 465.99h0M709.65 412.23h0M659.18 407.09h0M649.15 427.1h0M672.46 408.69h0M610.95 459.53h0M651.14 453.43h0M668.8 422.99h0M642.31 477.88h0M679.37 418.31h0M656.62 480.44h0M724.81 415.37h0M645.37 421.11h0M669.46 436.54h0M728.44 392.62h0M640.69 444.44h0M702 397.68h0M670.04 420.06h0M628.92 416.06h0M644.64 426h0M689.56 407.1h0M707.74 448.49h0" stroke="#e0603e" stroke-width="2.5" stroke-linecap="round" fill="none" opacity="0.88"/><path d="M653.42 440.84h0M699.92 446.62h0M670.16 439.58h0M739.04 391.5h0M733.93 415.17h0" stroke="#4a74c8" stroke-width="2.5" stroke-linecap="round" fill="none" opacity="0.88"/><path d="M690.3 389.86h0M653.46 405.01h0M666.76 475.84h0M694.18 409.16h0M688.61 384.68h0M712.61 414.95h0M740.25 389.01h0M712.49 413.44h0M647.22 465.35h0M608.66 464.17h0M708.14 393h0M705.81 438.92h0M697.36 430.59h0M703.44 408.27h0M664.93 429.49h0M708.95 401.53h0M651.01 451.63h0M664.24 427.93h0" stroke="#e0603e" stroke-width="2.5" stroke-linecap="round" fill="none" opacity="0.88"/><path d="M691.26 397.33h0M710.56 442.47h0M739.73 401.72h0M702.79 391.11h0M722.28 420.2h0M723.01 415.44h0M646.64 440.63h0M738.58 413.95h0M722.47 408.58h0M658.47 409.8h0M665.84 458.34h0M696.75 435.29h0" stroke="#4a74c8" stroke-width="2.5" stroke-linecap="round" fill="none" opacity="0.88"/><path d="M669.76 392.43h0M681.18 399.01h0M671.32 369.85h0M621.9 436.63h0M686.51 400.2h0M730.86 414.25h0M661.25 469.05h0M662.5 458.86h0M673.33 402.87h0M752.16 387.39h0M671 414.21h0M687.03 464.37h0M694.3 433.3h0" stroke="#e0603e" stroke-width="2.5" stroke-linecap="round" fill="none" opacity="0.88"/><path d="M717.25 422.73h0M711.43 422.34h0M693.36 433.11h0M646.08 465.11h0M670.58 454.7h0M652.27 449.22h0M672.49 472.93h0M690.64 454.62h0M672.12 393.06h0M705.81 386.31h0M710.93 423.37h0M712.02 406.13h0M719.34 401.32h0M728.42 419.24h0M674.73 437.08h0M725.55 381.36h0M735.81 404.26h0" stroke="#4a74c8" stroke-width="2.5" stroke-linecap="round" fill="none" opacity="0.88"/><path d="M646.91 451.76h0M731 410.16h0M650.64 470.07h0M700.62 375.86h0M656.89 438.35h0M626.07 420.3h0M639.17 427.38h0M716.62 448.87h0M619.02 459.53h0M669.04 450.12h0M712.52 384.85h0M681.28 425.9h0M711.87 378.27h0M628.75 474.82h0M688.68 387.19h0M641.39 448.55h0M656.81 452.28h0M740.41 417.85h0M701.11 415.77h0" stroke="#e0603e" stroke-width="2.5" stroke-linecap="round" fill="none" opacity="0.88"/><path d="M691.54 440.03h0M731.43 408.6h0M701.84 437.06h0M736.66 408.31h0M660.87 395.37h0M682.97 438.5h0M714.79 423.16h0M645.61 421.55h0M738.59 420.28h0M718.73 403.25h0M702.63 418.22h0" stroke="#4a74c8" stroke-width="2.5" stroke-linecap="round" fill="none" opacity="0.88"/><path d="M608.01 462.36h0M649.84 478.13h0M612.33 409.71h0M666.8 465.14h0M666.64 442.45h0M702.1 411.05h0M681.54 460h0M646.08 440.65h0M660.18 432.91h0M734.88 407.37h0M704.47 406.44h0M695.96 426.97h0M668.06 468.44h0M630.72 451.5h0M654.21 398.88h0M620.86 406.23h0M707.9 428.83h0M692.89 418.68h0" stroke="#e0603e" stroke-width="2.5" stroke-linecap="round" fill="none" opacity="0.88"/><path d="M695.37 417.05h0M673.19 421.98h0M718.3 445.71h0M702.24 390.83h0M717.69 434.63h0M646.48 421.41h0M671.38 427.91h0M686.05 415.71h0M742.66 394.6h0M696.53 423.35h0M684.53 410.7h0M701.92 431.28h0" stroke="#4a74c8" stroke-width="2.5" stroke-linecap="round" fill="none" opacity="0.88"/><path d="M661.23 448.32h0M708.42 382.39h0M654.2 425.23h0M693.63 411.44h0M672.83 423.1h0M672.68 408.68h0M635.25 459.77h0M717.33 432.14h0M657.76 468.36h0M634.92 398.74h0M674.42 450.47h0M662.7 388.84h0M681.05 457.03h0M720.35 441.82h0M714.17 410.39h0M713.24 404.36h0M621.06 454.6h0M689.65 389.27h0" stroke="#e0603e" stroke-width="2.5" stroke-linecap="round" fill="none" opacity="0.88"/><path d="M680.06 456.57h0M680.05 407.33h0M659.3 449.48h0M739.99 408.87h0M683.04 428.46h0M661.05 421.22h0M709.79 419.61h0M673.86 416.51h0M631.34 446.58h0M684.95 426.88h0M710.42 392.45h0M651.91 453.21h0" stroke="#4a74c8" stroke-width="2.5" stroke-linecap="round" fill="none" opacity="0.88"/><path d="M674.74 422.71h0M688.38 375.19h0M619.67 464.69h0M696.96 389.08h0M599.58 437.18h0M669.48 483.22h0M653.39 419.28h0M649.23 441.96h0M667.94 442.19h0M676.42 461.35h0M713.13 445.16h0M691.21 406.78h0M685.83 428.52h0M673.27 378.32h0M650.45 441.19h0M670.12 413.65h0M696 390.4h0" stroke="#e0603e" stroke-width="2.5" stroke-linecap="round" fill="none" opacity="0.88"/><path d="M656.28 428.48h0M699.29 415.92h0M729.32 432.67h0M728.22 412h0M660.95 436h0M618.23 468.7h0M759.35 427.36h0M682.35 449.51h0M639.77 457.53h0M747.04 415.4h0M673.05 425.48h0M696.84 455.72h0M696.74 440.72h0" stroke="#4a74c8" stroke-width="2.5" stroke-linecap="round" fill="none" opacity="0.88"/><path d="M613.64 414.53h0M680.04 470.36h0M648.44 445.09h0M740.93 410.05h0M654.91 445.45h0M672.77 432.24h0M737.63 401.59h0M705 414.05h0M675.51 440.89h0M698.87 392.41h0M731.58 418.75h0M635.54 423.25h0M729.18 369.95h0M678.14 453.91h0M645.56 481.73h0M725.2 424.69h0M630.28 403.54h0M705.09 436.35h0" stroke="#e0603e" stroke-width="2.5" stroke-linecap="round" fill="none" opacity="0.88"/><path d="M721.18 408.92h0M703.9 407.89h0M696.62 462.27h0M681.7 429.31h0M699.56 420.91h0M728.04 410.57h0M651.49 384.54h0M699.04 417.47h0M693.09 423.46h0M642.86 426.25h0M674.03 424.39h0M744.9 409.67h0" stroke="#4a74c8" stroke-width="2.5" stroke-linecap="round" fill="none" opacity="0.88"/><path d="M707.72 406.4h0M703.89 456.38h0M642.31 429.07h0M667.3 407.4h0M695.94 375.6h0M667.49 437.89h0M733.98 387.22h0M654.88 436.59h0M685.02 389.45h0M653.28 446.9h0M678.81 422.93h0M721.85 383.7h0M746.94 402.79h0M710.39 448.21h0M706.72 392.06h0M681.68 431.53h0M668.58 408.11h0M678.92 469.71h0M700.99 407.52h0" stroke="#e0603e" stroke-width="2.5" stroke-linecap="round" fill="none" opacity="0.88"/><path d="M676.78 438.4h0M678.18 429.93h0M687.39 424.78h0M683.51 445.48h0M689.76 456.46h0M650.71 437.06h0M699.2 427.6h0M650.33 422.94h0M724.68 434.08h0M756.28 400.04h0M724.78 377.97h0" stroke="#4a74c8" stroke-width="2.5" stroke-linecap="round" fill="none" opacity="0.88"/><path d="M679.95 427.98h0M695.89 422.89h0M669.94 448.68h0M643.74 423.86h0M681.47 399.05h0M748.04 368.63h0M714.88 409.31h0M690.54 429.52h0M677.34 467.03h0M678.72 434.49h0M667.45 466.92h0M652.71 423.97h0M660.15 418.78h0M628.62 446h0M672.58 448.77h0M700.65 440.92h0" stroke="#e0603e" stroke-width="2.5" stroke-linecap="round" fill="none" opacity="0.88"/><path d="M665.95 438.11h0M752.03 431.16h0M652.12 455.77h0M669.14 447.79h0M675.15 426.56h0M682.39 425.23h0M638.2 454.02h0M718.88 375.93h0M691.82 386.81h0M696.63 437.94h0M686.87 435.41h0M680.39 434.55h0M706.53 407.15h0M644.72 468.3h0" stroke="#4a74c8" stroke-width="2.5" stroke-linecap="round" fill="none" opacity="0.88"/><path d="M712.76 435.89h0M734.75 425.83h0M688.97 420.71h0M668.58 436.96h0M704.17 419.95h0M742.39 383.66h0M649.41 466.67h0M705.49 391.27h0M736.39 414.44h0M687.11 428.55h0M702.71 390.04h0M689.72 385.5h0M681.69 410.61h0M676.67 407.77h0M642.91 445.74h0M686.65 425h0" stroke="#e0603e" stroke-width="2.5" stroke-linecap="round" fill="none" opacity="0.88"/><path d="M717.84 402.78h0M701.68 396.08h0M704.89 406.69h0M629.65 466.37h0M701.91 444.76h0M668.61 425.61h0M696.78 408.89h0M663.73 441.56h0M678.05 433.65h0M653.58 433.25h0M688.61 449.01h0M699.8 449.19h0M706.06 417.28h0M652.78 454.98h0" stroke="#4a74c8" stroke-width="2.5" stroke-linecap="round" fill="none" opacity="0.88"/><path d="M689.21 423.94h0M735.22 396.48h0M702.35 423.56h0M613.86 431.98h0M662.24 429.61h0M645.85 455.08h0M695.34 437.28h0M647.78 411.79h0M659.2 385h0M669.11 417.86h0M716.15 399.51h0M689.94 420.7h0M671.47 425.63h0M675.26 415.71h0M619.6 412.54h0" stroke="#e0603e" stroke-width="2.5" stroke-linecap="round" fill="none" opacity="0.88"/><path d="M709.33 426.67h0M681.35 429.59h0M695.53 409.19h0M752.69 390.86h0M727.3 439.12h0M696.59 454.06h0M695.39 419.2h0M682.9 428.91h0M713.66 422.84h0M685.9 470.17h0M694.75 431.63h0M692.55 430.03h0M701.4 441.04h0M678.25 449.15h0M703.68 423.05h0" stroke="#4a74c8" stroke-width="2.5" stroke-linecap="round" fill="none" opacity="0.88"/><path d="M662.53 454.97h0M736.83 468.41h0M608.9 481.9h0M626.51 424.68h0M756.52 398.98h0M691.88 428.39h0M686.25 419.06h0M704.12 381.23h0M646.7 452.04h0M646.83 435.53h0M640.84 445.8h0M710.17 457.87h0M662.99 443.04h0M677.35 443.88h0M711.44 402.08h0M699.75 399.55h0" stroke="#e0603e" stroke-width="2.5" stroke-linecap="round" fill="none" opacity="0.88"/><path d="M705.78 443.04h0M702.22 415.06h0M731.54 433.88h0M654.85 412.51h0M739.2 403.03h0M691.77 444.96h0M654.34 435.99h0M679.65 463.98h0M743.33 414.86h0M716.9 414.63h0M702.25 442.08h0M718.6 408.11h0M723.62 380.14h0M737.51 399.35h0" stroke="#4a74c8" stroke-width="2.5" stroke-linecap="round" fill="none" opacity="0.88"/><path d="M688.66 412.55h0M657.3 419.35h0M719.24 413.62h0M684.57 418.59h0M654.43 443.99h0M691.78 380.36h0M746.08 461.08h0M680.14 398.06h0M657.7 479.18h0M663.81 409.12h0M714.06 435.44h0M625.21 452.06h0M754.36 413.51h0M678.65 438.73h0M673.76 436.77h0" stroke="#e0603e" stroke-width="2.5" stroke-linecap="round" fill="none" opacity="0.88"/><path d="M675.58 434.56h0M698.21 423.22h0M738.98 392.37h0M697.45 436.09h0M630.13 412.58h0M684.55 381.63h0M730.37 406.49h0M689.24 424.17h0M676.83 436.13h0M672.83 423.5h0M661.5 430.04h0M691.43 463.78h0M670.99 421.44h0M721.71 385.09h0M735.02 438.33h0" stroke="#4a74c8" stroke-width="2.5" stroke-linecap="round" fill="none" opacity="0.88"/><path d="M649.37 462h0M696.34 398.35h0M712.13 374.37h0M742.65 389.95h0M725.03 437.02h0M678.36 393.64h0M734.45 405.8h0M704.77 420.9h0M703.73 390.35h0M690.2 412.3h0M690.6 443h0M673.64 378.98h0" stroke="#e0603e" stroke-width="2.5" stroke-linecap="round" fill="none" opacity="0.88"/><path d="M659.79 424.98h0M714.66 386.14h0M714.39 394.81h0M729.55 385.62h0M685.01 417.16h0M692.06 414.58h0M751.9 413.47h0M674.62 442.3h0M683.93 417.21h0M694.44 426.52h0M633.79 480.23h0M673.51 433.23h0M712.78 440.4h0M737.96 415.91h0M647.58 440.01h0M702.09 436.43h0M673.15 431.17h0M611.92 466.97h0" stroke="#4a74c8" stroke-width="2.5" stroke-linecap="round" fill="none" opacity="0.88"/><path d="M644.48 460.36h0M601.57 438.6h0M717.94 431.23h0M685.47 400.81h0M651.81 440.77h0M652.87 452.15h0M655.85 456.9h0M736.82 430.59h0M671.37 386.63h0M716.31 413.09h0M667.91 388.17h0M616.24 422.37h0M690.86 423.51h0M694.37 393.79h0M660.67 414.36h0M697.56 479.62h0M723.06 430.2h0" stroke="#e0603e" stroke-width="2.5" stroke-linecap="round" fill="none" opacity="0.88"/><path d="M698.6 427.73h0M643.98 453.74h0M700.99 427.13h0M673.34 407.02h0M689.35 443.66h0M673.11 452.93h0M661.86 457.43h0M700.07 404.27h0M688.06 407.69h0M660.34 412.46h0M675.79 432.98h0M690.32 457.53h0M674.64 428.33h0" stroke="#4a74c8" stroke-width="2.5" stroke-linecap="round" fill="none" opacity="0.88"/><path d="M667.32 420.93h0M659.53 398.28h0M732.52 396.25h0M672.76 412.41h0M663.85 461.78h0M669.25 385.4h0M698.49 374.48h0M661.55 391.79h0M708.17 436.61h0M607.2 480.18h0M694.79 410.71h0M660.29 434.1h0M750.71 406.53h0M649.5 438.42h0M678.94 392.27h0M673.75 408.39h0M705.33 402.17h0M662.53 414.39h0M698.55 445.35h0M675.86 412.35h0" stroke="#e0603e" stroke-width="2.5" stroke-linecap="round" fill="none" opacity="0.88"/><path d="M737.02 395.94h0M688.41 461.2h0M721.79 415.52h0M705.36 403.68h0M718.93 403.53h0M674.72 453.41h0M753.15 384.1h0M651.96 459.25h0M685.32 427.55h0M643.89 470.85h0" stroke="#4a74c8" stroke-width="2.5" stroke-linecap="round" fill="none" opacity="0.88"/><path d="M644.99 423.53h0M687.27 406.35h0M665.45 430.02h0M626.8 410.55h0M641.7 443.78h0M724.5 408.48h0M685.63 436.14h0M699 440.81h0M649.48 416.02h0M690.71 423.43h0M707.85 420.02h0M669.85 451.96h0M691.91 395.93h0M625.98 417.64h0M672.42 424.34h0M698.79 423.45h0M641.63 437.75h0M691.24 408.17h0M676.67 442.59h0M659.09 452.13h0M685.39 448.25h0M711.96 376.1h0M671.5 424.66h0M681.58 420.03h0M727.74 464.63h0" stroke="#e0603e" stroke-width="2.5" stroke-linecap="round" fill="none" opacity="0.88"/><path d="M648.51 461.46h0M755.79 395.62h0M696.5 454.68h0M642.36 438.01h0M660.49 455.2h0" stroke="#4a74c8" stroke-width="2.5" stroke-linecap="round" fill="none" opacity="0.88"/><path d="M693.29 378h0M659.39 471.14h0M634.3 473.39h0M676.16 422.37h0M655.84 397.39h0M707.8 409.32h0M708.36 418.22h0M664.71 420.17h0M685.71 406.63h0M640.69 454.54h0M641.52 465.54h0M687.18 416.6h0M688.69 430.76h0M641.14 445.88h0M656.16 434.69h0M674.36 447.96h0M690.19 400.29h0M714.6 401.18h0" stroke="#e0603e" stroke-width="2.5" stroke-linecap="round" fill="none" opacity="0.88"/><path d="M643.84 438.62h0M706.56 442.46h0M623.29 439.62h0M662.54 454.32h0M652.62 442.3h0M748.37 412.53h0M678.96 437.59h0M725.53 391.44h0M741.62 416.04h0M709.31 397.32h0M676.23 451.31h0M749.12 414.65h0" stroke="#4a74c8" stroke-width="2.5" stroke-linecap="round" fill="none" opacity="0.88"/><path d="M709.87 456.12h0M723.12 427.84h0M639.08 418.03h0M684.8 409.39h0M676.68 436.17h0M668.85 452.22h0M663.22 408.51h0M759.16 391.61h0M726.76 385.06h0M693.29 457.84h0M749.52 400.92h0" stroke="#e0603e" stroke-width="2.5" stroke-linecap="round" fill="none" opacity="0.88"/><path d="M698.95 413.21h0M661.22 442.19h0M690.95 399.5h0M692.02 453.64h0M677.47 437.47h0M666.34 430.22h0M722.11 423.99h0M734.03 431.32h0M696.76 427.53h0M715.44 415.99h0M698.03 389.23h0M687.23 416.01h0M643.85 426.7h0M698.88 381.28h0M636.84 427.72h0M691.56 400.28h0M603.49 477.86h0M725.57 423.25h0M728.61 387.84h0" stroke="#4a74c8" stroke-width="2.5" stroke-linecap="round" fill="none" opacity="0.88"/><path d="M703.04 400.38h0M696.33 417.32h0M683.18 461.54h0M637.27 410.52h0M732.54 455.19h0M691.92 420.74h0M679.17 469.32h0M655.49 482.22h0M732.2 408.64h0M698.37 444.32h0M666.9 411.73h0M716.07 401.24h0M703.52 403.43h0M665.21 403.64h0M685.91 395.68h0M679.67 413.01h0M666.93 441.28h0M704.47 445.23h0" stroke="#e0603e" stroke-width="2.5" stroke-linecap="round" fill="none" opacity="0.88"/><path d="M647.5 461.32h0M701.12 425.74h0M643.67 460.1h0M723.2 421.54h0M721.12 439.28h0M733.49 404.18h0M675.26 424.55h0M687.44 411.94h0M729.96 448.65h0M658.05 433.63h0M685.9 453.04h0M706.77 413.61h0" stroke="#4a74c8" stroke-width="2.5" stroke-linecap="round" fill="none" opacity="0.88"/><path d="M594 435 Q676.75 418.4 759.5 396.5 L759.5 409.5 Q676.75 425.6 594 447 Z" fill="#f2bca6" opacity="0.12"/><line x1="594" y1="441" x2="759.5" y2="403" stroke="#e0603e" stroke-width="0.7" opacity="0.5"/><line x1="589.6" y1="365.4" x2="589.6" y2="492.5" stroke="#333" stroke-width="1.4"/><line x1="589.6" y1="492.5" x2="761.6" y2="492.5" stroke="#333" stroke-width="1.4"/><text x="594.5" y="459.09" font-size="9.7" text-anchor="start" fill="#e4482e" stroke="#e4482e" stroke-width="0.4">THBS2 ~ MMP12</text><text x="758" y="459.09" font-size="9.7" text-anchor="end" fill="#3a6cc8" stroke="#3a6cc8" stroke-width="0.4">THBS2 ~ MMP9</text><text x="594.5" y="472.93" font-size="9.8" text-anchor="start" fill="#444" stroke="#444" stroke-width="0.22">r = 0.365</text><text x="594.5" y="486.93" font-size="9.8" text-anchor="start" fill="#444" stroke="#444" stroke-width="0.22">P &lt; 0.001</text><text x="758" y="472.93" font-size="9.8" text-anchor="end" fill="#444" stroke="#444" stroke-width="0.22">r = 0.628</text><text x="758" y="486.93" font-size="9.8" text-anchor="end" fill="#444" stroke="#444" stroke-width="0.22">P &lt; 0.001</text><text x="680.4" y="510.52" font-size="12" text-anchor="middle" fill="#111" stroke="#111" stroke-width="0.3">The expression of THBS2(CAFs)</text><text x="564" y="440.82" font-size="12" text-anchor="middle" fill="#111" transform="rotate(-90 564 436.5)" stroke="#111" stroke-width="0.35">The expression of</text><text x="577.8" y="432.32" font-size="12" text-anchor="middle" fill="#111" transform="rotate(-90 577.8 428)" stroke="#111" stroke-width="0.35">MMPs(Macrophage)</text><text transform="translate(22 305.7) scale(0.93 1)" font-size="23.7" fill="#2a1812" stroke="#2a1812" stroke-width="0.15">E</text><rect x="56.4" y="309" width="233.8" height="188.5" fill="none" stroke="#666" stroke-width="0.8"/><text x="52.2" y="322.62" font-size="8.4" text-anchor="end" fill="#1a1a1a" stroke="#1a1a1a" stroke-width="0.18">Mast</text><line x1="53" y1="319.6" x2="56.4" y2="319.6" stroke="#333" stroke-width="0.8"/><text x="52.2" y="339.42" font-size="8.4" text-anchor="end" fill="#1a1a1a" stroke="#1a1a1a" stroke-width="0.18">Enteric glial</text><line x1="53" y1="336.4" x2="56.4" y2="336.4" stroke="#333" stroke-width="0.8"/><text x="52.2" y="356.22" font-size="8.4" text-anchor="end" fill="#1a1a1a" stroke="#1a1a1a" stroke-width="0.18">Epithelial</text><line x1="53" y1="353.2" x2="56.4" y2="353.2" stroke="#333" stroke-width="0.8"/><text x="52.2" y="373.02" font-size="8.4" text-anchor="end" fill="#1a1a1a" stroke="#1a1a1a" stroke-width="0.18">B</text><line x1="53" y1="370" x2="56.4" y2="370" stroke="#333" stroke-width="0.8"/><text x="52.2" y="389.82" font-size="8.4" text-anchor="end" fill="#1a1a1a" stroke="#1a1a1a" stroke-width="0.18">Malignant</text><line x1="53" y1="386.8" x2="56.4" y2="386.8" stroke="#333" stroke-width="0.8"/><text x="52.2" y="406.62" font-size="8.4" text-anchor="end" fill="#1a1a1a" stroke="#1a1a1a" stroke-width="0.18">Endothelial</text><line x1="53" y1="403.6" x2="56.4" y2="403.6" stroke="#333" stroke-width="0.8"/><text x="52.2" y="423.42" font-size="8.4" text-anchor="end" fill="#1a1a1a" stroke="#1a1a1a" stroke-width="0.18">CD8+</text><line x1="53" y1="420.4" x2="56.4" y2="420.4" stroke="#333" stroke-width="0.8"/><text x="52.2" y="440.22" font-size="8.4" text-anchor="end" fill="#1a1a1a" stroke="#1a1a1a" stroke-width="0.18">Fibroblasts</text><line x1="53" y1="437.2" x2="56.4" y2="437.2" stroke="#333" stroke-width="0.8"/><text x="52.2" y="457.02" font-size="8.4" text-anchor="end" fill="#1a1a1a" stroke="#1a1a1a" stroke-width="0.18">Macrophages</text><line x1="53" y1="454" x2="56.4" y2="454" stroke="#333" stroke-width="0.8"/><text x="52.2" y="473.82" font-size="8.4" text-anchor="end" fill="#1a1a1a" stroke="#1a1a1a" stroke-width="0.18">Plasma</text><line x1="53" y1="470.8" x2="56.4" y2="470.8" stroke="#333" stroke-width="0.8"/><text x="52.2" y="490.62" font-size="8.4" text-anchor="end" fill="#1a1a1a" stroke="#1a1a1a" stroke-width="0.18">CD4+</text><line x1="53" y1="487.6" x2="56.4" y2="487.6" stroke="#333" stroke-width="0.8"/><circle cx="71.8" cy="319.6" r="0.9" fill="#3b3d8e"/><circle cx="97.27" cy="319.6" r="0.9" fill="#3b3d8e"/><circle cx="122.74" cy="319.6" r="0.9" fill="#3b3d8e"/><circle cx="148.21" cy="319.6" r="0.9" fill="#3b3d8e"/><circle cx="173.68" cy="319.6" r="0.9" fill="#3b3d8e"/><circle cx="199.15" cy="319.6" r="0.9" fill="#3b3d8e"/><circle cx="224.62" cy="319.6" r="0.9" fill="#3b3d8e"/><circle cx="250.09" cy="319.6" r="0.9" fill="#3b3d8e"/><circle cx="275.56" cy="319.6" r="1.5" fill="#2e3a8a"/><circle cx="71.8" cy="336.4" r="0.9" fill="#3b3d8e"/><circle cx="97.27" cy="336.4" r="0.9" fill="#3b3d8e"/><circle cx="122.74" cy="336.4" r="0.9" fill="#3b3d8e"/><circle cx="148.21" cy="336.4" r="0.9" fill="#3b3d8e"/><circle cx="173.68" cy="336.4" r="0.9" fill="#3b3d8e"/><circle cx="199.15" cy="336.4" r="0.9" fill="#3b3d8e"/><circle cx="224.62" cy="336.4" r="0.9" fill="#3b3d8e"/><circle cx="250.09" cy="336.4" r="1.8" fill="#3a7fb0"/><circle cx="275.56" cy="336.4" r="1.3" fill="#2e3a8a"/><circle cx="71.8" cy="353.2" r="0.9" fill="#3b3d8e"/><circle cx="97.27" cy="353.2" r="0.9" fill="#3b3d8e"/><circle cx="122.74" cy="353.2" r="0.9" fill="#3b3d8e"/><circle cx="148.21" cy="353.2" r="0.9" fill="#3b3d8e"/><circle cx="173.68" cy="353.2" r="0.9" fill="#3b3d8e"/><circle cx="199.15" cy="353.2" r="0.9" fill="#3b3d8e"/><circle cx="224.62" cy="353.2" r="0.9" fill="#3b3d8e"/><circle cx="250.09" cy="353.2" r="2" fill="#2e3a8c"/><circle cx="275.56" cy="353.2" r="3.4" fill="#2a60a8"/><circle cx="71.8" cy="370" r="0.9" fill="#3b3d8e"/><circle cx="97.27" cy="370" r="0.9" fill="#3b3d8e"/><circle cx="122.74" cy="370" r="0.9" fill="#3b3d8e"/><circle cx="148.21" cy="370" r="0.9" fill="#3b3d8e"/><circle cx="173.68" cy="370" r="0.9" fill="#3b3d8e"/><circle cx="199.15" cy="370" r="0.9" fill="#3b3d8e"/><circle cx="224.62" cy="370" r="0.9" fill="#3b3d8e"/><circle cx="250.09" cy="370" r="0.9" fill="#3b3d8e"/><circle cx="275.56" cy="370" r="1.2" fill="#2e3a8a"/><circle cx="71.8" cy="386.8" r="2.5" fill="#c9c02e"/><circle cx="97.27" cy="386.8" r="1.5" fill="#2e3a8a"/><circle cx="122.74" cy="386.8" r="0.9" fill="#3b3d8e"/><circle cx="148.21" cy="386.8" r="3.2" fill="#f0c020"/><circle cx="173.68" cy="386.8" r="0.9" fill="#3b3d8e"/><circle cx="199.15" cy="386.8" r="1.3" fill="#2e3a8a"/><circle cx="224.62" cy="386.8" r="0.9" fill="#3b3d8e"/><circle cx="250.09" cy="386.8" r="2.5" fill="#2e5fa0"/><circle cx="275.56" cy="386.8" r="3.4" fill="#3a7fa0"/><circle cx="71.8" cy="403.6" r="0.9" fill="#3b3d8e"/><circle cx="97.27" cy="403.6" r="3.85" fill="#3a8884"/><circle cx="122.74" cy="403.6" r="0.9" fill="#3b3d8e"/><circle cx="148.21" cy="403.6" r="0.9" fill="#3b3d8e"/><circle cx="173.68" cy="403.6" r="0.9" fill="#3b3d8e"/><circle cx="199.15" cy="403.6" r="0.9" fill="#3b3d8e"/><circle cx="224.62" cy="403.6" r="0.9" fill="#3b3d8e"/><circle cx="250.09" cy="403.6" r="3.2" fill="#3a8a85"/><circle cx="275.56" cy="403.6" r="3.3" fill="#90c040"/><circle cx="71.8" cy="420.4" r="0.9" fill="#3b3d8e"/><circle cx="97.27" cy="420.4" r="0.9" fill="#3b3d8e"/><circle cx="122.74" cy="420.4" r="0.9" fill="#3b3d8e"/><circle cx="148.21" cy="420.4" r="0.9" fill="#3b3d8e"/><circle cx="173.68" cy="420.4" r="0.9" fill="#3b3d8e"/><circle cx="199.15" cy="420.4" r="0.9" fill="#3b3d8e"/><circle cx="224.62" cy="420.4" r="0.9" fill="#3b3d8e"/><circle cx="250.09" cy="420.4" r="0.9" fill="#3b3d8e"/><circle cx="275.56" cy="420.4" r="1.3" fill="#2e3a8a"/><circle cx="71.8" cy="437.2" r="1.3" fill="#3a9a78"/><circle cx="97.27" cy="437.2" r="6.3" fill="#f1c21f"/><circle cx="122.74" cy="437.2" r="1.1" fill="#f0c020"/><circle cx="148.21" cy="437.2" r="1.4" fill="#2e3a8a"/><circle cx="173.68" cy="437.2" r="0.9" fill="#3b3d8e"/><circle cx="199.15" cy="437.2" r="2.3" fill="#f0c020"/><circle cx="224.62" cy="437.2" r="0.9" fill="#3b3d8e"/><circle cx="250.09" cy="437.2" r="4.8" fill="#f0c82a"/><circle cx="275.56" cy="437.2" r="1.5" fill="#2e2a78"/><circle cx="71.8" cy="454" r="1.5" fill="#5cb85a"/><circle cx="97.27" cy="454" r="0.9" fill="#3b3d8e"/><circle cx="122.74" cy="454" r="0.9" fill="#3b3d8e"/><circle cx="148.21" cy="454" r="0.9" fill="#3b3d8e"/><circle cx="173.68" cy="454" r="2.5" fill="#f0c020"/><circle cx="199.15" cy="454" r="0.9" fill="#3b3d8e"/><circle cx="224.62" cy="454" r="2" fill="#f0c020"/><circle cx="250.09" cy="454" r="3.3" fill="#42a062"/><circle cx="275.56" cy="454" r="3" fill="#80c050"/><circle cx="71.8" cy="470.8" r="0.9" fill="#3b3d8e"/><circle cx="97.27" cy="470.8" r="0.9" fill="#3b3d8e"/><circle cx="122.74" cy="470.8" r="0.9" fill="#3b3d8e"/><circle cx="148.21" cy="470.8" r="0.9" fill="#3b3d8e"/><circle cx="173.68" cy="470.8" r="0.9" fill="#3b3d8e"/><circle cx="199.15" cy="470.8" r="0.9" fill="#3b3d8e"/><circle cx="224.62" cy="470.8" r="0.9" fill="#3b3d8e"/><circle cx="250.09" cy="470.8" r="0.9" fill="#3b3d8e"/><circle cx="275.56" cy="470.8" r="1.3" fill="#2e3a8a"/><circle cx="71.8" cy="487.6" r="0.9" fill="#3b3d8e"/><circle cx="97.27" cy="487.6" r="0.9" fill="#3b3d8e"/><circle cx="122.74" cy="487.6" r="0.9" fill="#3b3d8e"/><circle cx="148.21" cy="487.6" r="0.9" fill="#3b3d8e"/><circle cx="173.68" cy="487.6" r="0.9" fill="#3b3d8e"/><circle cx="199.15" cy="487.6" r="0.9" fill="#3b3d8e"/><circle cx="224.62" cy="487.6" r="0.9" fill="#3b3d8e"/><circle cx="250.09" cy="487.6" r="0.9" fill="#3b3d8e"/><circle cx="275.56" cy="487.6" r="1.3" fill="#3a8a9a"/><line x1="71.8" y1="497.5" x2="71.8" y2="500" stroke="#333" stroke-width="0.8"/><text x="76" y="508.8" font-size="8.6" text-anchor="end" fill="#1a1a1a" stroke="#1a1a1a" stroke-width="0.15" transform="rotate(-33 76 508.8)">MMP1</text><line x1="97.27" y1="497.5" x2="97.27" y2="500" stroke="#333" stroke-width="0.8"/><text x="101.47" y="508.8" font-size="8.6" text-anchor="end" fill="#1a1a1a" stroke="#1a1a1a" stroke-width="0.15" transform="rotate(-33 101.47 508.8)">MMP2</text><line x1="122.74" y1="497.5" x2="122.74" y2="500" stroke="#333" stroke-width="0.8"/><text x="126.94" y="508.8" font-size="8.6" text-anchor="end" fill="#1a1a1a" stroke="#1a1a1a" stroke-width="0.15" transform="rotate(-33 126.94 508.8)">MMP3</text><line x1="148.21" y1="497.5" x2="148.21" y2="500" stroke="#333" stroke-width="0.8"/><text x="152.41" y="508.8" font-size="8.6" text-anchor="end" fill="#1a1a1a" stroke="#1a1a1a" stroke-width="0.15" transform="rotate(-33 152.41 508.8)">MMP7</text><line x1="173.68" y1="497.5" x2="173.68" y2="500" stroke="#333" stroke-width="0.8"/><text x="177.88" y="508.8" font-size="8.6" text-anchor="end" fill="#1a1a1a" stroke="#1a1a1a" stroke-width="0.15" transform="rotate(-33 177.88 508.8)">MMP9</text><line x1="199.15" y1="497.5" x2="199.15" y2="500" stroke="#333" stroke-width="0.8"/><text x="203.35" y="508.8" font-size="8.6" text-anchor="end" fill="#1a1a1a" stroke="#1a1a1a" stroke-width="0.15" transform="rotate(-33 203.35 508.8)">MMP11</text><line x1="224.62" y1="497.5" x2="224.62" y2="500" stroke="#333" stroke-width="0.8"/><text x="228.82" y="508.8" font-size="8.6" text-anchor="end" fill="#1a1a1a" stroke="#1a1a1a" stroke-width="0.15" transform="rotate(-33 228.82 508.8)">MMP12</text><line x1="250.09" y1="497.5" x2="250.09" y2="500" stroke="#333" stroke-width="0.8"/><text x="254.29" y="508.8" font-size="8.6" text-anchor="end" fill="#1a1a1a" stroke="#1a1a1a" stroke-width="0.15" transform="rotate(-33 254.29 508.8)">MMP14</text><line x1="275.56" y1="497.5" x2="275.56" y2="500" stroke="#333" stroke-width="0.8"/><text x="279.76" y="508.8" font-size="8.6" text-anchor="end" fill="#1a1a1a" stroke="#1a1a1a" stroke-width="0.15" transform="rotate(-33 279.76 508.8)">ADAM10</text><rect x="64.3" y="380.4" width="14" height="13.2" fill="none" stroke="#d8403a" stroke-width="1.1"/><rect x="141.3" y="380.4" width="13.4" height="13.2" fill="none" stroke="#d8403a" stroke-width="1.1"/><rect x="166.6" y="446" width="13.4" height="13.6" fill="none" stroke="#3a9050" stroke-width="1.1"/><rect x="216.6" y="445.4" width="14.1" height="13.2" fill="none" stroke="#3a9050" stroke-width="1.1"/><rect x="269.4" y="396.3" width="13.4" height="13.1" fill="none" stroke="#3a60c0" stroke-width="1.1"/><text x="302.2" y="313.79" font-size="8.3" text-anchor="start" fill="#1a1a1a" stroke="#1a1a1a" stroke-width="0.22">pct.exp</text><circle cx="310.3" cy="328.3" r="0.6" fill="#111"/><text x="323" y="331.29" font-size="8.3" text-anchor="start" fill="#1a1a1a" stroke="#1a1a1a" stroke-width="0.22">0</text><circle cx="310.3" cy="344.7" r="2" fill="#111"/><text x="323" y="347.69" font-size="8.3" text-anchor="start" fill="#1a1a1a" stroke="#1a1a1a" stroke-width="0.22">20</text><circle cx="310.3" cy="360.9" r="3.6" fill="#111"/><text x="323" y="363.89" font-size="8.3" text-anchor="start" fill="#1a1a1a" stroke="#1a1a1a" stroke-width="0.22">40</text><circle cx="310.3" cy="376.8" r="4.4" fill="#111"/><text x="323" y="379.79" font-size="8.3" text-anchor="start" fill="#1a1a1a" stroke="#1a1a1a" stroke-width="0.22">60</text><text x="302" y="406.79" font-size="8.3" text-anchor="start" fill="#1a1a1a" stroke="#1a1a1a" stroke-width="0.22">Average</text><text x="302" y="417.59" font-size="8.3" text-anchor="start" fill="#1a1a1a" stroke="#1a1a1a" stroke-width="0.22">Expression</text><rect x="301.7" y="421" width="16.4" height="73.5" fill="url(#gE)"/><text x="323" y="434.99" font-size="8.3" text-anchor="start" fill="#1a1a1a" stroke="#1a1a1a" stroke-width="0.22">2</text><line x1="301.7" y1="432" x2="304" y2="432" stroke="#fff" stroke-width="0.7"/><line x1="315.8" y1="432" x2="318.1" y2="432" stroke="#fff" stroke-width="0.7"/><text x="323" y="457.69" font-size="8.3" text-anchor="start" fill="#1a1a1a" stroke="#1a1a1a" stroke-width="0.22">1</text><line x1="301.7" y1="454.7" x2="304" y2="454.7" stroke="#fff" stroke-width="0.7"/><line x1="315.8" y1="454.7" x2="318.1" y2="454.7" stroke="#fff" stroke-width="0.7"/><text x="323" y="479.99" font-size="8.3" text-anchor="start" fill="#1a1a1a" stroke="#1a1a1a" stroke-width="0.22">0</text><line x1="301.7" y1="477" x2="304" y2="477" stroke="#fff" stroke-width="0.7"/><line x1="315.8" y1="477" x2="318.1" y2="477" stroke="#fff" stroke-width="0.7"/><text x="323" y="502.29" font-size="8.3" text-anchor="start" fill="#1a1a1a" stroke="#1a1a1a" stroke-width="0.22">−1</text><line x1="301.7" y1="499.3" x2="304" y2="499.3" stroke="#fff" stroke-width="0.7"/><line x1="315.8" y1="499.3" x2="318.1" y2="499.3" stroke="#fff" stroke-width="0.7"/><text transform="translate(341.7 310.2) scale(0.93 1)" font-size="23.7" fill="#2a1812" stroke="#2a1812" stroke-width="0.15">F</text><line x1="360.9" y1="310.8" x2="360.9" y2="392.3" stroke="#222" stroke-width="1.1"/><line x1="360.9" y1="392.3" x2="448.9" y2="392.3" stroke="#222" stroke-width="1.1"/><line x1="364.9" y1="389" x2="440" y2="314" stroke="#1f4ea4" stroke-width="2.3"/><text x="354.2" y="354.21" font-size="7.4" text-anchor="middle" fill="#1a1a1a" transform="rotate(-90 354.2 351.55)" stroke="#1a1a1a" stroke-width="0.3">MMP1 in Malignant cells</text><text x="448" y="389.02" font-size="8.4" text-anchor="end" fill="#1a1a1a" stroke="#1a1a1a" stroke-width="0.3">p&lt;0.001,cor=0.728</text><line x1="360.2" y1="417.7" x2="360.2" y2="499.4" stroke="#222" stroke-width="1.1"/><line x1="360.2" y1="499.4" x2="448.9" y2="499.4" stroke="#222" stroke-width="1.1"/><line x1="364.9" y1="496" x2="440" y2="421.5" stroke="#1f4ea4" stroke-width="2.3"/><text x="352.5" y="461.21" font-size="7.4" text-anchor="middle" fill="#1a1a1a" transform="rotate(-90 352.5 458.55)" stroke="#1a1a1a" stroke-width="0.3">MMP7 in Malignant cells</text><text x="448" y="496.02" font-size="8.4" text-anchor="end" fill="#1a1a1a" stroke="#1a1a1a" stroke-width="0.3">p&lt;0.001,cor=0.854</text><text x="400.2" y="509.18" font-size="8" text-anchor="middle" fill="#1a1a1a" stroke="#1a1a1a" stroke-width="0.22">The expression of</text><text x="400.2" y="518.28" font-size="8" text-anchor="middle" fill="#1a1a1a" stroke="#1a1a1a" stroke-width="0.22">THBS2(CAFs)</text><line x1="459.1" y1="308" x2="459.1" y2="390.9" stroke="#222" stroke-width="1.3"/><line x1="459.1" y1="390.9" x2="545" y2="390.9" stroke="#222" stroke-width="1.3"/><text x="456" y="322.68" font-size="5.5" text-anchor="end" fill="#333" stroke="#333" stroke-width="0.22">3</text><line x1="457.5" y1="320.7" x2="459.1" y2="320.7" stroke="#222" stroke-width="0.6"/><text x="456" y="344.78" font-size="5.5" text-anchor="end" fill="#333" stroke="#333" stroke-width="0.22">2</text><line x1="457.5" y1="342.8" x2="459.1" y2="342.8" stroke="#222" stroke-width="0.6"/><text x="456" y="367.28" font-size="5.5" text-anchor="end" fill="#333" stroke="#333" stroke-width="0.22">1</text><line x1="457.5" y1="365.3" x2="459.1" y2="365.3" stroke="#222" stroke-width="0.6"/><text x="456" y="389.18" font-size="5.5" text-anchor="end" fill="#333" stroke="#333" stroke-width="0.22">0</text><line x1="457.5" y1="387.2" x2="459.1" y2="387.2" stroke="#222" stroke-width="0.6"/><line x1="482.4" y1="390.9" x2="482.4" y2="392.6" stroke="#222" stroke-width="0.6"/><line x1="522.4" y1="390.9" x2="522.4" y2="392.6" stroke="#222" stroke-width="0.6"/><text x="503.5" y="308.59" font-size="8.3" text-anchor="middle" fill="#1a1a1a" stroke="#1a1a1a" stroke-width="0.22">MMP1</text><text x="448.6" y="352.07" font-size="5.9" text-anchor="middle" fill="#222" transform="rotate(-90 448.6 349.95)" stroke="#222" stroke-width="0.12">Expression Level</text><path d="M482.3 311.7C482.15 312.08 481.75 312.95 481.4 314C481.05 315.05 480.52 316.67 480.2 318C479.88 319.33 479.63 320 479.5 322C479.37 324 479.33 327 479.4 330C479.47 333 479.83 336.67 479.9 340C479.97 343.33 479.87 347 479.8 350C479.73 353 479.48 355.33 479.5 358C479.52 360.67 479.77 363.67 479.9 366C480.03 368.33 480.28 370.33 480.3 372C480.32 373.67 480.25 374.92 480 376C479.75 377.08 479.65 377.67 478.8 378.5C477.95 379.33 476.55 380.08 474.9 381C473.25 381.92 470.57 383.13 468.9 384C467.23 384.87 465.7 385.6 464.9 386.2C464.1 386.8 464.23 387.37 464.1 387.6L500.7 387.6C500.57 387.37 500.7 386.8 499.9 386.2C499.1 385.6 497.57 384.87 495.9 384C494.23 383.13 491.55 381.92 489.9 381C488.25 380.08 486.85 379.33 486 378.5C485.15 377.67 485.05 377.08 484.8 376C484.55 374.92 484.48 373.67 484.5 372C484.52 370.33 484.77 368.33 484.9 366C485.03 363.67 485.28 360.67 485.3 358C485.32 355.33 485.07 353 485 350C484.93 347 484.83 343.33 484.9 340C484.97 336.67 485.33 333 485.4 330C485.47 327 485.43 324 485.3 322C485.17 320 484.92 319.33 484.6 318C484.28 316.67 483.75 315.05 483.4 314C483.05 312.95 482.65 312.08 482.5 311.7Z" fill="#e06058" stroke="#333" stroke-width="0.8" stroke-linejoin="round"/><line x1="522.4" y1="320.4" x2="522.4" y2="387.6" stroke="#333" stroke-width="0.8"/><line x1="504.3" y1="387.1" x2="540.7" y2="387.1" stroke="#555" stroke-width="1.7"/><rect x="459.8" y="397" width="5.8" height="5.8" fill="#e06058" stroke="#333" stroke-width="0.6"/><text x="466.9" y="401.74" font-size="5.1" text-anchor="start" fill="#222" stroke="#222" stroke-width="0.2">Malignant−HIGH</text><rect x="505.5" y="397" width="6.2" height="5.8" fill="#1aa6b0" stroke="#333" stroke-width="0.6"/><text x="512.8" y="401.74" font-size="5.1" text-anchor="start" fill="#222" stroke="#222" stroke-width="0.2">Malignant−LOW</text><line x1="459.1" y1="417.4" x2="459.1" y2="500" stroke="#222" stroke-width="1.3"/><line x1="459.1" y1="500" x2="545" y2="500" stroke="#222" stroke-width="1.3"/><text x="456" y="435.98" font-size="5.5" text-anchor="end" fill="#333" stroke="#333" stroke-width="0.22">3</text><line x1="457.5" y1="434" x2="459.1" y2="434" stroke="#222" stroke-width="0.6"/><text x="456" y="456.78" font-size="5.5" text-anchor="end" fill="#333" stroke="#333" stroke-width="0.22">2</text><line x1="457.5" y1="454.8" x2="459.1" y2="454.8" stroke="#222" stroke-width="0.6"/><text x="456" y="477.68" font-size="5.5" text-anchor="end" fill="#333" stroke="#333" stroke-width="0.22">1</text><line x1="457.5" y1="475.7" x2="459.1" y2="475.7" stroke="#222" stroke-width="0.6"/><text x="456" y="498.88" font-size="5.5" text-anchor="end" fill="#333" stroke="#333" stroke-width="0.22">0</text><line x1="457.5" y1="496.9" x2="459.1" y2="496.9" stroke="#222" stroke-width="0.6"/><line x1="482.4" y1="500" x2="482.4" y2="501.7" stroke="#222" stroke-width="0.6"/><line x1="522.4" y1="500" x2="522.4" y2="501.7" stroke="#222" stroke-width="0.6"/><text x="503.5" y="417.89" font-size="8.3" text-anchor="middle" fill="#1a1a1a" stroke="#1a1a1a" stroke-width="0.22">MMP7</text><text x="448.6" y="461.32" font-size="5.9" text-anchor="middle" fill="#222" transform="rotate(-90 448.6 459.2)" stroke="#222" stroke-width="0.12">Expression Level</text><path d="M482.3 421.3C482.12 421.75 481.68 422.88 481.2 424C480.72 425.12 480.17 426.5 479.4 428C478.63 429.5 477.85 431.33 476.6 433C475.35 434.67 473.3 436.5 471.9 438C470.5 439.5 469.05 440.83 468.2 442C467.35 443.17 466.9 444 466.8 445C466.7 446 466.92 447 467.6 448C468.28 449 469.68 449.83 470.9 451C472.12 452.17 473.73 453.67 474.9 455C476.07 456.33 477.08 457.5 477.9 459C478.72 460.5 479.38 462.17 479.8 464C480.22 465.83 480.28 468 480.4 470C480.52 472 480.53 474.17 480.5 476C480.47 477.83 480.42 479.5 480.2 481C479.98 482.5 479.75 483.83 479.2 485C478.65 486.17 477.95 487 476.9 488C475.85 489 474.4 490 472.9 491C471.4 492 469.28 493.13 467.9 494C466.52 494.87 465.18 495.72 464.6 496.2C464.02 496.68 464.43 496.78 464.4 496.9L500.4 496.9C500.37 496.78 500.78 496.68 500.2 496.2C499.62 495.72 498.28 494.87 496.9 494C495.52 493.13 493.4 492 491.9 491C490.4 490 488.95 489 487.9 488C486.85 487 486.15 486.17 485.6 485C485.05 483.83 484.82 482.5 484.6 481C484.38 479.5 484.33 477.83 484.3 476C484.27 474.17 484.28 472 484.4 470C484.52 468 484.58 465.83 485 464C485.42 462.17 486.08 460.5 486.9 459C487.72 457.5 488.73 456.33 489.9 455C491.07 453.67 492.68 452.17 493.9 451C495.12 449.83 496.52 449 497.2 448C497.88 447 498.1 446 498 445C497.9 444 497.45 443.17 496.6 442C495.75 440.83 494.3 439.5 492.9 438C491.5 436.5 489.45 434.67 488.2 433C486.95 431.33 486.17 429.5 485.4 428C484.63 426.5 484.08 425.12 483.6 424C483.12 422.88 482.68 421.75 482.5 421.3Z" fill="#e06058" stroke="#333" stroke-width="0.8" stroke-linejoin="round"/><line x1="522.4" y1="433.3" x2="522.4" y2="496.9" stroke="#333" stroke-width="0.8"/><line x1="504.3" y1="496.4" x2="540.7" y2="496.4" stroke="#555" stroke-width="1.7"/><rect x="456.2" y="505" width="5.8" height="5.8" fill="#e06058" stroke="#333" stroke-width="0.6"/><text x="464.7" y="509.74" font-size="5.1" text-anchor="start" fill="#222" stroke="#222" stroke-width="0.2">Malignant−HIGH</text><rect x="504.8" y="505" width="6.2" height="5.8" fill="#1aa6b0" stroke="#333" stroke-width="0.6"/><text x="514" y="509.74" font-size="5.1" text-anchor="start" fill="#222" stroke="#222" stroke-width="0.2">Malignant−LOW</text><text transform="translate(20.9 547.8) scale(0.93 1)" font-size="23.7" fill="#2a1812" stroke="#2a1812" stroke-width="0.15">I</text><line x1="72.8" y1="564.3" x2="72.8" y2="687" stroke="#333" stroke-width="1"/><line x1="72.8" y1="687" x2="191.5" y2="687" stroke="#333" stroke-width="1"/><line x1="69.3" y1="687" x2="72.8" y2="687" stroke="#222" stroke-width="1"/><text x="67.8" y="690.24" font-size="9" text-anchor="end" fill="#222" stroke="#222" stroke-width="0.22">0.0</text><line x1="69.3" y1="662.7" x2="72.8" y2="662.7" stroke="#222" stroke-width="1"/><text x="67.8" y="665.94" font-size="9" text-anchor="end" fill="#222" stroke="#222" stroke-width="0.22">0.5</text><line x1="69.3" y1="638.4" x2="72.8" y2="638.4" stroke="#222" stroke-width="1"/><text x="67.8" y="641.64" font-size="9" text-anchor="end" fill="#222" stroke="#222" stroke-width="0.22">1.0</text><line x1="69.3" y1="614.1" x2="72.8" y2="614.1" stroke="#222" stroke-width="1"/><text x="67.8" y="617.34" font-size="9" text-anchor="end" fill="#222" stroke="#222" stroke-width="0.22">1.5</text><line x1="69.3" y1="589.8" x2="72.8" y2="589.8" stroke="#222" stroke-width="1"/><text x="67.8" y="593.04" font-size="9" text-anchor="end" fill="#222" stroke="#222" stroke-width="0.22">2.0</text><line x1="69.3" y1="565.5" x2="72.8" y2="565.5" stroke="#222" stroke-width="1"/><text x="67.8" y="568.74" font-size="9" text-anchor="end" fill="#222" stroke="#222" stroke-width="0.22">2.5</text><text x="133.4" y="560.45" font-size="11.8" text-anchor="middle" fill="#1a1a1a" stroke="#1a1a1a" stroke-width="0.22">HCT116</text><rect x="81.3" y="638.4" width="15.5" height="48.6" fill="#fff" stroke="#111" stroke-width="1"/><rect x="106" y="589.8" width="15.1" height="97.2" fill="#111" stroke="#111" stroke-width="1"/><line x1="113.55" y1="589.8" x2="113.55" y2="582.3" stroke="#111" stroke-width="1"/><line x1="108.95" y1="582.3" x2="118.15" y2="582.3" stroke="#111" stroke-width="1"/><rect x="146.1" y="638.4" width="15.5" height="48.6" fill="#fff" stroke="#111" stroke-width="1"/><rect x="170.9" y="606.08" width="15" height="80.92" fill="#111" stroke="#111" stroke-width="1"/><line x1="178.4" y1="606.08" x2="178.4" y2="597.8" stroke="#111" stroke-width="1"/><line x1="173.8" y1="597.8" x2="183" y2="597.8" stroke="#111" stroke-width="1"/><path d="M88.7 579.3 V575.2 H112.5 V579.3" fill="none" stroke="#333" stroke-width="0.9"/><text x="101" y="575.08" font-size="10.5" text-anchor="middle" fill="#1a1a1a" font-weight="bold" stroke="#1a1a1a" stroke-width="0.1">**</text><path d="M154.2 595.5 V591.4 H178.5 V595.5" fill="none" stroke="#333" stroke-width="0.9"/><text x="167" y="591.38" font-size="10.5" text-anchor="middle" fill="#1a1a1a" font-weight="bold" stroke="#1a1a1a" stroke-width="0.1">**</text><line x1="101" y1="687" x2="101" y2="690.5" stroke="#222" stroke-width="1"/><text x="101" y="703.84" font-size="11.5" text-anchor="middle" fill="#1a1a1a" stroke="#1a1a1a" stroke-width="0.22">MMP1</text><line x1="165" y1="687" x2="165" y2="690.5" stroke="#222" stroke-width="1"/><text x="165" y="703.84" font-size="11.5" text-anchor="middle" fill="#1a1a1a" stroke="#1a1a1a" stroke-width="0.22">MMP7</text><rect x="214.8" y="570.8" width="10.8" height="5.6" fill="#fff" stroke="#333" stroke-width="1"/><text x="234.6" y="577.86" font-size="11" text-anchor="start" fill="#1a1a1a" stroke="#1a1a1a" stroke-width="0.2">PBS</text><rect x="214.8" y="587.2" width="10.8" height="5.2" fill="#111" stroke="#111" stroke-width="1"/><text x="234.3" y="594.14" font-size="10.4" text-anchor="start" fill="#1a1a1a" stroke="#1a1a1a" stroke-width="0.2">TSP2</text><text x="44.3" y="621.82" font-size="12" text-anchor="middle" fill="#1a1a1a" transform="rotate(-90 44.3 617.5)" stroke="#1a1a1a" stroke-width="0.22">Relative RNA expression</text><line x1="65.8" y1="740.4" x2="65.8" y2="864.7" stroke="#333" stroke-width="1"/><line x1="65.8" y1="864.7" x2="192" y2="864.7" stroke="#333" stroke-width="1"/><line x1="62.3" y1="864.7" x2="65.8" y2="864.7" stroke="#222" stroke-width="1"/><text x="60.8" y="867.94" font-size="9" text-anchor="end" fill="#222" stroke="#222" stroke-width="0.22">0</text><line x1="62.3" y1="840.08" x2="65.8" y2="840.08" stroke="#222" stroke-width="1"/><text x="60.8" y="843.32" font-size="9" text-anchor="end" fill="#222" stroke="#222" stroke-width="0.22">1</text><line x1="62.3" y1="815.46" x2="65.8" y2="815.46" stroke="#222" stroke-width="1"/><text x="60.8" y="818.7" font-size="9" text-anchor="end" fill="#222" stroke="#222" stroke-width="0.22">2</text><line x1="62.3" y1="790.84" x2="65.8" y2="790.84" stroke="#222" stroke-width="1"/><text x="60.8" y="794.08" font-size="9" text-anchor="end" fill="#222" stroke="#222" stroke-width="0.22">3</text><line x1="62.3" y1="766.22" x2="65.8" y2="766.22" stroke="#222" stroke-width="1"/><text x="60.8" y="769.46" font-size="9" text-anchor="end" fill="#222" stroke="#222" stroke-width="0.22">4</text><line x1="62.3" y1="741.6" x2="65.8" y2="741.6" stroke="#222" stroke-width="1"/><text x="60.8" y="744.84" font-size="9" text-anchor="end" fill="#222" stroke="#222" stroke-width="0.22">5</text><text x="127.6" y="743.05" font-size="11.8" text-anchor="middle" fill="#1a1a1a" stroke="#1a1a1a" stroke-width="0.22">RKO</text><rect x="75" y="840.08" width="15.6" height="24.62" fill="#fff" stroke="#111" stroke-width="1"/><rect x="99.8" y="795.76" width="15.5" height="68.94" fill="#111" stroke="#111" stroke-width="1"/><line x1="107.55" y1="795.76" x2="107.55" y2="791.3" stroke="#111" stroke-width="1"/><line x1="102.95" y1="791.3" x2="112.15" y2="791.3" stroke="#111" stroke-width="1"/><rect x="140.8" y="840.08" width="15.7" height="24.62" fill="#fff" stroke="#111" stroke-width="1"/><rect x="165.8" y="774.1" width="15.5" height="90.6" fill="#111" stroke="#111" stroke-width="1"/><line x1="173.55" y1="774.1" x2="173.55" y2="769.3" stroke="#111" stroke-width="1"/><line x1="168.95" y1="769.3" x2="178.15" y2="769.3" stroke="#111" stroke-width="1"/><path d="M83.6 789 V783.7 H107.9 V789" fill="none" stroke="#333" stroke-width="0.9"/><text x="95.2" y="783.18" font-size="10.5" text-anchor="middle" fill="#1a1a1a" font-weight="bold" stroke="#1a1a1a" stroke-width="0.1">**</text><path d="M150 767 V761.7 H171.5 V767" fill="none" stroke="#333" stroke-width="0.9"/><text x="160" y="761.18" font-size="10.5" text-anchor="middle" fill="#1a1a1a" font-weight="bold" stroke="#1a1a1a" stroke-width="0.1">**</text><line x1="91.7" y1="864.7" x2="91.7" y2="868.2" stroke="#222" stroke-width="1"/><text x="91.7" y="881.14" font-size="11.5" text-anchor="middle" fill="#1a1a1a" stroke="#1a1a1a" stroke-width="0.22">MMP1</text><line x1="160" y1="864.7" x2="160" y2="868.2" stroke="#222" stroke-width="1"/><text x="160" y="881.14" font-size="11.5" text-anchor="middle" fill="#1a1a1a" stroke="#1a1a1a" stroke-width="0.22">MMP7</text><rect x="211" y="745" width="11.8" height="6.6" fill="#fff" stroke="#333" stroke-width="1"/><text x="230.8" y="752.06" font-size="11" text-anchor="start" fill="#1a1a1a" stroke="#1a1a1a" stroke-width="0.2">PBS</text><rect x="211" y="763.6" width="11.8" height="6.6" fill="#111" stroke="#111" stroke-width="1"/><text x="230.5" y="770.54" font-size="10.4" text-anchor="start" fill="#1a1a1a" stroke="#1a1a1a" stroke-width="0.2">TSP2</text><text x="44.3" y="806.02" font-size="12" text-anchor="middle" fill="#1a1a1a" transform="rotate(-90 44.3 801.7)" stroke="#1a1a1a" stroke-width="0.22">Relative RNA expression</text><text transform="translate(345.7 565.7) scale(0.93 1)" font-size="23.7" fill="#2a1812" stroke="#2a1812" stroke-width="0.15">J</text><text x="438.4" y="565.36" font-size="13.5" text-anchor="middle" fill="#222" stroke="#222" stroke-width="0.22">HCT116</text><text x="550.7" y="566.06" font-size="13.5" text-anchor="middle" fill="#222" stroke="#222" stroke-width="0.22">RKO</text><text x="407.1" y="591.39" font-size="13.3" text-anchor="middle" fill="#2a221e" stroke="#2a221e" stroke-width="0.22">PBS</text><text x="458" y="591.39" font-size="13.3" text-anchor="middle" fill="#2a221e" stroke="#2a221e" stroke-width="0.22">TSP2</text><text x="532" y="590.69" font-size="13.3" text-anchor="middle" fill="#2a221e" stroke="#2a221e" stroke-width="0.22">PBS</text><text x="581.6" y="590.69" font-size="13.3" text-anchor="middle" fill="#2a221e" stroke="#2a221e" stroke-width="0.22">TSP2</text><text x="357.8" y="618.9" font-size="12.5" text-anchor="end" fill="#1a1a1a" stroke="#1a1a1a" stroke-width="0.22">MMP1</text><text x="360" y="671" font-size="12.7" text-anchor="end" fill="#1a1a1a" stroke="#1a1a1a" stroke-width="0.22">GAPDH</text><text x="618" y="621" font-size="13" text-anchor="start" fill="#1a1a1a" stroke="#1a1a1a" stroke-width="0.22">70KD</text><text x="618" y="675.5" font-size="13" text-anchor="start" fill="#1a1a1a" stroke="#1a1a1a" stroke-width="0.22">25KD</text><defs><filter id="bl" x="-20%" y="-50%" width="140%" height="200%"><feGaussianBlur stdDeviation="1.6"/></filter><filter id="bl2" x="-20%" y="-50%" width="140%" height="200%"><feGaussianBlur stdDeviation="1.0"/></filter><linearGradient id="gR" x1="0" y1="0" x2="1" y2="0"><stop offset="0" stop-color="#b4b4b4"/><stop offset="0.6" stop-color="#a8a8a8"/><stop offset="1" stop-color="#868686"/></linearGradient><linearGradient id="gH" x1="0" y1="0" x2="0" y2="1"><stop offset="0" stop-color="#cfcfcf"/><stop offset="1" stop-color="#dedede"/></linearGradient></defs><rect x="374.1" y="598.3" width="115.4" height="32.1" fill="url(#gH)" stroke="#000" stroke-width="2"/><path d="M388 613.5 Q405 611 422 612.5 L422 615.5 Q405 617 388 615.5 Z" fill="#8c8c8c" filter="url(#bl)"/><path d="M440 612 Q460 610 478 610 L478.5 617.5 Q460 619 440 617 Z" fill="#111" filter="url(#bl2)"/><rect x="374.1" y="644.7" width="115.4" height="43" fill="#f4f4f4" stroke="#000" stroke-width="2"/><path d="M389 660 Q409 656 430 660 L431 671 Q409 675 389 671 Z" fill="#000" filter="url(#bl2)"/><path d="M434 660 Q458 656 481 660 L481 671 Q458 675 434 671 Z" fill="#000" filter="url(#bl2)"/><rect x="499.1" y="598.5" width="114.4" height="32.1" fill="url(#gR)" stroke="#000" stroke-width="2"/><path d="M510 616.5 Q530 614.5 549 616 L549 620 Q530 621.5 510 619.5 Z" fill="#7a7a7a" filter="url(#bl)"/><path d="M562 615 Q581 613 601 614 L601 621.5 Q581 623 562 621.5 Z" fill="#141414" filter="url(#bl2)"/><rect x="499.1" y="645" width="114.4" height="42.6" fill="#f2f2f2" stroke="#000" stroke-width="2"/><path d="M514 661 Q535 658 556 661 L556 674 Q535 677 514 674 Z" fill="#000" filter="url(#bl2)"/><path d="M560 661 Q581 658 602 661 L602 674 Q581 677 560 674 Z" fill="#000" filter="url(#bl2)"/><text transform="translate(344.6 716) scale(0.93 1)" font-size="23.7" fill="#2a1812" stroke="#2a1812" stroke-width="0.15">K</text><defs><filter id="kb" x="-50%" y="-50%" width="200%" height="200%"><feGaussianBlur stdDeviation="6"/></filter><filter id="kb2" x="-50%" y="-50%" width="200%" height="200%"><feGaussianBlur stdDeviation="1.2"/></filter><filter id="kb3" x="-50%" y="-50%" width="200%" height="200%"><feGaussianBlur stdDeviation="0.5"/></filter><linearGradient id="gL" x1="0" y1="0" x2="1" y2="0"><stop offset="0" stop-color="#a8362e"/><stop offset="0.2" stop-color="#c05640"/><stop offset="0.42" stop-color="#d6925e"/><stop offset="0.62" stop-color="#d69c82"/><stop offset="1" stop-color="#cc8c72"/></linearGradient><linearGradient id="gL2" x1="0" y1="0" x2="0" y2="1"><stop offset="0" stop-color="#000" stop-opacity="0"/><stop offset="0.75" stop-color="#000" stop-opacity="0"/><stop offset="1" stop-color="#6a1010" stop-opacity="0.5"/></linearGradient></defs><svg x="350" y="724.8" width="322" height="153.8" overflow="hidden"><rect x="0" y="0" width="322" height="153.8" fill="#eee9c6"/><ellipse cx="40" cy="50" rx="34" ry="32" fill="#f8f6ea" opacity="0.85" filter="url(#kb)"/><ellipse cx="110" cy="70" rx="40" ry="30" fill="#f8f6ea" opacity="0.85" filter="url(#kb)"/><ellipse cx="160" cy="90" rx="40" ry="45" fill="#f8f6ea" opacity="0.85" filter="url(#kb)"/><ellipse cx="255" cy="75" rx="55" ry="65" fill="#f8f6ea" opacity="0.85" filter="url(#kb)"/><ellipse cx="250" cy="115" rx="60" ry="40" fill="#f8f6ea" opacity="0.85" filter="url(#kb)"/><ellipse cx="310" cy="118" rx="14" ry="14" fill="#f8f6ea" opacity="0.85" filter="url(#kb)"/><ellipse cx="80" cy="130" rx="60" ry="18" fill="#f8f6ea" opacity="0.85" filter="url(#kb)"/><ellipse cx="190" cy="40" rx="40" ry="25" fill="#f8f6ea" opacity="0.85" filter="url(#kb)"/></svg><text x="413.2" y="732.63" font-size="7.3" text-anchor="middle" fill="#e02020" stroke="#e02020" stroke-width="0.2">TIB Formation</text><text x="607.7" y="735" font-size="7.5" text-anchor="middle" fill="#3a78c0" stroke="#3a78c0" stroke-width="0.25">ECM degraduation</text><circle cx="377.6" cy="764.4" r="10.9" fill="#90c6a8" filter="url(#kb3)"/><circle cx="377.6" cy="764.4" r="4.3" fill="#5aa882" filter="url(#kb2)"/><circle cx="403.4" cy="782.6" r="10.9" fill="#90c6a8" filter="url(#kb3)"/><circle cx="403.4" cy="782.6" r="4.3" fill="#5aa882" filter="url(#kb2)"/><circle cx="376.7" cy="792.5" r="11.5" fill="#90c6a8" filter="url(#kb3)"/><circle cx="376.7" cy="792.5" r="4.3" fill="#5aa882" filter="url(#kb2)"/><text x="393.6" y="766.56" font-size="6" text-anchor="start" fill="#1a1a1a" stroke="#1a1a1a" stroke-width="0.25">CD8 Effect T cells</text><text x="403.4" y="805.56" font-size="6" text-anchor="start" fill="#1a1a1a" stroke="#1a1a1a" stroke-width="0.25">SPP1+ Macrophages</text><line x1="412.1" y1="828.8" x2="426.57" y2="827.28" stroke="#eaa0a8" stroke-width="3.99" stroke-linecap="round"/><line x1="412.1" y1="828.8" x2="423.85" y2="837.66" stroke="#eaa0a8" stroke-width="3.99" stroke-linecap="round"/><line x1="412.1" y1="828.8" x2="413.75" y2="841.99" stroke="#eaa0a8" stroke-width="3.99" stroke-linecap="round"/><line x1="412.1" y1="828.8" x2="407.15" y2="843.3" stroke="#eaa0a8" stroke-width="3.99" stroke-linecap="round"/><line x1="412.1" y1="828.8" x2="399.7" y2="834.72" stroke="#eaa0a8" stroke-width="3.99" stroke-linecap="round"/><line x1="412.1" y1="828.8" x2="399.84" y2="821.33" stroke="#eaa0a8" stroke-width="3.99" stroke-linecap="round"/><line x1="412.1" y1="828.8" x2="406.65" y2="815.5" stroke="#eaa0a8" stroke-width="3.99" stroke-linecap="round"/><line x1="412.1" y1="828.8" x2="415.18" y2="815.64" stroke="#eaa0a8" stroke-width="3.99" stroke-linecap="round"/><line x1="412.1" y1="828.8" x2="424.42" y2="819.55" stroke="#eaa0a8" stroke-width="3.99" stroke-linecap="round"/><circle cx="412.1" cy="828.8" r="10.5" fill="#eaa0a8"/><ellipse cx="413" cy="830" rx="3.4" ry="2.6" fill="#d9707f" transform="rotate(30 413 830)"/><line x1="451.1" y1="818.8" x2="459.73" y2="817.89" stroke="#eca6ae" stroke-width="2.58" stroke-linecap="round"/><line x1="451.1" y1="818.8" x2="458.04" y2="824.15" stroke="#eca6ae" stroke-width="2.58" stroke-linecap="round"/><line x1="451.1" y1="818.8" x2="454.23" y2="827.43" stroke="#eca6ae" stroke-width="2.58" stroke-linecap="round"/><line x1="451.1" y1="818.8" x2="444.82" y2="826.4" stroke="#eca6ae" stroke-width="2.58" stroke-linecap="round"/><line x1="451.1" y1="818.8" x2="442.48" y2="820.94" stroke="#eca6ae" stroke-width="2.58" stroke-linecap="round"/><line x1="451.1" y1="818.8" x2="442.72" y2="815.61" stroke="#eca6ae" stroke-width="2.58" stroke-linecap="round"/><line x1="451.1" y1="818.8" x2="445.82" y2="811.91" stroke="#eca6ae" stroke-width="2.58" stroke-linecap="round"/><line x1="451.1" y1="818.8" x2="451.71" y2="808.74" stroke="#eca6ae" stroke-width="2.58" stroke-linecap="round"/><line x1="451.1" y1="818.8" x2="459.43" y2="813.5" stroke="#eca6ae" stroke-width="2.58" stroke-linecap="round"/><circle cx="451.1" cy="818.8" r="6.8" fill="#eca6ae"/><circle cx="451.5" cy="819.5" r="2" fill="#d9707f"/><path d="M397.6 818.8 L391.2 808" fill="none" stroke="#e07080" stroke-width="0.7"/><path d="M388.8 809.3 L393.6 806.7" fill="none" stroke="#e07080" stroke-width="0.8"/><path d="M404.8 838 L405.5 845" fill="none" stroke="#e07080" stroke-width="0.6"/><path d="M456 828 L455.6 840.6" fill="none" stroke="#e07080" stroke-width="0.6"/><path d="M364 855 Q378 850 392 855 Q378 860 364 855 Z" fill="#f3c4de" stroke="#e08cbc" stroke-width="0.7" transform="rotate(-8 378 855)"/><circle cx="378" cy="855" r="1.1" fill="#e0609c"/><path d="M386 851 Q400 845 414 851 Q400 857 386 851 Z" fill="#f3c4de" stroke="#e08cbc" stroke-width="0.7" transform="rotate(-15 400 851)"/><circle cx="400" cy="851" r="1.1" fill="#e0609c"/><path d="M409 856 Q424 850 439 856 Q424 862 409 856 Z" fill="#f3c4de" stroke="#e08cbc" stroke-width="0.7" transform="rotate(10 424 856)"/><circle cx="424" cy="856" r="1.1" fill="#e0609c"/><path d="M433 849 Q448 843 463 849 Q448 855 433 849 Z" fill="#f3c4de" stroke="#e08cbc" stroke-width="0.7" transform="rotate(-12 448 849)"/><circle cx="448" cy="849" r="1.1" fill="#e0609c"/><path d="M459 852 Q474 846 489 852 Q474 858 459 852 Z" fill="#f3c4de" stroke="#e08cbc" stroke-width="0.7" transform="rotate(-8 474 852)"/><circle cx="474" cy="852" r="1.1" fill="#e0609c"/><path d="M397 861 Q410 856 423 861 Q410 866 397 861 Z" fill="#f3c4de" stroke="#e08cbc" stroke-width="0.7" transform="rotate(5 410 861)"/><circle cx="410" cy="861" r="1.1" fill="#e0609c"/><path d="M444 860 Q458 855 472 860 Q458 865 444 860 Z" fill="#f3c4de" stroke="#e08cbc" stroke-width="0.7" transform="rotate(12 458 860)"/><circle cx="458" cy="860" r="1.1" fill="#e0609c"/><path d="M475 858 Q486 853 497 858 Q486 863 475 858 Z" fill="#f3c4de" stroke="#e08cbc" stroke-width="0.7" transform="rotate(-15 486 858)"/><circle cx="486" cy="858" r="1.1" fill="#e0609c"/><path d="M423 846 Q436 841 449 846 Q436 851 423 846 Z" fill="#f3c4de" stroke="#e08cbc" stroke-width="0.7" transform="rotate(-20 436 846)"/><circle cx="436" cy="846" r="1.1" fill="#e0609c"/><path d="M451 844 Q463 839 475 844 Q463 849 451 844 Z" fill="#f3c4de" stroke="#e08cbc" stroke-width="0.7" transform="rotate(-18 463 844)"/><circle cx="463" cy="844" r="1.1" fill="#e0609c"/><text x="403.4" y="868.66" font-size="6" text-anchor="start" fill="#1a1a1a" stroke="#1a1a1a" stroke-width="0.25">FAP+ CAFs</text><path d="M484 786.5 C478 790 470 791 462 787 C455 783 448 782 442 784.5 C439 785.5 437 786.5 435.5 787.5" fill="none" stroke="#111" stroke-width="0.8"/><polygon points="433.5,792.5 432.6,785 438.8,787.2" fill="#111"/><path d="M529.8 772.4 C535 774 540 770 546 764 C551 760 556 759 562 759.3" fill="none" stroke="#111" stroke-width="0.8"/><polygon points="566,759 560.5,756 560.8,762" fill="#111"/><path d="M492.4 789.4 C491.5 776 496 766 508 765.6 C520 765.3 524.5 777 524.4 798" fill="none" stroke="#1a1a1a" stroke-width="3.8"/><path d="M480.2 798.3 L535.3 798.3 C536 812 535 826 529.5 837.5 C524 844.5 496 845 488 839 C482 830 480 815 480.2 798.3 Z" fill="url(#gL)"/><path d="M480.2 798.3 L535.3 798.3 C536 812 535 826 529.5 837.5 C524 844.5 496 845 488 839 C482 830 480 815 480.2 798.3 Z" fill="url(#gL2)"/><path d="M510 812.5 C512.5 812.5 513.5 815.5 513 818 C515.5 820 516 825.5 512 826 C508 826.5 505.5 824 507 820 C505.5 817.5 507 812.5 510 812.5 Z" fill="#111" stroke="#d8d040" stroke-width="1.2"/><path d="M533.2 838.4 L518.6 824.4" fill="none" stroke="#222" stroke-width="0.6"/><path d="M517.6 823.4 L519.2 827.6 L521.8 825 Z" fill="#222"/><path d="M537 834.3 C533 836 532 843 532.3 849 C535 852 542 852 544.2 848.5 C545 842 542 834 537 834.3 Z" fill="#d6d44c" stroke="#b8b840" stroke-width="0.4"/><text x="534.5" y="857.42" font-size="5.6" text-anchor="middle" fill="#1a1a1a" font-weight="bold" stroke="#1a1a1a" stroke-width="0.1">TSP2</text><path d="M570 754C571.5 750.5 577.33 746.83 582 745C586.67 743.17 592 742.33 598 743C604 743.67 612.17 746.17 618 749C623.83 751.83 628.67 755.5 633 760C637.33 764.5 641.33 770.5 644 776C646.67 781.5 648.5 787.33 649 793C649.5 798.67 648.17 804.17 647 810C645.83 815.83 644.17 822.33 642 828C639.83 833.67 636.83 838.83 634 844C631.17 849.17 627.83 856 625 859C622.17 862 617.83 864.33 617 862C616.17 859.67 618.83 851 620 845C621.17 839 623.17 831.83 624 826C624.83 820.17 625.17 814.83 625 810C624.83 805.17 624.33 801 623 797C621.67 793 619.67 789.33 617 786C614.33 782.67 611.5 779.67 607 777C602.5 774.33 595.67 771.83 590 770C584.33 768.17 576.33 768.67 573 766C569.67 763.33 568.5 757.5 570 754Z" fill="#b4d8ea" opacity="0.6" filter="url(#kb2)"/><path d="M577 751C580.83 747.92 591.33 746.25 598 746.5C604.67 746.75 611.5 749.67 617 752.5C622.5 755.33 627 759.08 631 763.5C635 767.92 638.67 773.75 641 779C643.33 784.25 644.58 789.5 645 795C645.42 800.5 644.67 806.83 643.5 812C642.33 817.17 640.42 824.17 638 826C635.58 827.83 631 825.83 629 823C627 820.17 627 813.33 626 809C625 804.67 624.5 800.67 623 797C621.5 793.33 619.83 790 617 787C614.17 784 610.5 781.58 606 779C601.5 776.42 595.17 773.83 590 771.5C584.83 769.17 577.17 768.42 575 765C572.83 761.58 573.17 754.08 577 751Z" fill="#4a9ccc" opacity="0.72" filter="url(#kb2)"/><path d="M590 751C594.17 749.5 604 749.5 610 751C616 752.5 621.5 755.83 626 760C630.5 764.17 634.67 770.33 637 776C639.33 781.67 640.17 788.67 640 794C639.83 799.33 637.67 807 636 808C634.33 809 632 803.33 630 800C628 796.67 627 791.67 624 788C621 784.33 616.67 781.17 612 778C607.33 774.83 600.5 772 596 769C591.5 766 586 763 585 760C584 757 585.83 752.5 590 751Z" fill="#2a84bf" opacity="0.45" filter="url(#kb2)"/><path d="M634.2 791.08h0M629.13 842.7h0M558.54 760.75h0M638.31 805.09h0M633.57 791.52h0M641.01 796.45h0M624.04 762.1h0M597.3 758.67h0M635.3 802.65h0M633.06 841.92h0M629.8 853.9h0M623.68 851.35h0M614.33 760.53h0M630.96 851.68h0M623.49 776.2h0M580.23 767.72h0M572.85 750.24h0M618.87 762.38h0M601.34 771.51h0M585.01 757.88h0M635.4 820.77h0M628.83 831.9h0M582.57 757.64h0M631.17 856.11h0M633.65 846.71h0M604.78 770.42h0M589.28 747.33h0M644.4 839.81h0M580.67 767.82h0M625.53 852.52h0M631.08 798.04h0M602.59 765.17h0M639.55 812.72h0M593.12 757.05h0M627.47 784.95h0M627.84 834.01h0M584.94 757.14h0M636.52 780.61h0M644.12 816.55h0M639.25 830.39h0M598.79 756.98h0M654.47 778.38h0M624.51 855.4h0M629.18 819.26h0M631.55 780.76h0M631.95 855.42h0M631.36 788.19h0M613.5 753.7h0M624.45 760.6h0M628.61 804.96h0M619.16 767.23h0M635.5 770.44h0M624.85 765.51h0M646.09 797.67h0M602.45 759.7h0M627.53 824.86h0M610.2 762.69h0M627.14 839.86h0M627.2 829.17h0M624.66 851.27h0M607.65 748.23h0M627.31 769.34h0M640.56 827.28h0M629.86 790.47h0M636.85 793.74h0M639.05 817.91h0M627.17 773.35h0M633.59 811.02h0M633.84 783.96h0M590.28 765.43h0M609.88 765.77h0M614.15 767.59h0M605.87 765.98h0M624.8 782.56h0M594.58 754.41h0M577.45 755.22h0M627.54 800.44h0M630.58 849.2h0M630.25 827.37h0M584.13 756.39h0M633.92 850.98h0M620 771.94h0M578.04 756.18h0M580.48 750.57h0M616.91 775.7h0M620.94 767.67h0M633 850.37h0M618.8 766.23h0M616.79 794.71h0M630.92 793.29h0M584.14 755.38h0M615.81 755.75h0M570.59 755.3h0M630.56 846.26h0M624.51 785.48h0M604.54 763.84h0M624.37 799.8h0M591.2 754.54h0M629.92 795.78h0M625.03 791.27h0M633.2 820.12h0M588.13 771.28h0M630.93 841.52h0M626.99 828.62h0M629.41 810.65h0M627.66 847.41h0M634.19 839.72h0M642.84 836.63h0M629.49 815.58h0M637.18 824.64h0M621.57 779.12h0M623.97 778.86h0M637.48 832.01h0M635.7 825.34h0M574.9 737.25h0M626.88 857.03h0M634.49 841.02h0M628.81 849.51h0M616.86 766.91h0M630.5 803.48h0M638.89 803.96h0M625.98 774.83h0M633.71 781.16h0M585.6 763.92h0M614.05 800.94h0M635.64 777.27h0M587.56 755.77h0M625.28 843.35h0M602.23 765.65h0M631.15 821.42h0M595.03 774.48h0M595.31 753.1h0M584.67 756.51h0M586.01 757.94h0M627.84 840.51h0M643.42 829.8h0M595.63 772.4h0M635.74 814.61h0M625.17 849.69h0M587.43 756.79h0M599.04 774.6h0M615.72 774.56h0M627.39 827.11h0M636.41 769.99h0M621.64 793.54h0M627.14 775.77h0M619.49 768.12h0M633.47 782.26h0M644.75 773.33h0M625.31 777.39h0M599.97 768.08h0M627.77 771.29h0M606.7 771.16h0M612.68 776.87h0M587.68 754.02h0M627.63 844.65h0M638.36 779.72h0M632.11 818.85h0M637.29 821.8h0M579.55 759.79h0M634.36 773.89h0M607.61 771.14h0M634.03 815.84h0M595.89 751.17h0M614.95 813.98h0M591.29 760.89h0M637.94 778.1h0M624.68 856.21h0M605.04 766.26h0M636.77 782.9h0M614.9 768.67h0M583.17 765.61h0M616.44 770.28h0M630.17 856.81h0M622.37 774.51h0M623.82 775.73h0M623.85 842.77h0M613.83 765.96h0M624.36 779.78h0M632.14 788.7h0M598.29 773.98h0M609.69 769.59h0M589.24 746.15h0M617.49 772.19h0M614.69 770.33h0M634.73 799.08h0M639.74 815.62h0M608.72 770.93h0M622.46 787.27h0M645.36 786.73h0M628.31 820.51h0M625.72 822.01h0M633.23 814.25h0M631.47 832.3h0M587.61 763.39h0M634.49 813.04h0M633.1 823.21h0M588.09 762.81h0M639.13 835.87h0M597.06 768.75h0M629 771.73h0M633.03 830.87h0M641.46 800.56h0M646.37 772.94h0M582.53 775.2h0M622.45 783.36h0M641.72 821.73h0M627.18 852.86h0M632.03 831.71h0M632.39 855.52h0M641.21 776.96h0M601.81 769.8h0M624.76 804.13h0M602 770.68h0M631.33 851.16h0M631.09 804.68h0M631.77 833.59h0M608.75 769.54h0M633.77 849.52h0M608.98 757.53h0M637.54 796.91h0M565.32 755.66h0M592.96 767.62h0M576 763.53h0M630.28 773.59h0M630.89 850.02h0M630.62 806.82h0M628.79 833.55h0M628.9 810.68h0M592.88 762.46h0M635.53 785.46h0M620.69 767.21h0M645.7 820.87h0M651.14 806.43h0M641.59 804.17h0M637.58 809.49h0M632.25 852.65h0M633.7 792.04h0M630.27 783.81h0M636.5 840.75h0M634.77 781.13h0M632.4 785.86h0M632.65 844.62h0M595.49 756.97h0M586.53 753.68h0M614.69 769.05h0M639.69 828.43h0M618.03 779.96h0M629.97 846.84h0M640.37 799.66h0M588.45 763.26h0M637.15 804.49h0M626.53 790.35h0M642.29 820.98h0M637.77 832.94h0M625.56 828.74h0M598.85 752.66h0M639 785.18h0M599.81 764.57h0M646.38 809.2h0M639.82 810.61h0M650.97 809.66h0M638.84 802.78h0M594.43 761.9h0M609.46 776.26h0M640.68 823.36h0M630.86 794.32h0M625.33 807.03h0M657.87 779.99h0M585.87 747.23h0M620.46 774.63h0M618.47 756.24h0M620.88 782.1h0M637.42 806.38h0M603.76 781.06h0M643.9 790.67h0M603.83 763.7h0M618.17 772.47h0M624.74 855.11h0M633.14 850.01h0M643.53 830.73h0M627.73 773.26h0M623.4 786.25h0M587.39 777.08h0M627.34 778.08h0M623.91 765.16h0M643.41 789.06h0M626.65 828.44h0M627.36 839.82h0M595.73 759.16h0M639.26 766.19h0M619.33 854.42h0M637.5 820.68h0M619.66 832.36h0M628.04 859.68h0M602.45 768.92h0M638.52 812.17h0M642.65 782.94h0M633.61 841.51h0M589.12 740.52h0M639.07 803.58h0M631.52 846.07h0M592.6 766.03h0M626.71 828.71h0M570.63 759.84h0M638.05 816.18h0M629.51 810.59h0M609.41 771.21h0M599.59 763.93h0M633.7 787.78h0M633.08 781.49h0M627.88 827.64h0M635.69 799.08h0M643.56 787.28h0M626.53 772.65h0M618.92 761.46h0M608.13 771.1h0M640.95 845.98h0M623.99 783.88h0M571.69 762.65h0M616.95 800.99h0M597.19 764.97h0M586.95 768.24h0M637.23 802.76h0M590.46 761.69h0M600.78 760.58h0M613.42 756.48h0M614.64 758.48h0M619.7 770.38h0M615.68 762h0M632.46 844.81h0M581.72 748.7h0M593.36 759.95h0M635.67 782.75h0M645.36 805.92h0M630.24 798.29h0M630.45 851.28h0M637.45 813.29h0M619.56 764.76h0M644.13 820.82h0M639.4 840.11h0M608.04 767.55h0M620.61 821.72h0M637.44 785.25h0M614.54 765.82h0M584.78 761.7h0M619.49 769.25h0M604.48 769.53h0M625.77 815.07h0M632.92 847.35h0M611.95 780.36h0M629.24 786.58h0M636.85 823.11h0M588.93 766.94h0M631.04 847.12h0M639 804.84h0M632.91 826.55h0M641.19 797.15h0M590.93 756.61h0M633.99 800.01h0M624.88 778.3h0M582.1 751.17h0M636.09 840.32h0M613.34 758.93h0M629.3 842.85h0M628.1 777.59h0M633.4 798.18h0M656.16 778.99h0M647.95 789.21h0M586.63 759.77h0M624.41 855.42h0M586.92 761.79h0M631.99 785.01h0M626.25 849.32h0M627.12 851.61h0M636.19 791.5h0M625.71 849.84h0M626.23 844.24h0M611.11 762.96h0M634.08 769.33h0M596.76 771.91h0M654.1 830.14h0M594.53 763.98h0M618.58 768.07h0M594.96 759.37h0M634.56 803.8h0M581.69 754.33h0M630.06 829.59h0M618.31 806.46h0M629.83 849.23h0M635.4 843.06h0M632.26 775.28h0M635.66 797.48h0M583.44 753.88h0M629.89 832.98h0M630.93 830.9h0M623.98 818.71h0M636.37 798.02h0M651.95 784.59h0M635.39 823.48h0M629.29 790.93h0M618.59 762.16h0M611.87 756.97h0M619.91 769.98h0M623.2 768.62h0M634.23 788.51h0M625.02 788.07h0M609.95 766.45h0M630.07 775.3h0M611.16 763.85h0M598.35 759.23h0M579.89 762.13h0M626.84 830.17h0M583.4 745.1h0M640.92 795.18h0M640.83 810.32h0M598.85 742.31h0M608.56 767.01h0M585.81 762.13h0M612.92 765.42h0M612.15 762.25h0M614.94 758.31h0M636.65 818.77h0M630.88 779.25h0M634.94 765.48h0M629.04 831.45h0M639.74 835.75h0M620.7 767.02h0M630.7 836.97h0M596.54 768.69h0M635.7 807.78h0M639.17 783.84h0M581.06 755.43h0M593.65 762.55h0M590.75 763.48h0M555.21 750.62h0M627.55 842.6h0M586.55 759.71h0M571.13 750.95h0M637.22 773.25h0M626.57 843.57h0M588.56 766.39h0M634.07 835.92h0M639.96 833.75h0M597.19 756.91h0M586.6 752.31h0M625.61 760.64h0M612.49 766.52h0M646.39 793.69h0M629.91 845.05h0M623.18 788.84h0M593.08 769.8h0M581.77 753.89h0M618.55 772.12h0M629.67 849.37h0M622.66 770.79h0M622.09 782.19h0M650.75 789.68h0M612.97 763.58h0M635.47 840.34h0M610.04 781.9h0M626.79 793.62h0M627.72 833.62h0M628.99 803.77h0M635.6 782.24h0M630.41 843.8h0M630.26 797.95h0M631.23 775.66h0M590.2 744.6h0M595.41 763.48h0M610.09 766.93h0M638.26 785.62h0M620.49 812.69h0M625.51 829.37h0M590.28 764.25h0M648.45 812.51h0M626.64 756.4h0M623.89 853.19h0M630.68 860.51h0M629.47 819.5h0M579.85 771.85h0M625.6 785.08h0M622.94 772.03h0M627.85 771.55h0M635.47 815.88h0M615.11 796.69h0M632.34 830.05h0M645.47 815.28h0M574.46 757.69h0M640.82 790.66h0M628.14 854.67h0M638.54 779.78h0M607.62 763.3h0M610.81 768.01h0M626.89 851.81h0M634.02 830.86h0M596.63 765.49h0M595.87 754.93h0M571.4 769.57h0M631.71 829.67h0M626.92 843.98h0M634.09 797.89h0M603.96 768.2h0M586.18 765.96h0M622.18 852.21h0M629.79 818.22h0M619.64 783.85h0M633.76 833.61h0M606.52 762.51h0M612.01 765.86h0M608.11 775.89h0M631.8 809.03h0M605.68 762.88h0M630.71 787.51h0M643.72 774.9h0M639.32 814.87h0M628.6 779.21h0M630.39 825.47h0M638.48 782.74h0M623.64 787.21h0M613.01 777.97h0M631.94 796.99h0M626.02 776.01h0M590.38 759.3h0M632.98 787.07h0M614.4 773.94h0M634.46 846.42h0M633.99 812.77h0M600.76 780.68h0M630.53 785.74h0M642.69 793.15h0M626.26 818.4h0M642.83 822.73h0M568.26 757.29h0M613.72 764.69h0M625.31 795.49h0M628.67 842.2h0M636.26 822.97h0M648.2 807.06h0M593.27 766.02h0M635.69 811.29h0M625.1 850.61h0M625.28 860.31h0M634.53 854.2h0M621.29 804.55h0M636.06 841.34h0M628.09 785.61h0M634.9 827.82h0M647.66 767.54h0M628.99 830.29h0M627.2 780.17h0M629.45 828.13h0M618.46 784.83h0M657.08 800.02h0M613.02 770.35h0M606.23 761.33h0M615.7 764.31h0M619.94 804.07h0M629.49 787.69h0M625.82 772.86h0M588.44 773.26h0M627.92 851.4h0M605.42 763.02h0M583.58 759.74h0M594.86 758.42h0M631.8 768.38h0M627.34 848.15h0M588.91 752.98h0M574.78 777.65h0M633.93 806.36h0M573.27 763.78h0M633.02 843.72h0M625.14 855.43h0M576.51 763.02h0M623.19 798.27h0M626.83 795.47h0M602.67 768.03h0M618.16 765.95h0M627.15 778.2h0M630.23 791.72h0M586.32 762.13h0M573.55 750.55h0M600.98 773.65h0M608.28 758.14h0M600.81 766.3h0M630.94 807.8h0M597.91 746.83h0M642.99 811.25h0M630.09 832.64h0M615.24 769.37h0M580.55 768.56h0M623.49 843.9h0M609.75 756.65h0M640.14 778.12h0M624.72 860.51h0M641.07 831.54h0M582.7 769.1h0M630.47 843.82h0M616.16 775.59h0M595.35 764.8h0M590.65 776.77h0M635.05 782.87h0M582.79 754.93h0M599.42 752.11h0M621.32 803.62h0M631.43 781.41h0M611.61 764.44h0M627.13 853.25h0M612.74 759.99h0M612.65 751.91h0M575.63 759.01h0M630.67 809.81h0M605.32 764.14h0M628.55 774.92h0M623.3 852.28h0M626.3 844.93h0M633.19 824.33h0M628.89 777.21h0M632.34 816.59h0M592.54 758.47h0M608.1 776.75h0M630.09 842.22h0M629.3 859.46h0M631.07 819.56h0M633.72 797.6h0M631.51 839.48h0M632.47 823.59h0M630.17 769.55h0M618.86 776.35h0M612.46 768.94h0M614.27 785.55h0M650.07 786.88h0M623.39 789.16h0M623 763.91h0M601.83 758.37h0M626.22 819.37h0M638.27 798.91h0M632.74 821.21h0M633.51 823.43h0M634.45 783.15h0M595.99 755.36h0M622.04 768.06h0M619.29 820.14h0M603.29 758.03h0M632.54 801.94h0M617.95 781.82h0M622.15 800.42h0M629.46 806.78h0M633.51 812.89h0M588.49 771.4h0M620.39 808.71h0M607.73 780.44h0M620.73 817.13h0M561.95 753.73h0M635 846.88h0M642.17 787.32h0M619.99 794.22h0M614.63 773.84h0M648.46 817.06h0M602.21 778.24h0M633.98 777.46h0M588.79 781.45h0M615.3 755.53h0M633.88 821.39h0M628.53 842.83h0M646.06 798.74h0M598.33 771.68h0M590.68 757.83h0M604.52 767.23h0M630.75 788.08h0M618.88 794.98h0M627 789.16h0M635.73 833.49h0M632.69 838.04h0M624.56 838.08h0M632.47 816.56h0M632.71 818.17h0M595.83 780.52h0M641.06 804.46h0M629.09 856.42h0M628.92 822.79h0M633.61 820.11h0M603.42 773.39h0M633.17 774.17h0M630.42 848.9h0M579.02 778.64h0M633.72 755.85h0M638.23 819.5h0M596.81 769.27h0M591.97 754.79h0M612.06 772.84h0M586.94 761.52h0M633.44 802.23h0M622.63 753.95h0M631.49 855.09h0M642.25 774.85h0M633.35 804.25h0M632.28 765.56h0M636.36 777.81h0M619.76 782.92h0M558.04 759.27h0M627.13 847.02h0M650.36 800.17h0M607.46 780.06h0M627.71 789.02h0M616.26 810.26h0M634.47 857.81h0M588.77 760.5h0M629.42 831.59h0M588.52 763.64h0M593.68 757h0M593.3 760.16h0M626.71 826.56h0M634.24 813.76h0M622.08 781.25h0M623.8 847.64h0M640.01 806.58h0M636.27 791.43h0M599.93 772.3h0M639.25 771.68h0M604.65 775.3h0M593.42 764.13h0M646.6 797.88h0M626.31 805.43h0M639.67 801.8h0M637.3 793.31h0M630.14 831.18h0M597.88 759.5h0M604.03 770.55h0M640.87 799.27h0M620.87 786.43h0M606.7 782.69h0M591.16 756.72h0M626.26 785.84h0M600.35 762.65h0M593.14 754.75h0M604.47 743.99h0M599.42 757.69h0M621.91 854.73h0M640.88 814.03h0M636.82 817.2h0M631.56 855h0M575.73 737.8h0M632.82 821.17h0M643.81 800.98h0M598.86 772.87h0M638.76 814.45h0M585.23 753.12h0M635.18 794.48h0M633.28 821.03h0M624.36 789.62h0M593.93 774.3h0M639.71 834.41h0M626.93 839.58h0M634.66 851.19h0M612.28 775.73h0M625.36 831.39h0M609.57 759.81h0M602.58 754.55h0M612.26 760.32h0M641.97 810.07h0M626.71 789.83h0M648.93 787.66h0M603.97 758.42h0M617.73 766.99h0M625.49 832.15h0M616.78 774.86h0M612.62 744.14h0M628.94 790.78h0M632.94 839.89h0M638.47 789.09h0M629.13 777.55h0M628.77 815.27h0M627.5 850.39h0M627.63 831.95h0M623.36 765.17h0M635.15 809.37h0M579.5 775.44h0M579.03 763.42h0M634.59 774.19h0M597.12 760.76h0M625.28 820.57h0M627.29 793.48h0M595.04 754.03h0M592.73 771.79h0M633.68 772.81h0M596.76 757.47h0M592.92 748.25h0M602.66 777.21h0M586.24 776.65h0M609.76 755.87h0M627.3 859.15h0M640.19 791.63h0M640.44 788.39h0M638.81 783.9h0M611.52 757.99h0M644.86 826.03h0M634.99 792.73h0M593.94 779.79h0M647.94 791.4h0M624.87 855.02h0M622.82 770.04h0M651.46 773.64h0M632.74 818.55h0M593.49 764.51h0M607.69 762.91h0M636.57 827.08h0M584.76 766.2h0M629.02 821.91h0M587.69 752.07h0M626.82 823.91h0M575.31 763.39h0M605.25 766.79h0M624.35 808.41h0M628.86 835.82h0M646.79 771.22h0M600.28 752.69h0M616.3 766.29h0M626.45 818.42h0M601.49 747.82h0M631.77 831.24h0M582.55 758.63h0M632.3 784.26h0M630.59 781.54h0M618.6 772.12h0M635.05 856.13h0M635.16 781.38h0M645.76 789.8h0M572.65 767.08h0M635.31 839.25h0M628.72 851.74h0M612.21 761.63h0M645.24 806h0M592.65 764.95h0M611.77 766.98h0M621.36 812.13h0M639.1 797.66h0M611.76 774.73h0M643.23 784.66h0M625.48 852.16h0M628.99 769.23h0M620.08 772.45h0M624.52 816.23h0M615.49 768.33h0M631.67 783.19h0M576.88 763.99h0M639.51 823.66h0M629.31 854.66h0M594.8 757h0M628.12 782.28h0M603.16 774.38h0M644.4 816.66h0M622.95 786.46h0M639.18 820.09h0M626.98 773.11h0M572.57 750.74h0M640.14 813.64h0M629.1 821.76h0M638.27 818.6h0M626.38 780.2h0M624.42 834.62h0M626.04 834.37h0M634.7 795.38h0M631.59 846.65h0M643.38 785.32h0M619.43 784.04h0M639.94 794.88h0M611.85 765.51h0M632.72 783.18h0M647.73 792.98h0M635.75 831.53h0M641.98 774.85h0M631.22 785.77h0M611.76 774.38h0M624.33 801.12h0M616.21 799.83h0M570.7 750.2h0M620 774.02h0M578.38 749.62h0M634.19 831.01h0M613.54 775.3h0M579.32 763.61h0M601.9 773.44h0M602.41 771.81h0M604.35 767.21h0M636.83 840.89h0M577.99 767.72h0M632.75 802.23h0M569.86 765.95h0M618.85 775.13h0M628.85 819.03h0M633.66 826.96h0M634.86 803.78h0M627.05 766.16h0M631.75 779.72h0M646.15 792.52h0M627.47 853.99h0M616.38 773.41h0M602.34 750.98h0M614.52 771.22h0" stroke="#4aa2d4" stroke-width="0.9" stroke-linecap="round" opacity="0.5"/><path d="M587.8 762.74h0M598.02 761.64h0M628.95 786.04h0M590.33 744.65h0M624.88 786.3h0M628.84 785.09h0M600.31 760.91h0M616.27 781.74h0M603.85 773.12h0M600.93 771.98h0M595.68 762.95h0M609.39 783.4h0M589.92 761.84h0M592.28 762.86h0M590.7 753.62h0M582.6 767.46h0M627.23 777.53h0M596.33 765.37h0M624.6 767.98h0M619.14 776.57h0M592.72 762.3h0M627.77 789.16h0M631.11 788.53h0M620.63 779.86h0M626.33 791.54h0M614.05 783.71h0M607.19 774.03h0M577.1 752.37h0M628.33 777.55h0M621.28 789.07h0M629.25 796.52h0M618.56 777.19h0M628.63 779.87h0M642.12 791.04h0M619.87 773.16h0M614.26 771.7h0M590.33 747.08h0M585.69 759.04h0M599.8 760.36h0M620 784.95h0M634.58 792.7h0M580.79 754.3h0M592.82 756.54h0M619.57 781.57h0M591.1 762.59h0M605.13 772.13h0M613.76 781.12h0M602.71 764.16h0M613.77 781.56h0M594.5 747.26h0M605.71 776.02h0M612.88 777.48h0M596.59 775.38h0M587.52 762.97h0M594.72 756.31h0M633.53 785.57h0M605.67 767.91h0M615.07 771.56h0M577.49 762.61h0M626.79 784.56h0M629.74 791.09h0M630.53 780.83h0M618.4 768.45h0M588.71 746.07h0M617.44 782.72h0M644.71 790.73h0M617.42 764.65h0M613.32 778.27h0M583.45 764.09h0M600.73 763.33h0M626.65 803.78h0M591.89 773.11h0M622.98 790.56h0M622.13 792.67h0M634.67 789.93h0M622.26 784.37h0M620.55 784.86h0M599.82 757.42h0M627.39 773.23h0M582.48 765.59h0M629.34 784.06h0M617.18 774.99h0M616.15 780.99h0M594.7 759.52h0M583.96 754.46h0M630.48 793.29h0M586.05 763.33h0M575.32 755.49h0M589 761.86h0M600.97 757.44h0M643.99 793.29h0M615.11 787.14h0M580.68 749.73h0M618.71 783.35h0M612.48 785.12h0M630.12 783.54h0M627.4 795.64h0M601.23 762.27h0M578.99 755.88h0M615.29 788.02h0M601.77 779.78h0M592.12 748.12h0M592.5 762.76h0M631.57 782.36h0M621.92 793.23h0M632.35 782.75h0M622.37 775.55h0M577.73 751.55h0M586.59 763.06h0M575.74 755.82h0M614.95 766.87h0M627.58 795.08h0M618.9 776.51h0M594.35 761.87h0M622.28 793.45h0M596.66 745.1h0M626.92 800.14h0M635.92 792.79h0M618.03 778.47h0M622.44 779.76h0M580.81 757.4h0M599.05 754.28h0M583.27 753.03h0M644.12 788.05h0M579.94 755.82h0M631.09 787.61h0M604.81 765.38h0M626.85 778.38h0M608.63 773.71h0M588.45 754.08h0M608.16 765.16h0M623.81 770.44h0M587.66 757.18h0M615.62 777.49h0M595.74 751.57h0M595.97 763.34h0M608.97 778.97h0M634.97 788.29h0M590.83 751.88h0M608.69 772.67h0M636.61 798.03h0M598.77 764.71h0M610.88 765.12h0M635.54 796.24h0M603.77 769.95h0M616.28 778.44h0M633.6 788.54h0M576.96 744.56h0M600.26 766.36h0M603.63 774.69h0M585.74 755.37h0M583.46 756.39h0M604.68 762.22h0M600.08 760.12h0M607.95 786.87h0M601.74 757.85h0M641.96 796.67h0M609.09 774.4h0M620.67 764.95h0M637.02 795.81h0M623.65 791.55h0M625.03 785.55h0M633.12 764.78h0M599.29 756.21h0M600.09 769.31h0M579.15 754.68h0M589.8 763.07h0M590.45 776.39h0M597.78 763.92h0M639.09 778.22h0M627.03 774.64h0M594.08 761.91h0M628.19 813.14h0M587.72 769.81h0M612.14 777.93h0M630.08 793.95h0M619.25 786.1h0M596.51 755.37h0M609.32 784.59h0M603.28 772.23h0M626.62 777.03h0M624.25 774.91h0M633.47 803.21h0M614.03 778.59h0M590.74 758.88h0M622.47 792.5h0M611.43 762.93h0M597.89 763.78h0M638.94 800.88h0M619.83 787.22h0M588.91 755.76h0M590.61 745.16h0M625.06 780.06h0M593.99 758.22h0M620.28 778.38h0M602.64 773.93h0M609.64 768.34h0M603.88 769.93h0M616.6 772.58h0M580.68 750.86h0M612.22 770.26h0M611.9 773.51h0M592.12 763.2h0M592.94 752.46h0M602.4 769.73h0M627.09 780.35h0M582.82 752.88h0M626.36 782.3h0M605.04 776.4h0M641.34 786.74h0M618.46 770.71h0M594.86 763.84h0M579.39 761.4h0M596.22 763.01h0M614.36 761.63h0M624.48 796.02h0M589.07 759.44h0M588.27 760.12h0M624.79 794.28h0M596.8 759.89h0M625.47 783.83h0M603.5 779.95h0M606.89 782.96h0M585.59 757.52h0M591.66 762.96h0M593.06 749.93h0M591.46 761.85h0M601.86 765.22h0M601.69 751.87h0M608.72 773.46h0M627.25 784.18h0M622.76 781.09h0M582.42 766.06h0M623.21 784.55h0M611.42 778.3h0M629.84 795.12h0M618.92 778.01h0M610.81 772.94h0M582.88 760.8h0M627.09 778.2h0M617.63 768.92h0M597.08 770.94h0M579.93 748.77h0M594.84 764.38h0M609.55 765.35h0M605.85 785.3h0M655.23 802.62h0M595.42 752.76h0M620.15 787.29h0M591.83 761.09h0" stroke="#a8d4ee" stroke-width="0.8" stroke-linecap="round" opacity="0.35"/><path d="M628 750.8 C644 756 653 770 654.3 784" fill="none" stroke="#78b4dc" stroke-width="0.9"/><path d="M651.5 781 L654.5 786.5 L657 780.5" fill="none" stroke="#78b4dc" stroke-width="0.9"/><circle cx="573.6" cy="788" r="8.2" fill="#d0b6de"/><circle cx="573.6" cy="788" r="7.75" fill="none" stroke="#a98ac4" stroke-width="0.9"/><circle cx="573.6" cy="788" r="1.8" fill="#6a4898"/><circle cx="570.9" cy="816.1" r="7.5" fill="#d0b6de"/><circle cx="570.9" cy="816.1" r="7.05" fill="none" stroke="#a98ac4" stroke-width="0.9"/><circle cx="570.9" cy="816.1" r="1.8" fill="#6a4898"/><circle cx="591.7" cy="828.8" r="7.5" fill="#d0b6de"/><circle cx="591.7" cy="828.8" r="7.05" fill="none" stroke="#a98ac4" stroke-width="0.9"/><circle cx="591.7" cy="828.8" r="1.8" fill="#6a4898"/><circle cx="609.8" cy="819.7" r="7.5" fill="#d0b6de"/><circle cx="609.8" cy="819.7" r="7.05" fill="none" stroke="#a98ac4" stroke-width="0.9"/><circle cx="609.8" cy="819.7" r="1.8" fill="#6a4898"/><circle cx="659.7" cy="843.3" r="7" fill="#d0b6de"/><circle cx="659.7" cy="843.3" r="6.55" fill="none" stroke="#a98ac4" stroke-width="0.9"/><circle cx="659.7" cy="843.3" r="1.8" fill="#6a4898"/><circle cx="631.6" cy="867.8" r="7.5" fill="#d0b6de"/><circle cx="631.6" cy="867.8" r="7.05" fill="none" stroke="#a98ac4" stroke-width="0.9"/><circle cx="631.6" cy="867.8" r="1.8" fill="#6a4898"/><circle cx="589.9" cy="808" r="9.5" fill="#f5bfae"/><circle cx="589.9" cy="808" r="9.1" fill="none" stroke="#e89a90" stroke-width="0.7"/><circle cx="589.9" cy="808" r="2.4" fill="#e2405a"/><circle cx="554.5" cy="827" r="10" fill="#f5bfae"/><circle cx="554.5" cy="827" r="9.6" fill="none" stroke="#e89a90" stroke-width="0.7"/><circle cx="554.5" cy="827" r="2.4" fill="#e2405a"/><circle cx="580.5" cy="847.8" r="9.5" fill="#f5bfae"/><circle cx="580.5" cy="847.8" r="9.1" fill="none" stroke="#e89a90" stroke-width="0.7"/><circle cx="580.5" cy="847.8" r="2.4" fill="#e2405a"/><circle cx="591" cy="784" r="0.9" fill="#e0506a"/><circle cx="596" cy="842" r="0.9" fill="#e0506a"/><circle cx="604" cy="835" r="0.9" fill="#e0506a"/><circle cx="600" cy="846" r="0.9" fill="#e0506a"/><circle cx="564" cy="839" r="0.9" fill="#e0506a"/><circle cx="555" cy="838" r="0.9" fill="#e0506a"/><circle cx="577" cy="860" r="0.9" fill="#e0506a"/><circle cx="583" cy="863" r="0.9" fill="#e0506a"/><circle cx="589" cy="866" r="0.9" fill="#e0506a"/><circle cx="575" cy="867" r="0.9" fill="#e0506a"/><circle cx="599" cy="812" r="0.9" fill="#e0506a"/><circle cx="614" cy="822" r="0.9" fill="#e0506a"/><circle cx="652" cy="830" r="0.9" fill="#e0506a"/><circle cx="560" cy="848" r="0.9" fill="#e0506a"/><text x="586.3" y="796.46" font-size="6" text-anchor="start" fill="#1a1a1a" stroke="#1a1a1a" stroke-width="0.25">MMP+ cells</text><text x="607.7" y="807.9" font-size="5" text-anchor="start" fill="#e02020" font-weight="bold" stroke="#e02020" stroke-width="0.1">MMPs</text><text x="602.6" y="832.36" font-size="6" text-anchor="start" fill="#1a1a1a" stroke="#1a1a1a" stroke-width="0.25">Tumor cells</text><path d="M600.8 839.7 C606 848 612 855 620.6 859" fill="none" stroke="#a078c8" stroke-width="1.6"/><path d="M617 855.5 L622.5 860 L617.5 862" fill="none" stroke="#a078c8" stroke-width="1.4"/></svg></body></html>
